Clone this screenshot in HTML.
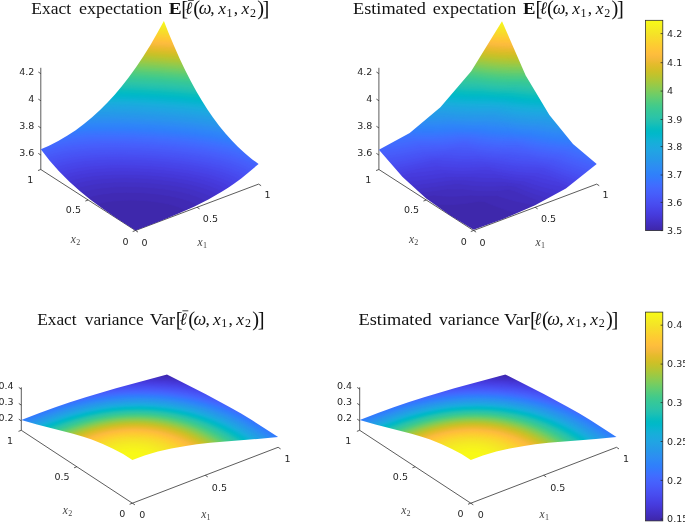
<!DOCTYPE html>
<html><head><meta charset="utf-8"><title>figure</title><style>html,body{margin:0;padding:0;background:#fff}svg{display:block}</style></head><body>
<svg width="685" height="523" viewBox="0 0 685 523">
<rect width="685" height="523" fill="#fff"/>
<path d="M135.50 230.50L258.60 184.10" stroke="#262626" stroke-width="0.75" fill="none"/>
<path d="M135.50 230.50L40.80 169.50" stroke="#262626" stroke-width="0.75" fill="none"/>
<path d="M40.80 169.50L40.80 67.80" stroke="#262626" stroke-width="0.75" fill="none"/>
<path d="M135.50 230.50L138.02 232.12" stroke="#262626" stroke-width="0.75" fill="none"/>
<path d="M135.50 230.50L132.69 231.56" stroke="#262626" stroke-width="0.75" fill="none"/>
<path d="M197.05 207.30L199.57 208.92" stroke="#262626" stroke-width="0.75" fill="none"/>
<path d="M88.15 200.00L85.34 201.06" stroke="#262626" stroke-width="0.75" fill="none"/>
<path d="M258.60 184.10L261.12 185.72" stroke="#262626" stroke-width="0.75" fill="none"/>
<path d="M40.80 169.50L37.99 170.56" stroke="#262626" stroke-width="0.75" fill="none"/>
<path d="M40.80 73.60L38.28 71.98" stroke="#262626" stroke-width="0.75" fill="none"/>
<path d="M40.80 100.70L38.28 99.08" stroke="#262626" stroke-width="0.75" fill="none"/>
<path d="M40.80 127.90L38.28 126.28" stroke="#262626" stroke-width="0.75" fill="none"/>
<path d="M40.80 155.00L38.28 153.38" stroke="#262626" stroke-width="0.75" fill="none"/>
<mask id="c1" maskUnits="userSpaceOnUse" x="0" y="0" width="685" height="523"><path d="M135.5 230.5 161.1 220.7 178.6 213.6 194 206.7 208.3 199.5 221.7 191.8 228.9 187.2 235 183 241.2 178.5 247.3 173.6 258.6 163.9 252.3 159.4 245.2 153.6 238.1 147.1 231.8 140.6 225.5 133.5 219.1 125.8 212.8 117.3 207.3 109.2 201.8 100.6 196.3 91.2 190.7 81.1 185.2 70.3 179.7 58.7 174.2 46.3 168.6 33 163.9 20.9 157.7 32.3 150.6 44.7 143.4 56.3 136.2 67 129 77 121.8 86.2 114.7 94.7 107.5 102.6 100.3 109.8 92.1 117.3 83.9 124.1 75.7 130.2 67.5 135.6 58.2 141.1 49 145.8 40.8 149.3 49.5 160.4 59 171.2 69.2 181.6 79.5 190.8 90.5 199.8 102.4 208.5 115.8 217.7z" fill="#fff"/></mask>
<g mask="url(#c1)">
<path d="M135.5 230.5 161.1 220.7 178.6 213.6 194 206.7 208.3 199.5 221.7 191.8 228.9 187.2 235 183 241.2 178.5 247.3 173.6 258.6 163.9 252.3 159.4 245.2 153.6 238.1 147.1 231.8 140.6 225.5 133.5 219.1 125.8 212.8 117.3 207.3 109.2 201.8 100.6 196.3 91.2 190.7 81.1 185.2 70.3 179.7 58.7 174.2 46.3 168.6 33 163.9 20.9 157.7 32.3 150.6 44.7 143.4 56.3 136.2 67 129 77 121.8 86.2 114.7 94.7 107.5 102.6 100.3 109.8 92.1 117.3 83.9 124.1 75.7 130.2 67.5 135.6 58.2 141.1 49 145.8 40.8 149.3 49.5 160.4 59 171.2 69.2 181.6 79.5 190.8 90.5 199.8 102.4 208.5 115.8 217.7z" fill="#3e28ac" stroke="#3e28ac" stroke-width="1"/>
<path d="M185.9 210.4 197.1 205.2 207.3 200 216.5 194.9 225.8 189.2 235 183 243.2 176.9 251.4 170.2 258.6 163.9 252.3 159.4 245.2 153.6 238.1 147.1 231.8 140.6 225.5 133.5 219.1 125.8 212.8 117.3 207.3 109.2 201.8 100.6 196.3 91.2 190.7 81.1 185.2 70.3 179.7 58.7 174.2 46.3 168.6 33 163.9 20.9 157.7 32.3 150.6 44.7 143.4 56.3 136.2 67 129 77 121.8 86.2 114.7 94.7 107.5 102.6 100.3 109.8 92.1 117.3 83.9 124.1 75.7 130.2 67.5 135.6 58.2 141.1 49 145.8 40.8 149.3 46.3 156.5 52.6 164.1 59 171.2 66.1 178.5 73.2 185.3 80.3 191.5 88.2 197.9 96.7 204.4 101.1 203.1 106 202.1 112.4 201.1 118.2 200.5 130.6 200.1 143.7 200.5 150.7 201.2 157.1 202 163 202.9 168.5 204.1 173.6 205.4 178.2 206.9 182.4 208.6z" fill="#402ab4" stroke="#402ab4" stroke-width="0.8"/>
<path d="M197.7 204.9 206.3 200.6 214.5 196.1 222.7 191.2 229.9 186.5 237.1 181.5 244.2 176.1 251.4 170.2 258.6 163.9 252.3 159.4 245.2 153.6 238.1 147.1 231.8 140.6 225.5 133.5 219.1 125.8 212.8 117.3 207.3 109.2 201.8 100.6 196.3 91.2 190.7 81.1 185.2 70.3 179.7 58.7 174.2 46.3 168.6 33 163.9 20.9 157.7 32.3 150.6 44.7 143.4 56.3 136.2 67 129 77 121.8 86.2 114.7 94.7 107.5 102.6 100.3 109.8 92.1 117.3 83.9 124.1 75.7 130.2 67.5 135.6 58.2 141.1 49 145.8 40.8 149.3 46.3 156.5 51.8 163.2 57.4 169.5 62.9 175.3 68.4 180.8 74.7 186.7 81 192.2 87.6 197.5 92 196.2 98 194.8 104.5 193.7 111.9 192.9 118.8 192.5 126.6 192.3 134.9 192.4 144.4 192.8 152.9 193.5 160.9 194.4 168.8 195.7 175.8 197.1 182.2 198.7 188.4 200.7 193.2 202.6z" fill="#412dbc" stroke="#412dbc" stroke-width="0.8"/>
<path d="M205.9 200.8 213.5 196.6 220.6 192.4 227.8 187.9 234 183.7 240.1 179.2 246.3 174.5 252.4 169.3 258.6 163.9 252.3 159.4 245.2 153.6 238.1 147.1 231.8 140.6 225.5 133.5 219.1 125.8 212.8 117.3 207.3 109.2 201.8 100.6 196.3 91.2 190.7 81.1 185.2 70.3 179.7 58.7 174.2 46.3 168.6 33 163.9 20.9 157.7 32.3 150.6 44.7 143.4 56.3 136.2 67 129 77 121.8 86.2 114.7 94.7 107.5 102.6 100.3 109.8 92.1 117.3 83.9 124.1 75.7 130.2 67.5 135.6 58.2 141.1 49 145.8 40.8 149.3 50.3 161.3 59.7 172 70 182.3 81.4 192.4 86.9 190.8 92.9 189.4 100.7 188.1 109.1 187.3 116.8 186.8 126 186.6 135.9 186.7 145.7 187.2 155.9 188.1 164.3 189.1 173.4 190.5 181.8 192.1 189.4 194.1 196.3 196.3 201.4 198.4z" fill="#4230c3" stroke="#4230c3" stroke-width="0.8"/>
<path d="M212.3 197.3 224.7 189.9 237.1 181.5 248.3 172.8 258.6 163.9 252.3 159.4 245.2 153.6 238.1 147.1 231.8 140.6 225.5 133.5 219.1 125.8 212.8 117.3 207.3 109.2 201.8 100.6 196.3 91.2 190.7 81.1 185.2 70.3 179.7 58.7 174.2 46.3 168.6 33 163.9 20.9 157.7 32.3 150.6 44.7 143.4 56.3 136.2 67 129 77 121.8 86.2 114.7 94.7 107.5 102.6 100.3 109.8 92.1 117.3 83.9 124.1 75.7 130.2 67.5 135.6 58.2 141.1 49 145.8 40.8 149.3 48.7 159.4 57.4 169.5 66.8 179.3 76.4 188.2 81.9 186.5 89.2 184.9 97 183.6 105.7 182.7 115.7 182.1 125.2 181.9 135.2 182.1 146.5 182.6 156.9 183.5 166.9 184.6 177.4 186.2 185.9 187.9 194.8 190.2 201.6 192.4 207.9 194.9z" fill="#4332ca" stroke="#4332ca" stroke-width="0.8"/>
<path d="M217.6 194.2 228.9 187.2 239.1 180 249.4 171.9 258.6 163.9 252.3 159.4 245.2 153.6 238.1 147.1 231.8 140.6 225.5 133.5 219.1 125.8 212.8 117.3 207.3 109.2 201.8 100.6 196.3 91.2 190.7 81.1 185.2 70.3 179.7 58.7 174.2 46.3 168.6 33 163.9 20.9 157.7 32.3 150.6 44.7 143.4 56.3 136.2 67 129 77 121.8 86.2 114.7 94.7 107.5 102.6 100.3 109.8 92.1 117.3 83.9 124.1 75.7 130.2 67.5 135.6 58.2 141.1 49 145.8 40.8 149.3 47.9 158.4 55.8 167.7 63.7 176.1 72.3 184.5 78.9 182.5 86.2 180.9 94 179.6 103.8 178.6 113 178.1 124.3 177.8 135.5 178 147.8 178.6 160 179.7 170.9 181 181.7 182.7 190.3 184.4 199.2 186.7 206.1 188.9 212.3 191.4z" fill="#4435d1" stroke="#4435d1" stroke-width="0.8"/>
<path d="M222.3 191.4 231.9 185.1 241.2 178.5 250.4 171.1 258.6 163.9 252.3 159.4 245.2 153.6 238.1 147.1 231.8 140.6 225.5 133.5 219.1 125.8 212.8 117.3 207.3 109.2 201.8 100.6 196.3 91.2 190.7 81.1 185.2 70.3 179.7 58.7 174.2 46.3 168.6 33 163.9 20.9 157.7 32.3 150.6 44.7 143.4 56.3 136.2 67 129 77 121.8 86.2 114.7 94.7 107.5 102.6 100.3 109.8 92.1 117.3 83.9 124.1 75.7 130.2 67.5 135.6 58.2 141.1 49 145.8 40.8 149.3 47.1 157.5 54.2 165.9 61.3 173.7 68.7 181.1 75.3 179.1 83.8 177.2 93 175.8 102.9 174.9 113.5 174.3 124.6 174.2 136.4 174.4 148.8 175.1 161.9 176.2 173.5 177.6 184.1 179.2 193.9 181.2 202.2 183.3 209.7 185.7 217 188.6z" fill="#4538d8" stroke="#4538d8" stroke-width="0.8"/>
<path d="M226.5 188.8 235 183 243.2 176.9 251.4 170.2 258.6 163.9 252.3 159.4 245.2 153.6 238.1 147.1 231.8 140.6 225.5 133.5 219.1 125.8 212.8 117.3 207.3 109.2 201.8 100.6 196.3 91.2 190.7 81.1 185.2 70.3 179.7 58.7 174.2 46.3 168.6 33 163.9 20.9 157.7 32.3 150.6 44.7 143.4 56.3 136.2 67 129 77 121.8 86.2 114.7 94.7 107.5 102.6 100.3 109.8 92.1 117.3 83.9 124.1 75.7 130.2 67.5 135.6 58.2 141.1 49 145.8 40.8 149.3 46.3 156.5 52.6 164.1 59 171.2 65.5 178 73.3 175.6 81.8 173.8 91.1 172.5 101 171.5 111.5 171 124.3 170.8 136.1 171.1 148.4 171.7 161.5 172.7 173.5 174.1 185.7 175.9 195.6 177.8 204.6 180.1 212.9 182.6 220.2 185.5z" fill="#463bdd" stroke="#463bdd" stroke-width="0.8"/>
<path d="M230.2 186.3 238.1 180.8 245.3 175.3 252.4 169.3 258.6 163.9 252.3 159.4 245.2 153.6 238.1 147.1 231.8 140.6 225.5 133.5 219.1 125.8 212.8 117.3 207.3 109.2 201.8 100.6 196.3 91.2 190.7 81.1 185.2 70.3 179.7 58.7 174.2 46.3 168.6 33 163.9 20.9 157.7 32.3 150.6 44.7 143.4 56.3 136.2 67 129 77 121.8 86.2 114.7 94.7 107.5 102.6 100.3 109.8 92.1 117.3 83.9 124.1 75.7 130.2 67.5 135.6 58.2 141.1 49 145.8 40.8 149.3 45.5 155.5 51.1 162.3 56.6 168.6 62.6 175 70.4 172.7 78.9 170.9 89.2 169.3 99.4 168.4 110.3 167.8 123.6 167.6 137.7 168 150.3 168.7 163.4 169.8 177.3 171.4 188.3 173.1 199.5 175.3 208.5 177.5 217 180.2 224 183z" fill="#473fe2" stroke="#473fe2" stroke-width="0.8"/>
<path d="M233.7 183.9 240.1 179.2 246.3 174.5 252.4 169.3 258.6 163.9 252.3 159.4 245.2 153.6 238.1 147.1 231.8 140.6 225.5 133.5 219.1 125.8 212.8 117.3 207.3 109.2 201.8 100.6 196.3 91.2 190.7 81.1 185.2 70.3 179.7 58.7 174.2 46.3 168.6 33 163.9 20.9 157.7 32.3 150.6 44.7 143.4 56.3 136.2 67 129 77 121.8 86.2 114.7 94.7 107.5 102.6 100.3 109.8 92.1 117.3 83.9 124.1 75.7 130.2 67.5 135.6 58.2 141.1 49 145.8 40.8 149.3 50.3 161.3 60 172.3 67.7 169.9 77.5 167.8 87.9 166.3 98.1 165.4 110.2 164.8 123 164.7 136.5 165 150.7 165.8 165.3 167 178.4 168.5 190.6 170.3 201.8 172.6 212.1 175.1 220.2 177.7 227.4 180.6z" fill="#4743e7" stroke="#4743e7" stroke-width="0.8"/>
<path d="M236.8 181.7 248.3 172.8 258.6 163.9 252.3 159.4 245.2 153.6 238.1 147.1 231.8 140.6 225.5 133.5 219.1 125.8 212.8 117.3 207.3 109.2 201.8 100.6 196.3 91.2 190.7 81.1 185.2 70.3 179.7 58.7 174.2 46.3 168.6 33 163.9 20.9 157.7 32.3 150.6 44.7 143.4 56.3 136.2 67 129 77 121.8 86.2 114.7 94.7 107.5 102.6 100.3 109.8 92.1 117.3 83.9 124.1 75.7 130.2 67.5 135.6 58.2 141.1 49 145.8 40.8 149.3 48.7 159.4 57.5 169.6 65.3 167.3 75 165.2 85.6 163.6 95.5 162.7 107.5 162 120.5 161.8 134.7 162.1 149.8 162.9 164.3 164.1 178.1 165.6 191.1 167.5 202.5 169.6 212.9 172.1 222.3 175 230.6 178.4z" fill="#4746ea" stroke="#4746ea" stroke-width="0.8"/>
<path d="M239.8 179.5 249.4 171.9 258.6 163.9 252.3 159.4 245.2 153.6 238.1 147.1 231.8 140.6 225.5 133.5 219.1 125.8 212.8 117.3 207.3 109.2 201.8 100.6 196.3 91.2 190.7 81.1 185.2 70.3 179.7 58.7 174.2 46.3 168.6 33 163.9 20.9 157.7 32.3 150.6 44.7 143.4 56.3 136.2 67 129 77 121.8 86.2 114.7 94.7 107.5 102.6 100.3 109.8 92.1 117.3 83.9 124.1 75.7 130.2 67.5 135.6 58.2 141.1 49 145.8 40.8 149.3 47.9 158.4 55.3 167.1 63 164.7 72.7 162.6 83.2 161 95.1 159.9 108.2 159.3 122.6 159.2 136.7 159.5 151.6 160.3 167.1 161.6 180.9 163.2 193.6 165.1 205.6 167.4 216 169.9 225.3 172.8 233.6 176.2z" fill="#484aee" stroke="#484aee" stroke-width="0.8"/>
<path d="M242.6 177.4 250.4 171.1 258.6 163.9 252.3 159.4 245.2 153.6 238.1 147.1 231.8 140.6 225.5 133.5 219.1 125.8 212.8 117.3 207.3 109.2 201.8 100.6 196.3 91.2 190.7 81.1 185.2 70.3 179.7 58.7 174.2 46.3 168.6 33 163.9 20.9 157.7 32.3 150.6 44.7 143.4 56.3 136.2 67 129 77 121.8 86.2 114.7 94.7 107.5 102.6 100.3 109.8 92.1 117.3 83.9 124.1 75.7 130.2 67.5 135.6 58.2 141.1 49 145.8 40.8 149.3 47.1 157.5 53.1 164.7 60.8 162.3 70.5 160.1 81 158.5 93.7 157.3 107.2 156.7 120.3 156.6 135.4 156.9 151.3 157.7 167.2 159 181.9 160.7 194.5 162.5 207.2 164.9 218.9 167.8 228.2 170.7 236.4 174.1z" fill="#484ef1" stroke="#484ef1" stroke-width="0.8"/>
<path d="M245.2 175.3 252.4 169.3 258.6 163.9 252.3 159.4 245.2 153.6 238.1 147.1 231.8 140.6 225.5 133.5 219.1 125.8 212.8 117.3 207.3 109.2 201.8 100.6 196.3 91.2 190.7 81.1 185.2 70.3 179.7 58.7 174.2 46.3 168.6 33 163.9 20.9 157.7 32.3 150.6 44.7 143.4 56.3 136.2 67 129 77 121.8 86.2 114.7 94.7 107.5 102.6 100.3 109.8 92.1 117.3 83.9 124.1 75.7 130.2 67.5 135.6 58.2 141.1 49 145.8 40.8 149.3 45.5 155.5 51.1 162.3 59.9 159.6 69.7 157.5 80.8 155.9 93.1 154.8 106.8 154.2 119.9 154.1 136 154.4 152.5 155.3 168.6 156.7 183.4 158.3 197.2 160.4 209.5 162.7 220.3 165.3 229.7 168.3 238.1 171.6 241.8 173.4z" fill="#4852f4" stroke="#4852f4" stroke-width="0.8"/>
<path d="M247.7 173.3 258.6 163.9 252.3 159.4 245.2 153.6 238.1 147.1 231.8 140.6 225.5 133.5 219.1 125.8 212.8 117.3 207.3 109.2 201.8 100.6 196.3 91.2 190.7 81.1 185.2 70.3 179.7 58.7 174.2 46.3 168.6 33 163.9 20.9 157.7 32.3 150.6 44.7 143.4 56.3 136.2 67 129 77 121.8 86.2 114.7 94.7 107.5 102.6 100.3 109.8 92.1 117.3 83.9 124.1 75.7 130.2 67.5 135.6 58.2 141.1 49 145.8 40.8 149.3 49.2 160 53.5 158.6 59.2 157 65.3 155.7 71.6 154.6 78.3 153.6 86.2 152.8 101.6 151.9 119.2 151.6 139.2 152.2 159.3 153.4 178.4 155.3 190.6 156.8 201.4 158.5 211.2 160.5 220.4 162.6 228.9 165.1 235.5 167.4 242.5 170.4z" fill="#4755f6" stroke="#4755f6" stroke-width="0.8"/>
<path d="M250.1 171.3 258.6 163.9 252.3 159.4 245.2 153.6 238.1 147.1 231.8 140.6 225.5 133.5 219.1 125.8 212.8 117.3 207.3 109.2 201.8 100.6 196.3 91.2 190.7 81.1 185.2 70.3 179.7 58.7 174.2 46.3 168.6 33 163.9 20.9 157.7 32.3 150.6 44.7 143.4 56.3 136.2 67 129 77 121.8 86.2 114.7 94.7 107.5 102.6 100.3 109.8 92.1 117.3 83.9 124.1 75.7 130.2 67.5 135.6 58.2 141.1 49 145.8 40.8 149.3 47.3 157.7 51.6 156.3 57.4 154.8 63.4 153.4 69.8 152.3 83.4 150.6 98.1 149.6 115.5 149.3 133.9 149.6 153.4 150.7 174.1 152.4 187.2 154 199.5 155.8 209.8 157.6 220.3 160 230.1 162.8 237.9 165.5 244.9 168.5z" fill="#4759f8" stroke="#4759f8" stroke-width="0.8"/>
<path d="M252.4 169.4 258.6 163.9 250.7 158.2 242.8 151.5 234.9 143.9 227.8 136.3 220.7 127.8 213.6 118.4 206.5 108 199.4 96.6 194.7 88.4 189.9 79.6 181.3 62.1 172.6 42.6 163.9 20.9 157.7 32.3 150.6 44.7 143.4 56.3 136.2 67 129 77 121.8 86.2 114.7 94.7 107.5 102.6 100.3 109.8 92.1 117.3 83.9 124.1 75.7 130.2 67.5 135.6 58.2 141.1 49 145.8 40.8 149.3 45.6 155.6 49.9 154.1 55.6 152.6 61.6 151.2 68 150.1 81.6 148.4 94.9 147.4 111.9 147 130.2 147.2 150.5 148.2 170 149.7 183.5 151.2 197.4 153.1 209.2 155.1 220.1 157.4 230.1 160.1 239.1 163.1 246.2 166.1z" fill="#475dfa" stroke="#475dfa" stroke-width="0.8"/>
<path d="M254.5 167.5 258.6 163.9 251.5 158.8 243.6 152.2 236.5 145.5 229.4 138 222.3 129.8 216 121.6 208.9 111.6 202.6 101.8 197 92.6 192.3 84.1 187.6 75.1 182.8 65.5 178.1 55.3 173.4 44.5 168.6 33 163.9 20.9 157.7 32.3 150.6 44.7 143.4 56.3 136.2 67 129 77 121.8 86.2 114.7 94.7 107.5 102.6 100.3 109.8 92.1 117.3 83.9 124.1 75.7 130.2 67.5 135.6 58.2 141.1 49 145.8 40.8 149.3 43.9 153.4 48.2 152 53.9 150.4 65 148.1 78.4 146.3 93 145.2 109.8 144.7 126.6 144.9 145.8 145.7 165.6 147.1 180.8 148.6 195.2 150.4 208.5 152.6 219.7 154.9 229.9 157.5 239.2 160.4 247.4 163.8 251.1 165.6z" fill="#4660fc" stroke="#4660fc" stroke-width="0.8"/>
<path d="M256.6 165.7 258.6 163.9 252.3 159.4 245.2 153.6 238.1 147.1 231 139.8 223.9 131.7 217.6 123.7 211.3 115.1 204.9 105.6 199.4 96.6 193.9 87 188.4 76.6 183.6 67.1 178.1 55.3 173.4 44.5 168.6 33 163.9 20.9 157.7 32.3 150.6 44.7 143.4 56.3 136.2 67 129 77 121.8 86.2 114.7 94.7 107.5 102.6 100.3 109.8 92.1 117.3 83.9 124.1 75.7 130.2 67.5 135.6 58.2 141.1 49 145.8 40.8 149.3 42.3 151.3 47.7 149.6 53.5 148 59.6 146.7 66 145.6 79.6 143.9 95.8 142.8 110 142.5 125.3 142.7 142.1 143.3 159.2 144.4 175.2 145.8 191.2 147.6 205.9 149.8 219.2 152.4 230.4 155.1 240.2 158.2 249.5 161.9 253.2 163.7z" fill="#4464fd" stroke="#4464fd" stroke-width="0.8"/>
<path d="M257.8 163.4 258.3 163.7 251.5 158.8 244.4 152.9 238.1 147.1 231.8 140.6 225.5 133.5 219.1 125.8 212.8 117.3 207.3 109.2 201.8 100.6 196.3 91.2 190.7 81.1 185.2 70.3 179.7 58.7 174.2 46.3 168.6 33 163.9 20.9 157.7 32.3 150.6 44.7 143.4 56.3 136.2 67 129 77 121.8 86.2 114.7 94.7 107.5 102.6 100.3 109.8 92.1 117.3 83.9 124.1 75.7 130.2 67.5 135.6 58.2 141.1 49 145.8 41.2 149.1 45.1 147.8 50.8 146.3 61.8 144 73.8 142.3 86.7 141.1 100.4 140.5 117.8 140.4 135.1 140.9 152.6 141.8 170.3 143.2 187 144.9 202.7 147.1 217.2 149.7 229.6 152.5 241.1 156 250.5 159.7z" fill="#4368fe" stroke="#4368fe" stroke-width="0.8"/>
<path d="M247.4 155.8 248 156 242 150.8 235.7 144.7 229.4 138 223.9 131.7 218.4 124.8 212.8 117.3 207.3 109.2 202.6 101.8 197 92.6 192.3 84.1 187.6 75.1 182.8 65.5 178.1 55.3 173.4 44.5 168.6 33 163.9 20.9 157.7 32.3 151.6 43 145.4 53.1 139.3 62.5 133.1 71.4 125.9 81 119.8 88.7 112.6 97 106.5 103.6 99.3 110.7 92.1 117.3 84.9 123.2 77.7 128.7 69.5 134.3 62.3 138.7 54.5 143 62.9 141.5 73.7 140 84.2 139.1 96.5 138.5 109.9 138.3 123.1 138.4 138.2 138.9 153.1 139.7 167.6 140.8 182.9 142.3 197.1 144.1 209.2 146 219.2 147.8 229.9 150.3 239.6 153z" fill="#406cfe" stroke="#406cfe" stroke-width="0.8"/>
<path d="M242.7 151.6 243.1 151.8 236.5 145.5 230.2 138.9 224.7 132.6 219.9 126.8 214.4 119.5 209.7 112.8 204.9 105.6 200.2 98 195.5 89.8 190.7 81.1 186 71.9 181.3 62.1 172.6 42.6 163.9 20.9 158.8 30.4 152.6 41.3 146.5 51.4 140.3 61 134.2 70 128 78.4 121.8 86.2 115.7 93.5 109.5 100.4 102.4 107.8 96.2 113.6 89 119.9 82.9 124.9 75.7 130.2 68.5 135 60.9 139.6 70.8 138.2 79.8 137.3 90.1 136.6 101.8 136.3 114.7 136.2 126.6 136.4 140.4 137 153.5 137.7 167.7 138.8 181 140.1 192.9 141.4 205.3 143.2 216.5 145.1 226.1 147.1 234.3 149.1z" fill="#3e70ff" stroke="#3e70ff" stroke-width="0.8"/>
<path d="M238.6 148.1 239.3 148.3 234.1 143.1 228.6 137.2 223.1 130.7 217.6 123.7 212.8 117.3 208.1 110.4 203.4 103.1 198.6 95.3 193.9 87 189.2 78.1 180.5 60.4 171.8 40.7 163.9 20.9 158.8 30.4 152.6 41.3 147.5 49.8 141.3 59.4 136.2 67 130 75.6 123.9 83.7 117.7 91.2 111.6 98.2 105.4 104.7 99.3 110.7 93.1 116.4 87 121.6 79.8 127.2 72.6 132.3 65.8 136.6 74.9 135.6 83.6 134.9 93.1 134.4 104.5 134.2 127.3 134.4 153.8 135.7 179.2 137.8 191.6 139.2 202.6 140.7 212 142.2 221.7 144 231.1 146.1z" fill="#3a74fe" stroke="#3a74fe" stroke-width="0.8"/>
<path d="M235.5 145 236.1 145.2 231 139.8 225.5 133.5 219.9 126.8 215.2 120.6 210.5 113.9 205.7 106.8 197 92.6 188.4 76.6 179.7 58.7 171.8 40.7 163.9 20.9 153.6 39.5 148.5 48.1 142.4 57.9 137.2 65.6 131.1 74.2 125.9 81 119.8 88.7 114.7 94.7 108.5 101.5 102.4 107.8 96.2 113.6 90 119 82.9 124.9 76.7 129.4 70 134 77.8 133.3 86.7 132.7 95.9 132.3 107 132.1 129.6 132.5 154.1 133.8 178.6 135.8 201.4 138.5 219.3 141.4 227.6 143.1z" fill="#3678fd" stroke="#3678fd" stroke-width="0.8"/>
<path d="M232 142 233.3 142.3 227.8 136.3 222.3 129.8 216.8 122.7 212 116.2 203.4 103.1 195.5 89.8 187.6 75.1 179.7 58.7 171.8 40.7 163.9 20.9 153.6 39.5 143.4 56.3 133.1 71.4 128 78.4 121.8 86.2 116.7 92.4 110.6 99.3 104.4 105.7 98.2 111.7 92.1 117.3 85.9 122.4 79.8 127.2 73.7 131.6 82.3 130.9 91.4 130.4 109.5 130.2 130.6 130.6 153.6 131.8 175.9 133.5 197.4 135.9 216.6 138.8z" fill="#327cfc" stroke="#327cfc" stroke-width="0.8"/>
<path d="M229.8 139.4 230.8 139.6 225.5 133.5 220.7 127.8 215.2 120.6 210.5 113.9 202.6 101.8 194.7 88.4 186.8 73.5 178.9 57 171 38.8 163.9 20.9 153.6 39.5 143.4 56.3 133.1 71.4 122.9 84.9 117.7 91.2 111.6 98.2 106.5 103.6 100.3 109.8 95.2 114.5 89 119.9 82.9 124.9 76.9 129.3 93.1 128.4 111.8 128.2 132.7 128.7 154.4 129.9 175.6 131.6 195.7 133.7 214.1 136.4z" fill="#3080fa" stroke="#3080fa" stroke-width="0.8"/>
<path d="M227.3 136.8 228.5 137 223.1 130.7 218.4 124.8 212.8 117.3 208.1 110.4 200.2 98 193.1 85.5 185.2 70.3 178.1 55.3 171 38.8 163.9 20.9 154.7 37.7 144.4 54.7 134.2 70 123.9 83.7 113.6 95.9 108.5 101.5 102.4 107.8 97.2 112.7 91.1 118.2 85.9 122.4 79.9 127.1 96.5 126.4 114 126.3 133.9 126.9 154.3 128 174.6 129.6 194.1 131.6 212.6 134.1z" fill="#2e84f9" stroke="#2e84f9" stroke-width="0.8"/>
<path d="M226.2 134.5 226.3 134.6 221.5 128.8 216.8 122.7 208.9 111.6 201 99.3 193.1 85.5 185.2 70.3 178.1 55.3 171 38.8 163.9 20.9 154.7 37.7 144.4 54.7 135.2 68.5 124.9 82.4 114.7 94.7 104.4 105.7 94.1 115.5 88 120.8 82.7 125 98.4 124.4 116.1 124.5 135.1 125.1 154.7 126.1 175 127.7 194.2 129.7 211.5 132z" fill="#2e87f7" stroke="#2e87f7" stroke-width="0.8"/>
<path d="M223.5 132.1 224.3 132.2 215.2 120.6 210.5 113.9 205.7 106.8 198.6 95.3 191.5 82.6 184.4 68.7 177.3 53.5 170.2 36.9 163.9 20.9 154.7 37.7 145.4 53.1 136.2 67 127 79.7 116.7 92.4 106.5 103.6 96.2 113.6 85.3 122.9 101.4 122.5 118.1 122.6 135.8 123.2 155.1 124.3 174 125.8 192.6 127.6 208.5 129.7z" fill="#2d8bf4" stroke="#2d8bf4" stroke-width="0.8"/>
<path d="M222.2 129.9 222.5 130 213.6 118.4 205.7 106.8 198.6 95.3 191.5 82.6 184.4 68.7 177.3 53.5 170.2 36.9 163.9 20.9 155.7 35.9 146.5 51.4 137.2 65.6 128 78.4 118.8 89.9 108.5 101.5 98.2 111.7 87.8 120.9 102.3 120.6 118.8 120.8 137.6 121.5 155.6 122.5 173.9 123.9 191.3 125.6 207.4 127.6z" fill="#2c8ef1" stroke="#2c8ef1" stroke-width="0.8"/>
<path d="M219.3 127.5 220.7 127.7 212 116.2 204.1 104.4 196.3 91.2 189.2 78.1 182.8 65.5 176.5 51.7 170.2 36.9 163.9 20.9 155.7 35.9 146.5 51.4 138.3 64.1 129 77 119.8 88.7 110.6 99.3 100.3 109.8 90.1 119 104.3 118.8 120 119 136.5 119.6 154.3 120.6 172.7 122 189.9 123.6 205.4 125.5z" fill="#2b92ef" stroke="#2b92ef" stroke-width="0.8"/>
<path d="M217.8 125.4 219 125.6 211.3 115.1 203.4 103.1 195.5 89.8 188.4 76.6 182.1 63.8 175.7 49.9 169.4 35 163.9 20.9 155.7 35.9 147.5 49.8 139.3 62.5 130 75.6 120.8 87.5 111.6 98.2 102.4 107.8 92.3 117.1 106.4 117 121.5 117.2 138.8 117.9 155.9 118.9 173.2 120.2 189.1 121.7 203.8 123.4z" fill="#2895ec" stroke="#2895ec" stroke-width="0.8"/>
<path d="M216.2 123.3 217.4 123.5 209.7 112.8 201.8 100.6 194.7 88.4 187.6 75.1 181.3 62.1 175.7 49.9 169.4 35 163.9 20.9 155.7 35.9 147.5 49.8 139.3 62.5 131.1 74.2 122.9 84.9 113.6 95.9 104.4 105.7 94.4 115.2 108.6 115.2 123.6 115.5 139.3 116.2 155.7 117.1 172 118.3 188.9 119.9 202.9 121.5z" fill="#2798ea" stroke="#2798ea" stroke-width="0.8"/>
<path d="M214.6 121.2 215.8 121.4 208.1 110.4 201 99.3 193.9 87 186.8 73.5 180.5 60.4 174.9 48.1 169.4 35 163.9 20.9 155.7 35.9 147.5 49.8 139.3 62.5 131.1 74.2 122.9 84.9 113.6 95.9 105.4 104.7 96.4 113.4 109.2 113.4 124.3 113.8 139.9 114.4 156 115.4 171.5 116.5 187.1 117.9 202 119.6z" fill="#259be8" stroke="#259be8" stroke-width="0.8"/>
<path d="M212.9 119.2 214.3 119.4 207.3 109.2 200.2 98 193.1 85.5 186 71.9 180.5 60.4 174.9 48.1 169.4 35 163.9 20.9 156.7 34.1 148.5 48.1 140.3 61 132.1 72.8 123.9 83.7 115.7 93.5 107.5 102.6 98.3 111.6 111.3 111.7 124.9 112 155.2 113.6 171.3 114.7 186.4 116.1 200.2 117.6z" fill="#249ee6" stroke="#249ee6" stroke-width="0.8"/>
<path d="M212.8 117.4 212.9 117.4 204.9 105.6 199.4 96.6 193.1 85.5 187.6 75.1 181.3 62.1 175.7 49.9 169.4 35 163.9 20.9 156.7 34.1 148.5 48.1 141.3 59.4 133.1 71.4 124.9 82.4 116.7 92.4 108.5 101.5 100.2 109.9 113.6 110 127.2 110.4 156.7 111.9 186.6 114.4 199.9 115.8z" fill="#22a1e4" stroke="#22a1e4" stroke-width="0.8"/>
<path d="M211 115.4 211.5 115.5 204.1 104.4 197 92.6 191.5 82.6 186 71.9 180.5 60.4 174.9 48.1 169.4 35 163.9 20.9 156.7 34.1 149.5 46.4 142.4 57.9 134.2 70 127 79.7 118.8 89.9 110.6 99.3 102 108.1 127.8 108.7 156.4 110.2 185.9 112.6z" fill="#20a4e3" stroke="#20a4e3" stroke-width="0.8"/>
<path d="M209.1 113.4 210.2 113.5 203.4 103.1 197 92.6 190.7 81.1 184.4 68.7 178.9 57 174.2 46.3 168.6 33 163.9 20.9 156.7 34.1 149.5 46.4 142.4 57.9 135.2 68.5 128 78.4 119.8 88.7 111.6 98.2 103.7 106.4 128.5 107 156.9 108.5 184.3 110.7z" fill="#1ea7e1" stroke="#1ea7e1" stroke-width="0.8"/>
<path d="M208.9 111.6 202.6 101.8 197 92.6 190.7 81.1 185.2 70.3 179.7 58.7 174.2 46.3 168.6 33 163.9 20.9 156.7 34.1 149.5 46.4 142.4 57.9 135.2 68.5 128 78.4 120.8 87.5 113.6 95.9 105.4 104.7 129.4 105.3 157.4 106.9 185.4 109.1z" fill="#1baade" stroke="#1baade" stroke-width="0.8"/>
<path d="M206.9 109.7 207.7 109.8 201.8 100.6 195.5 89.8 189.2 78.1 183.6 67.1 178.1 55.3 173.4 44.5 168.6 33 163.9 20.9 157.7 32.3 150.6 44.7 143.4 56.3 136.2 67 129 77 121.8 86.2 114.7 94.7 107 103 130.9 103.7 157 105.1 183.5 107.2z" fill="#19addc" stroke="#19addc" stroke-width="0.8"/>
<path d="M205 107.8 206.4 107.9 200.2 98 193.9 87 187.6 75.1 182.1 63.8 177.3 53.5 172.6 42.6 163.9 20.9 157.7 32.3 150.6 44.7 144.4 54.7 137.2 65.6 130 75.6 122.9 84.9 115.7 93.5 108.6 101.4 132.3 102.1 157.3 103.5 183.1 105.5z" fill="#14b0d8" stroke="#14b0d8" stroke-width="0.8"/>
<path d="M204.6 106 205.3 106.1 199.4 96.6 193.9 87 188.4 76.6 182.8 65.5 178.1 55.3 173.4 44.5 168.6 33 163.9 20.9 157.7 32.3 151.6 43 145.4 53.1 138.3 64.1 132.1 72.8 124.9 82.4 117.7 91.2 110.1 99.7 133.1 100.5 157.9 101.9 182.7 103.8z" fill="#0fb2d5" stroke="#0fb2d5" stroke-width="0.8"/>
<path d="M202.5 104.1 204.1 104.3 197.8 93.9 192.3 84.1 186 71.9 180.5 60.4 171.8 40.7 163.9 20.9 157.7 32.3 151.6 43 145.4 53.1 138.3 64.1 132.1 72.8 124.9 82.4 118.8 89.9 111.6 98.1 133.9 98.9 157.1 100.2 180.5 102z" fill="#09b4d1" stroke="#09b4d1" stroke-width="0.8"/>
<path d="M202.1 102.4 203 102.5 197.8 93.9 192.3 84.1 186.8 73.5 181.3 62.1 172.6 42.6 163.9 20.9 157.7 32.3 151.6 43 145.4 53.1 139.3 62.5 133.1 71.4 125.9 81 119.8 88.7 113.1 96.5 134.7 97.3 157.9 98.6 180 100.3z" fill="#04b6cd" stroke="#04b6cd" stroke-width="0.8"/>
<path d="M201.7 100.7 201.9 100.7 196.3 91.2 190.7 81.1 182.1 63.8 177.3 53.5 172.6 42.6 163.9 20.9 158.8 30.4 152.6 41.3 146.5 51.4 140.3 61 134.2 70 128 78.4 120.8 87.5 114.5 94.9 135.5 95.7 158.1 97 181.2 98.7z" fill="#01b8c9" stroke="#01b8c9" stroke-width="0.8"/>
<path d="M199.5 98.9 200.8 99 195.5 89.8 189.9 79.6 184.4 68.7 178.9 57 171 38.8 163.9 20.9 158.8 30.4 152.6 41.3 146.5 51.4 140.3 61 134.2 70 128 78.4 121.8 86.2 115.9 93.3 136.3 94.1 157.8 95.3 179.9 97z" fill="#02bac4" stroke="#02bac4" stroke-width="0.8"/>
<path d="M199 97.2 199.8 97.3 194.7 88.4 189.9 79.6 184.4 68.7 179.7 58.7 171.8 40.7 163.9 20.9 158.8 30.4 152.6 41.3 147.5 49.8 141.3 59.4 135.2 68.5 129 77 122.9 84.9 117.3 91.7 137.2 92.5 158.6 93.8 178.9 95.3z" fill="#07bcc0" stroke="#07bcc0" stroke-width="0.8"/>
<path d="M198.5 95.5 198.8 95.5 193.9 87 188.4 76.6 180.5 60.4 171.8 40.7 163.9 20.9 153.6 39.5 148.5 48.1 142.4 57.9 137.2 65.6 131.1 74.2 124.9 82.4 118.6 90.2 138 91 158.1 92.2 177.9 93.6z" fill="#0dbdbb" stroke="#0dbdbb" stroke-width="0.8"/>
<path d="M196.2 93.7 197.8 93.8 189.2 78.1 180.5 60.4 171.8 40.7 163.9 20.9 153.6 39.5 148.5 48.1 142.4 57.9 137.2 65.6 131.1 74.2 125.9 81 119.9 88.6 138.9 89.4 158.6 90.6 178.8 92.1z" fill="#16bfb7" stroke="#16bfb7" stroke-width="0.8"/>
<path d="M195.6 92 196.8 92.1 188.4 76.6 179.7 58.7 171.8 40.7 163.9 20.9 153.6 39.5 143.4 56.3 138.3 64.1 132.1 72.8 127 79.7 121.1 87.1 139.8 87.9 158.7 89 177.9 90.4z" fill="#1ec0b2" stroke="#1ec0b2" stroke-width="0.8"/>
<path d="M195 90.4 195.8 90.4 186.8 73.5 182.1 63.8 177.3 53.5 170.2 36.9 163.9 20.9 153.6 39.5 143.4 56.3 133.1 71.4 128 78.4 122.4 85.5 139.6 86.3 158.7 87.4 177.7 88.8z" fill="#25c2ad" stroke="#25c2ad" stroke-width="0.8"/>
<path d="M194.4 88.7 194.9 88.8 186 71.9 178.1 55.3 171 38.8 163.9 20.9 154.7 37.7 144.4 54.7 134.2 70 129 77 123.6 84 159.2 85.9z" fill="#2ac3a9" stroke="#2ac3a9" stroke-width="0.8"/>
<path d="M193.8 87.1 194 87.1 185.2 70.3 178.1 55.3 171 38.8 163.9 20.9 154.7 37.7 144.4 54.7 135.2 68.5 124.8 82.5 158.7 84.3z" fill="#2ec5a4" stroke="#2ec5a4" stroke-width="0.8"/>
<path d="M191.4 85.3 193.1 85.5 185.2 70.3 178.1 55.3 171 38.8 163.9 20.9 154.7 37.7 145.4 53.1 136.2 67 126 81 159.6 82.8z" fill="#32c69e" stroke="#32c69e" stroke-width="0.8"/>
<path d="M190.7 83.7 192.2 83.8 185.2 70.3 178.1 55.3 171 38.8 163.9 20.9 154.7 37.7 145.4 53.1 136.2 67 127.1 79.5 158.9 81.2z" fill="#36c799" stroke="#36c799" stroke-width="0.8"/>
<path d="M190.1 82.1 191.3 82.2 184.4 68.7 177.3 53.5 170.2 36.9 163.9 20.9 155.7 35.9 146.5 51.4 137.2 65.6 128.3 78 159.9 79.8z" fill="#3ac993" stroke="#3ac993" stroke-width="0.8"/>
<path d="M189.3 80.5 190.4 80.6 183.6 67.1 176.5 51.7 170.2 36.9 163.9 20.9 155.7 35.9 147.5 49.8 138.3 64.1 129.4 76.5 159.1 78.2z" fill="#40ca8d" stroke="#40ca8d" stroke-width="0.8"/>
<path d="M188.6 78.9 189.6 79 182.8 65.5 176.5 51.7 170.2 36.9 163.9 20.9 155.7 35.9 147.5 49.8 139.3 62.5 130.5 75 160.1 76.7z" fill="#47cb87" stroke="#47cb87" stroke-width="0.8"/>
<path d="M187.9 77.3 188.8 77.4 182.1 63.8 175.7 49.9 169.4 35 163.9 20.9 156.7 34.1 148.5 48.1 140.3 61 131.6 73.6 159.4 75.2z" fill="#4fcc80" stroke="#4fcc80" stroke-width="0.8"/>
<path d="M187.1 75.7 188 75.8 182.1 63.8 175.7 49.9 169.4 35 163.9 20.9 156.7 34.1 148.5 48.1 140.3 61 132.6 72.1 160.3 73.7z" fill="#57cc7a" stroke="#57cc7a" stroke-width="0.8"/>
<path d="M186.3 74.1 187.2 74.2 181.3 62.1 174.9 48.1 169.4 35 163.9 20.9 156.7 34.1 149.5 46.4 141.3 59.4 133.7 70.6 159.6 72.1z" fill="#60cd72" stroke="#60cd72" stroke-width="0.8"/>
<path d="M185.6 72.6 186.4 72.6 180.5 60.4 174.9 48.1 169.4 35 163.9 20.9 156.7 34.1 149.5 46.4 142.4 57.9 134.7 69.2 160.6 70.7z" fill="#69cd6b" stroke="#69cd6b" stroke-width="0.8"/>
<path d="M184.8 71 185.6 71.1 180.5 60.4 174.9 48.1 169.4 35 163.9 20.9 156.7 34.1 149.5 46.4 142.4 57.9 135.7 67.7 159.8 69.2z" fill="#72cd64" stroke="#72cd64" stroke-width="0.8"/>
<path d="M183.9 69.4 184.8 69.5 179.7 58.7 174.2 46.3 168.6 33 163.9 20.9 157.7 32.3 150.6 44.7 143.4 56.3 136.7 66.3 160.7 67.7z" fill="#7ccc5c" stroke="#7ccc5c" stroke-width="0.8"/>
<path d="M183.1 67.9 184 68 178.9 57 174.2 46.3 168.6 33 163.9 20.9 157.7 32.3 150.6 44.7 144.4 54.7 137.7 64.9 160.2 66.2z" fill="#85cb55" stroke="#85cb55" stroke-width="0.8"/>
<path d="M182.3 66.3 183.3 66.4 178.1 55.3 173.4 44.5 168.6 33 163.9 20.9 157.7 32.3 151.6 43 145.4 53.1 138.7 63.4 160.8 64.8z" fill="#8fcb4e" stroke="#8fcb4e" stroke-width="0.8"/>
<path d="M181.4 64.8 182.6 64.9 173.4 44.5 168.6 33 163.9 20.9 157.7 32.3 151.6 43 145.4 53.1 139.6 62 160.6 63.3z" fill="#98c947" stroke="#98c947" stroke-width="0.8"/>
<path d="M180.6 63.2 181.8 63.3 177.3 53.5 172.6 42.6 163.9 20.9 158.8 30.4 152.6 41.3 146.5 51.4 140.6 60.6z" fill="#a2c840" stroke="#a2c840" stroke-width="0.8"/>
<path d="M179.7 61.7 181.1 61.8 172.6 42.6 163.9 20.9 158.8 30.4 152.6 41.3 147.5 49.8 141.5 59.2z" fill="#abc739" stroke="#abc739" stroke-width="0.8"/>
<path d="M178.8 60.2 180.4 60.3 171.8 40.7 163.9 20.9 153.6 39.5 148.5 48.1 142.4 57.7z" fill="#b3c534" stroke="#b3c534" stroke-width="0.8"/>
<path d="M179.7 58.8 171.8 40.7 163.9 20.9 153.6 39.5 143.4 56.3z" fill="#bcc42f" stroke="#bcc42f" stroke-width="0.8"/>
<path d="M178.7 57.2 179 57.3 171 38.8 163.9 20.9 154.7 37.7 144.3 54.9z" fill="#c4c22a" stroke="#c4c22a" stroke-width="0.8"/>
<path d="M177.8 55.7 178.3 55.8 171 38.8 163.9 20.9 154.7 37.7 145.1 53.5z" fill="#ccc028" stroke="#ccc028" stroke-width="0.8"/>
<path d="M176.9 54.2 177.7 54.3 171 38.8 163.9 20.9 154.7 37.7 146 52.1z" fill="#d4bf28" stroke="#d4bf28" stroke-width="0.8"/>
<path d="M175.9 52.7 177 52.8 170.2 36.9 163.9 20.9 155.7 35.9 146.9 50.7z" fill="#dbbd29" stroke="#dbbd29" stroke-width="0.8"/>
<path d="M175 51.2 176.3 51.3 170.2 36.9 163.9 20.9 155.7 35.9 147.8 49.4z" fill="#e2bc2b" stroke="#e2bc2b" stroke-width="0.8"/>
<path d="M174 49.7 175.7 49.8 169.4 35 163.9 20.9 156.7 34.1 148.6 48z" fill="#e8bb2f" stroke="#e8bb2f" stroke-width="0.8"/>
<path d="M174.9 48.3 175 48.3 169.4 35 163.9 20.9 156.7 34.1 149.4 46.6z" fill="#eeba34" stroke="#eeba34" stroke-width="0.8"/>
<path d="M173.9 46.8 174.4 46.8 169.4 35 163.9 20.9 156.7 34.1 150.3 45.2z" fill="#f4ba39" stroke="#f4ba39" stroke-width="0.8"/>
<path d="M172.9 45.3 173.8 45.4 168.6 33 163.9 20.9 157.7 32.3 151.1 43.8z" fill="#f9bb3d" stroke="#f9bb3d" stroke-width="0.8"/>
<path d="M171.9 43.8 173.1 43.9 163.9 20.9 157.7 32.3 151.9 42.5z" fill="#fdbd3d" stroke="#fdbd3d" stroke-width="0.8"/>
<path d="M170.9 42.3 172.5 42.4 163.9 20.9 158.8 30.4 152.7 41.1z" fill="#fec03a" stroke="#fec03a" stroke-width="0.8"/>
<path d="M171.7 41 171.9 41 163.9 20.9 153.5 39.7z" fill="#fec437" stroke="#fec437" stroke-width="0.8"/>
<path d="M170.6 39.5 171.3 39.5 163.9 20.9 154.3 38.4z" fill="#fec835" stroke="#fec835" stroke-width="0.8"/>
<path d="M169.6 38 170.7 38.1 163.9 20.9 155.1 37z" fill="#fdcc32" stroke="#fdcc32" stroke-width="0.8"/>
<path d="M168.6 36.5 170.1 36.6 163.9 20.9 155.8 35.7z" fill="#fcd030" stroke="#fcd030" stroke-width="0.8"/>
<path d="M169.3 35.2 169.5 35.2 163.9 20.9 156.6 34.3z" fill="#fad42e" stroke="#fad42e" stroke-width="0.8"/>
<path d="M168.3 33.7 168.9 33.7 163.9 20.9 157.4 33z" fill="#f8d92c" stroke="#f8d92c" stroke-width="0.8"/>
<path d="M167.2 32.2 168.3 32.3 163.9 20.9 158.1 31.6z" fill="#f7dd2a" stroke="#f7dd2a" stroke-width="0.8"/>
<path d="M166.1 30.8 167.8 30.9 163.9 20.9 158.9 30.3z" fill="#f6e128" stroke="#f6e128" stroke-width="0.8"/>
<path d="M166.9 29.4 167.2 29.4 163.9 20.9 159.6 28.9z" fill="#f5e526" stroke="#f5e526" stroke-width="0.8"/>
<path d="M165.8 28 166.6 28 163.9 20.9 160.3 27.6z" fill="#f5e924" stroke="#f5e924" stroke-width="0.8"/>
<path d="M164.7 26.5 166.1 26.6 163.9 20.9 161.1 26.3z" fill="#f5ed21" stroke="#f5ed21" stroke-width="0.8"/>
<path d="M165.4 25.2 165.5 25.2 163.9 20.9 161.8 24.9z" fill="#f6f11e" stroke="#f6f11e" stroke-width="0.8"/>
<path d="M164.3 23.7 165 23.8 163.9 20.9 162.5 23.6z" fill="#f7f51b" stroke="#f7f51b" stroke-width="0.8"/>
<path d="M163.2 22.3 164.5 22.3 163.9 20.9z" fill="#f8f917" stroke="#f8f917" stroke-width="0.8"/>
</g>
<text x="34.3" y="74.5" text-anchor="end" font-size="9.5" font-family="DejaVu Sans, Liberation Sans, sans-serif" fill="#262626" >4.2</text>
<text x="34.3" y="101.6" text-anchor="end" font-size="9.5" font-family="DejaVu Sans, Liberation Sans, sans-serif" fill="#262626" >4</text>
<text x="34.3" y="128.8" text-anchor="end" font-size="9.5" font-family="DejaVu Sans, Liberation Sans, sans-serif" fill="#262626" >3.8</text>
<text x="34.3" y="155.9" text-anchor="end" font-size="9.5" font-family="DejaVu Sans, Liberation Sans, sans-serif" fill="#262626" >3.6</text>
<text x="30.2" y="182.8" text-anchor="middle" font-size="9.5" font-family="DejaVu Sans, Liberation Sans, sans-serif" fill="#262626" >1</text>
<text x="73.4" y="213.2" text-anchor="middle" font-size="9.5" font-family="DejaVu Sans, Liberation Sans, sans-serif" fill="#262626" >0.5</text>
<text x="125.6" y="244.6" text-anchor="middle" font-size="9.5" font-family="DejaVu Sans, Liberation Sans, sans-serif" fill="#262626" >0</text>
<text x="144.4" y="245.8" text-anchor="middle" font-size="9.5" font-family="DejaVu Sans, Liberation Sans, sans-serif" fill="#262626" >0</text>
<text x="210.4" y="222.4" text-anchor="middle" font-size="9.5" font-family="DejaVu Sans, Liberation Sans, sans-serif" fill="#262626" >0.5</text>
<text x="267.4" y="198.1" text-anchor="middle" font-size="9.5" font-family="DejaVu Sans, Liberation Sans, sans-serif" fill="#262626" >1</text>
<text x="70.8" y="243.4" font-family="Liberation Serif, serif" font-size="11.5" font-style="italic" fill="#444">x<tspan font-size="8" font-style="normal" dy="2" dx="0.3">2</tspan></text>
<text x="197.5" y="246.4" font-family="Liberation Serif, serif" font-size="11.5" font-style="italic" fill="#444">x<tspan font-size="8" font-style="normal" dy="2" dx="0.3">1</tspan></text>
<path d="M473.60 230.50L596.70 184.10" stroke="#262626" stroke-width="0.75" fill="none"/>
<path d="M473.60 230.50L378.90 169.50" stroke="#262626" stroke-width="0.75" fill="none"/>
<path d="M378.90 169.50L378.90 67.80" stroke="#262626" stroke-width="0.75" fill="none"/>
<path d="M473.60 230.50L476.12 232.12" stroke="#262626" stroke-width="0.75" fill="none"/>
<path d="M473.60 230.50L470.79 231.56" stroke="#262626" stroke-width="0.75" fill="none"/>
<path d="M535.15 207.30L537.67 208.92" stroke="#262626" stroke-width="0.75" fill="none"/>
<path d="M426.25 200.00L423.44 201.06" stroke="#262626" stroke-width="0.75" fill="none"/>
<path d="M596.70 184.10L599.22 185.72" stroke="#262626" stroke-width="0.75" fill="none"/>
<path d="M378.90 169.50L376.09 170.56" stroke="#262626" stroke-width="0.75" fill="none"/>
<path d="M378.90 73.60L376.38 71.98" stroke="#262626" stroke-width="0.75" fill="none"/>
<path d="M378.90 100.70L376.38 99.08" stroke="#262626" stroke-width="0.75" fill="none"/>
<path d="M378.90 127.90L376.38 126.28" stroke="#262626" stroke-width="0.75" fill="none"/>
<path d="M378.90 155.00L376.38 153.38" stroke="#262626" stroke-width="0.75" fill="none"/>
<mask id="c2" maskUnits="userSpaceOnUse" x="0" y="0" width="685" height="523"><path d="M473.6 229.8 504.4 218.5 535.1 205.2 565.9 188.6 596.7 164 573 144.1 549.4 115 525.7 75.5 502 21.3 471.2 71.3 440.4 107.2 409.7 133.1 378.9 149.8 402.6 177.1 426.2 198.5 449.9 215.2z" fill="#fff"/></mask>
<g mask="url(#c2)">
<path d="M473.6 229.8 504.4 218.5 535.1 205.2 565.9 188.6 596.7 164 573 144.1 549.4 115 525.7 75.5 502 21.3 471.2 71.3 440.4 107.2 409.7 133.1 378.9 149.8 402.6 177.1 426.2 198.5 449.9 215.2z" fill="#3e28ac" stroke="#3e28ac" stroke-width="1"/>
<path d="M516.6 213.2 535.1 205.2 565.9 188.6 596.7 164 573 144.1 549.4 115 525.7 75.5 502 21.3 471.2 71.3 440.4 107.2 409.7 133.1 378.9 149.8 402.6 177.1 426.2 198.5 433.6 203.7 443.4 204.6 448.2 204.7 454.2 204.5 465.8 203.4 478.7 201.3 484 201.4 492.5 205 500.6 208.1 508.3 210.7z" fill="#402ab4" stroke="#402ab4" stroke-width="0.8"/>
<path d="M534.3 204.7 535.4 205.1 565.9 188.6 596.7 164 573 144.1 549.4 115 525.7 75.5 502 21.3 471.2 71.3 440.4 107.2 409.7 133.1 378.9 149.8 402.6 177.1 423.9 196.4 433.9 195 442.6 195.9 451.3 196.2 460.7 195.9 470.7 195.1 477.1 195.6 483.2 195.8 489.7 195.8 496.8 195.5 506.1 198.4 516 201.1 525.5 203.2z" fill="#412dbc" stroke="#412dbc" stroke-width="0.8"/>
<path d="M542 201.5 565.9 188.6 596.7 164 573 144.1 549.4 115 525.7 75.5 502 21.3 471.2 71.3 440.4 107.2 409.7 133.1 378.9 149.8 402.6 177.1 419.8 192.6 447.3 188.9 454.9 189.1 462.8 188.9 473.6 190.2 485.2 190.8 497.8 190.5 509.6 189.6 514.4 190.8 528.8 196.8z" fill="#4230c3" stroke="#4230c3" stroke-width="0.8"/>
<path d="M547.3 197.7 548.5 198 565.9 188.6 596.7 164 573 144.1 549.4 115 525.7 75.5 502 21.3 471.2 71.3 440.4 107.2 409.7 133.1 378.9 149.8 402.6 177.1 415.7 188.9 436 186.3 456 183.5 458.8 183.5 465.8 184.6 472.9 185.4 482.7 186 494.6 186.1 507.7 185.4 515.3 186.4 523.5 189.7 532.1 192.9 539.6 195.4z" fill="#4332ca" stroke="#4332ca" stroke-width="0.8"/>
<path d="M553.8 194.2 555.1 194.4 565.9 188.6 596.7 164 573 144.1 549.4 115 525.7 75.5 502 21.3 471.2 71.3 440.4 107.2 409.7 133.1 378.9 149.8 402.6 177.1 411.6 185.2 432 182.7 452.1 179.9 465.2 180 475.1 181.1 485.8 181.7 494.7 181.8 503.3 181.5 511.4 182.7 519.7 183.6 528.3 186.8 537.4 189.8 546 192.3z" fill="#4435d1" stroke="#4435d1" stroke-width="0.8"/>
<path d="M561.7 190.9 565.9 188.6 596.7 164 573 144.1 549.4 115 525.7 75.5 502 21.3 471.2 71.3 440.4 107.2 409.7 133.1 378.9 149.8 402.6 177.1 407.5 181.5 428.1 179.1 448.3 176.4 460.2 176.7 471.6 176.5 478.7 177.1 485.8 177.5 498.9 177.6 511.9 179.7 524.1 180.9 533.2 183.9 542.8 186.7 552.7 189.1z" fill="#4538d8" stroke="#4538d8" stroke-width="0.8"/>
<path d="M566.8 187.9 596.7 164 573 144.1 549.4 115 525.7 75.5 502 21.3 471.2 71.3 440.4 107.2 409.7 133.1 378.9 149.8 402.6 177.1 403.4 177.8 424.1 175.4 444.4 172.8 458.4 173.5 468.1 173.4 478.1 173 486.1 173.5 494.5 173.7 502.3 175.2 511.4 176.6 520 177.5 528.6 178.2 536.8 180.7 544.3 182.7 553.6 184.8 563.4 186.6z" fill="#463bdd" stroke="#463bdd" stroke-width="0.8"/>
<path d="M569.3 185.9 596.7 164 573 144.1 549.4 115 525.7 75.5 502 21.3 471.2 71.3 440.4 107.2 409.7 133.1 378.9 149.8 400.9 175.2 411.8 172.8 440.6 169.3 451 170.1 460.9 170.4 472.9 170.2 484.5 169.5 490.1 169.8 501.4 172 512 173.7 522.2 174.8 533 175.4 545.5 178.8 556.6 181.2z" fill="#473fe2" stroke="#473fe2" stroke-width="0.8"/>
<path d="M571.9 183.9 596.7 164 573 144.1 549.4 115 525.7 75.5 502 21.3 471.2 71.3 440.4 107.2 409.7 133.1 378.9 149.8 398.8 172.7 423.2 167.4 436.8 165.8 449.9 166.9 461.9 167.3 474.6 167.1 486.6 166.4 489.2 166.7 503.2 169.5 514.1 171 526 172.2 537.5 172.7 549.7 175.7z" fill="#4743e7" stroke="#4743e7" stroke-width="0.8"/>
<path d="M573.3 181.5 574.4 181.9 596.7 164 573 144.1 549.4 115 525.7 75.5 502 21.3 471.2 71.3 440.4 107.2 409.7 133.1 378.9 149.8 396.7 170.3 414 166.8 433.2 162.4 447.4 163.7 458.8 164.2 471.5 164.2 484 163.7 492.2 164.5 505.1 166.9 517.6 168.6 530 169.6 541.9 169.9z" fill="#4746ea" stroke="#4746ea" stroke-width="0.8"/>
<path d="M576.9 179.9 596.7 164 573 144.1 549.4 115 525.7 75.5 502 21.3 471.2 71.3 440.4 107.2 409.7 133.1 378.9 149.8 394.6 167.9 412 164.5 431.4 160.2 437.7 159.8 449.9 160.8 462.4 161.3 472.1 161.3 481.4 161 488.1 161.8 495.1 162.3 506 164.2 516.3 165.6 527.6 166.6 539.8 167.2 544.4 167.9z" fill="#484aee" stroke="#484aee" stroke-width="0.8"/>
<path d="M578.3 177.5 579.4 177.9 596.7 164 573 144.1 549.4 115 525.7 75.5 502 21.3 471.2 71.3 440.4 107.2 409.7 133.1 378.9 149.8 392.6 165.5 410.1 162.2 429.6 158 441.7 157.2 450.7 157.9 460.1 158.4 469.4 158.4 478.8 158.2 488.9 159.5 498.1 160.1 508.5 161.9 518.1 163.1 528.3 163.9 537.1 164.4 546.7 166z" fill="#484ef1" stroke="#484ef1" stroke-width="0.8"/>
<path d="M581.9 175.8 596.7 164 573 144.1 549.4 115 525.7 75.5 502 21.3 471.2 71.3 440.4 107.2 409.7 133.1 378.9 149.8 390.5 163.1 408.5 159.8 427.9 155.8 437 155.4 445.6 154.7 460.6 155.5 476.2 155.5 488.5 157.1 501 158 509.8 159.3 518.2 160.4 526.8 161.1 534.4 161.6 549.1 164z" fill="#4852f4" stroke="#4852f4" stroke-width="0.8"/>
<path d="M583.3 173.4 584.4 173.8 596.7 164 573 144.1 549.4 115 525.7 75.5 502 21.3 471.2 71.3 440.4 107.2 409.7 133.1 378.9 149.8 388.4 160.7 406.3 157.6 426.1 153.6 438.3 153.1 449.6 152.1 460.9 152.7 473.6 152.8 481.1 154 488.2 154.8 496.3 155.5 504 155.8 518.2 157.7 531.8 158.8 542.2 160.7 551.4 162.1z" fill="#4755f6" stroke="#4755f6" stroke-width="0.8"/>
<path d="M586.9 171.8 596.7 164 573 144.1 549.4 115 525.7 75.5 502 21.3 471.2 71.3 440.4 107.2 409.7 133.1 378.9 149.8 386.3 158.3 404.4 155.3 424.4 151.4 438.2 150.9 453.5 149.6 462.8 150 471.1 150.1 479.8 151.5 488.4 152.6 497.2 153.3 507 153.6 518.1 155 529.1 156 541.5 158.3 553.8 160.1z" fill="#4759f8" stroke="#4759f8" stroke-width="0.8"/>
<path d="M589.4 169.8 596.7 164 573 144.1 549.4 115 525.7 75.5 502 21.3 471.2 71.3 440.4 107.2 409.7 133.1 378.9 149.8 384.2 155.9 402.4 153 422.6 149.2 430.6 149.1 439.7 148.7 448.4 148 457.5 147 468.5 147.3 479.4 149.2 489.1 150.4 499.9 151.2 509.9 151.4 518 152.4 526.4 153.2 540.6 156 556.1 158.2z" fill="#475dfa" stroke="#475dfa" stroke-width="0.8"/>
<path d="M592 167.8 596.7 164 573 144.1 549.4 115 525.7 75.5 502 21.3 471.2 71.3 440.4 107.2 409.7 133.1 378.9 149.8 382.1 153.5 400.5 150.7 420.8 147 429.2 147 438.1 146.6 449.3 145.8 461.4 144.5 465.9 144.6 477.3 146.7 489.4 148.2 500.6 149 512.9 149.3 523.7 150.4 541.3 153.9 558.4 156.3z" fill="#4660fc" stroke="#4660fc" stroke-width="0.8"/>
<path d="M594.5 165.8 596.7 164 573 144.1 549.4 115 525.7 75.5 502 21.3 471.2 71.3 440.4 107.2 409.7 133.1 378.9 149.8 380 151.1 399.5 148.2 419.1 144.8 428.9 144.8 439.6 144.4 449.9 143.7 463.7 142.1 464.7 142.2 477.1 144.5 489.3 146 502.1 146.9 515.8 147.1 521.1 147.6 530.8 149.7 540.4 151.5 550.6 153.1 560.8 154.3 577.4 160.1z" fill="#4464fd" stroke="#4464fd" stroke-width="0.8"/>
<path d="M595.8 163.4 596.1 163.5 573 144.1 549.4 115 525.7 75.5 502 21.3 471.2 71.3 440.4 107.2 409.7 133.1 381.8 148.2 399.1 145.7 417.3 142.6 427.2 142.7 437.7 142.4 449.9 141.6 462.5 140.3 466.6 140.4 479.7 142.7 492.9 144.2 505.4 144.9 518.7 144.9 529.5 147.3 541 149.4 551.7 151 563.1 152.4z" fill="#4368fe" stroke="#4368fe" stroke-width="0.8"/>
<path d="M590.3 158.8 590.7 158.9 573 144.1 549.4 115 525.7 75.5 502 21.3 471.2 71.3 440.4 107.2 409.7 133.1 388.3 144.7 401.3 142.8 415.6 140.4 425.6 140.6 435.1 140.4 448.6 139.7 461.3 138.4 468.4 138.6 480.3 140.6 491.7 142 502.6 142.7 516.9 142.8 520.5 143.2 531.4 145.5 543 147.6 554.5 149.2 565.5 150.4z" fill="#406cfe" stroke="#406cfe" stroke-width="0.8"/>
<path d="M584.7 154.2 585.2 154.3 573 144.1 549.4 115 525.7 75.5 502 21.3 471.2 71.3 440.4 107.2 409.7 133.1 394.7 141.2 413.8 138.2 423.3 138.5 432 138.4 445.7 137.8 460 136.6 470.3 136.9 481.1 138.6 492.2 139.9 503.7 140.6 515.4 140.8 522.3 141.5 533.3 143.7 545.1 145.8 556.4 147.3 567.8 148.5z" fill="#3e70ff" stroke="#3e70ff" stroke-width="0.8"/>
<path d="M579.2 149.6 579.8 149.8 573 144.1 549.4 115 525.7 75.5 502 21.3 471.2 71.3 440.4 107.2 409.7 133.1 401.1 137.7 412 136 420.7 136.3 430.5 136.4 444.4 135.9 458.8 134.7 472.1 135.1 482.8 136.7 492.7 137.8 503.7 138.5 513.8 138.7 524 139.7 535.2 142 547.1 143.9 558.3 145.4 570.1 146.5z" fill="#3a74fe" stroke="#3a74fe" stroke-width="0.8"/>
<path d="M573.6 145 574.3 145.2 573 144.1 549.4 115 525.7 75.5 502 21.3 471.2 71.3 440.4 107.2 409.7 133.1 407.5 134.2 410.3 133.8 422.4 134.3 435.3 134.2 446 133.8 457.5 132.8 474 133.3 483.2 134.7 493 135.8 502.3 136.4 512.3 136.7 525.8 138 537.1 140.2 547.6 141.9 560.3 143.5 572.5 144.6z" fill="#3678fd" stroke="#3678fd" stroke-width="0.8"/>
<path d="M571.2 142.4 571.6 142.4 549.4 115 525.7 75.5 502 21.3 471.2 71.3 440.4 107.2 411.2 131.8 422.5 132.2 433.5 132.2 444.6 131.8 456.3 131 465.7 131.4 475.9 131.6 483.6 132.7 491.9 133.6 500.8 134.3 510.7 134.6 518.8 135.5 527.6 136.3 539 138.4 549.6 140 560.3 141.4z" fill="#327cfc" stroke="#327cfc" stroke-width="0.8"/>
<path d="M568.2 140 569.8 140.2 549.4 115 525.7 75.5 502 21.3 471.2 71.3 440.4 107.2 413.5 129.9 423.2 130.2 433.9 130.2 444.8 129.8 455.1 129.1 465.6 129.6 477.7 129.8 492.3 131.6 500.5 132.2 509.2 132.5 519.1 133.7 529.4 134.5 539.4 136.4 548.5 137.8 558.3 139z" fill="#3080fa" stroke="#3080fa" stroke-width="0.8"/>
<path d="M566.9 137.8 568 137.9 549.4 115 525.7 75.5 502 21.3 471.2 71.3 440.4 107.2 415.8 127.9 424.4 128.2 434.3 128.2 443.7 127.9 453.8 127.2 466.2 127.9 479.6 128.1 492.6 129.6 507.6 130.5 519.6 131.9 531.2 132.8 548.9 135.8z" fill="#2e84f9" stroke="#2e84f9" stroke-width="0.8"/>
<path d="M565.6 135.6 566.2 135.7 549.4 115 525.7 75.5 502 21.3 471.2 71.3 440.4 107.2 418.1 126 434.7 126.2 443.6 125.9 452.6 125.4 466.9 126.1 481.4 126.3 493.5 127.6 506.1 128.4 520.3 130.2 532.9 131 549.3 133.7z" fill="#2e87f7" stroke="#2e87f7" stroke-width="0.8"/>
<path d="M562.7 133.3 564.3 133.5 549.4 115 525.7 75.5 502 21.3 471.2 71.3 440.4 107.2 420.4 124.1 436.1 124.2 451.3 123.5 467.3 124.4 483.3 124.5 493.7 125.6 504.6 126.4 512.9 127.5 520.7 128.4 534.7 129.3 548.3 131.5z" fill="#2d8bf4" stroke="#2d8bf4" stroke-width="0.8"/>
<path d="M561.4 131.1 562.5 131.2 549.4 115 525.7 75.5 502 21.3 471.2 71.3 440.4 107.2 422.6 122.1 436.3 122.2 450.1 121.6 467.9 122.6 485.2 122.8 493.9 123.7 503 124.3 511.9 125.6 521.2 126.6 536.5 127.6 548.5 129.5z" fill="#2c8ef1" stroke="#2c8ef1" stroke-width="0.8"/>
<path d="M560.1 128.9 560.7 129 549.4 115 525.7 75.5 502 21.3 471.2 71.3 440.4 107.2 424.9 120.2 436.5 120.2 448.9 119.8 458.5 120.5 468 120.9 476.9 121.1 487 121 501.5 122.2 510.1 123.6 520 124.7 529.2 125.4 538.3 125.8 548.9 127.5z" fill="#2b92ef" stroke="#2b92ef" stroke-width="0.8"/>
<path d="M558.8 126.7 549.4 115 525.7 75.5 502 21.3 471.2 71.3 440.4 107.2 427.2 118.3 436.8 118.3 447.6 117.9 458.2 118.7 467.7 119.1 477.9 119.3 488.9 119.2 499.9 120.2 510 121.7 520.5 122.9 530.4 123.7 540.1 124.1z" fill="#2895ec" stroke="#2895ec" stroke-width="0.8"/>
<path d="M555.8 124.4 557 124.5 549.4 115 525.7 75.5 502 21.3 471.2 71.3 440.4 107.2 429.5 116.4 446.4 116.1 457.5 116.9 468 117.4 479.7 117.6 490.7 117.5 498.4 118.1 508.3 119.7 518 120.9 530.2 121.9 541.8 122.4z" fill="#2798ea" stroke="#2798ea" stroke-width="0.8"/>
<path d="M554.5 122.2 555.2 122.3 549.4 115 525.7 75.5 502 21.3 471.2 71.3 440.4 107.2 431.8 114.4 445.1 114.2 459.4 115.3 473 115.8 483.5 115.9 492.6 115.7 496.8 116.1 507.7 117.8 517.8 119.1 530.8 120.2 543.6 120.6z" fill="#259be8" stroke="#259be8" stroke-width="0.8"/>
<path d="M553.2 120 553.4 120 549.4 115 525.7 75.5 502 21.3 471.2 71.3 440.4 107.2 434.1 112.5 443.9 112.3 458.8 113.5 472.6 114.1 483.2 114.2 494.5 113.9 507.9 116.1 518.4 117.4 531.6 118.4 545.4 118.9z" fill="#249ee6" stroke="#249ee6" stroke-width="0.8"/>
<path d="M550.3 117.6 551.6 117.8 549.4 115 525.7 75.5 502 21.3 471.2 71.3 440.4 107.2 436.4 110.6 442.6 110.5 457 111.7 470.3 112.3 482.7 112.5 494.2 112.2 495.8 112.3 509.3 114.5 521 115.9 533.8 116.8 547.2 117.2z" fill="#22a1e4" stroke="#22a1e4" stroke-width="0.8"/>
<path d="M549 115.4 549.8 115.5 525.7 75.5 502 21.3 471.2 71.3 440.4 107.2 438.7 108.6 441.4 108.6 454.6 109.8 468 110.5 480.5 110.7 493.3 110.6 497.1 110.8 510.7 112.9 523.5 114.3 536.2 115.2z" fill="#20a4e3" stroke="#20a4e3" stroke-width="0.8"/>
<path d="M546.5 113.7 548.5 113.7 525.7 75.5 502 21.3 471.2 71.3 440.8 106.8 453.5 108 465.6 108.7 479.5 109 492.3 108.9 498.3 109.3 510.4 111.2 522.3 112.5 534.6 113.3z" fill="#1ea7e1" stroke="#1ea7e1" stroke-width="0.8"/>
<path d="M546.1 112 547.5 112 525.7 75.5 502 21.3 471.2 71.3 442.1 105.2 454.2 106.3 465.3 107 478.5 107.3 491.4 107.2 499.6 107.7 511.2 109.5 522.9 110.8 534.3 111.6z" fill="#1baade" stroke="#1baade" stroke-width="0.8"/>
<path d="M545.7 110.2 546.5 110.2 525.7 75.5 502 21.3 471.2 71.3 443.5 103.7 454.9 104.7 465.6 105.3 477.5 105.6 490.5 105.6 500.8 106.2 511.9 107.8 523.1 109.1 534.5 109.9z" fill="#19addc" stroke="#19addc" stroke-width="0.8"/>
<path d="M545.4 108.5 525.7 75.5 502 21.3 471.2 71.3 444.8 102.1 455.3 103 464.5 103.5 476.5 103.9 489.5 103.9 502 104.7 512.9 106.2 524.3 107.4 535.2 108.2z" fill="#14b0d8" stroke="#14b0d8" stroke-width="0.8"/>
<path d="M542.9 106.7 544.4 106.8 525.7 75.5 502 21.3 471.2 71.3 446.2 100.5 456.3 101.4 465.2 101.9 477.2 102.2 488.6 102.2 503.3 103.1 513.3 104.6 523.1 105.6 533.3 106.3z" fill="#0fb2d5" stroke="#0fb2d5" stroke-width="0.8"/>
<path d="M542.5 105 543.4 105 525.7 75.5 502 21.3 471.2 71.3 447.5 98.9 465.6 100.2 476.2 100.5 487.6 100.6 496.9 101.3 504.5 101.6 514.1 102.9 523.8 103.9 532.9 104.6z" fill="#09b4d1" stroke="#09b4d1" stroke-width="0.8"/>
<path d="M542.1 103.3 542.3 103.3 525.7 75.5 502 21.3 471.2 71.3 448.9 97.4 464.9 98.5 475.2 98.8 486.7 98.9 496.2 99.7 505.8 100.1 514.8 101.3 523.6 102.2 532.6 102.9z" fill="#04b6cd" stroke="#04b6cd" stroke-width="0.8"/>
<path d="M539.8 101.5 541.3 101.6 525.7 75.5 502 21.3 471.2 71.3 450.2 95.8 467.3 96.9 485.8 97.2 496.9 98.1 507 98.6 523.3 100.5z" fill="#01b8c9" stroke="#01b8c9" stroke-width="0.8"/>
<path d="M539.3 99.8 540.2 99.8 525.7 75.5 502 21.3 471.2 71.3 451.6 94.2 468.1 95.2 484.8 95.6 496.6 96.6 508.2 97 524 98.8z" fill="#02bac4" stroke="#02bac4" stroke-width="0.8"/>
<path d="M538.9 98.1 539.2 98.1 525.7 75.5 502 21.3 471.2 71.3 452.9 92.6 468.8 93.6 483.9 93.9 497 95 509.5 95.5 524.3 97.2z" fill="#07bcc0" stroke="#07bcc0" stroke-width="0.8"/>
<path d="M536.6 96.3 538.2 96.4 525.7 75.5 502 21.3 471.2 71.3 454.3 91.1 469.1 91.9 483 92.2 497.1 93.5 510.7 94 523.6 95.4z" fill="#0dbdbb" stroke="#0dbdbb" stroke-width="0.8"/>
<path d="M536.2 94.6 537.1 94.6 525.7 75.5 502 21.3 471.2 71.3 455.6 89.5 468.6 90.2 482 90.6 497.1 91.9 512 92.4 524.4 93.8z" fill="#16bfb7" stroke="#16bfb7" stroke-width="0.8"/>
<path d="M535.7 92.9 536.1 92.9 525.7 75.5 502 21.3 471.2 71.3 457 87.9 469.2 88.6 481.1 88.9 490.3 89.9 499.3 90.5 513.2 90.9 524.9 92.1z" fill="#1ec0b2" stroke="#1ec0b2" stroke-width="0.8"/>
<path d="M533.4 91.1 535.1 91.2 525.7 75.5 502 21.3 471.2 71.3 458.3 86.3 469.5 87 480.2 87.2 489.6 88.3 499.1 88.9 514.5 89.4 524.1 90.4z" fill="#25c2ad" stroke="#25c2ad" stroke-width="0.8"/>
<path d="M533 89.4 534 89.4 525.7 75.5 502 21.3 471.2 71.3 459.7 84.8 479.2 85.6 489 86.7 499.7 87.4 515.7 87.8z" fill="#2ac3a9" stroke="#2ac3a9" stroke-width="0.8"/>
<path d="M532.5 87.7 533 87.7 525.7 75.5 502 21.3 471.2 71.3 461 83.2 478.3 83.9 488.2 85 499.2 85.9 507.9 86.2 516.9 86.3z" fill="#2ec5a4" stroke="#2ec5a4" stroke-width="0.8"/>
<path d="M530.2 85.9 531.9 86 525.7 75.5 502 21.3 471.2 71.3 462.4 81.6 477.4 82.2 487.5 83.4 498.1 84.3 507.7 84.7 518.2 84.8z" fill="#32c69e" stroke="#32c69e" stroke-width="0.8"/>
<path d="M529.8 84.2 530.9 84.2 525.7 75.5 502 21.3 471.2 71.3 463.7 80.1 476.4 80.6 486.8 81.8 497.6 82.7 508.1 83.2 519.4 83.2z" fill="#36c799" stroke="#36c799" stroke-width="0.8"/>
<path d="M529.3 82.5 529.9 82.5 525.7 75.5 502 21.3 471.2 71.3 465.1 78.5 475.5 78.9 487.5 80.4 498.4 81.2 509 81.7 520.7 81.7z" fill="#3ac993" stroke="#3ac993" stroke-width="0.8"/>
<path d="M528.8 80.8 525.7 75.5 502 21.3 471.2 71.3 466.4 76.9 474.6 77.2 486.6 78.7 497.8 79.7 510 80.2 521.9 80.2z" fill="#40ca8d" stroke="#40ca8d" stroke-width="0.8"/>
<path d="M526.6 78.9 527.8 79 525.7 75.5 502 21.3 471.2 71.3 467.8 75.3 473.6 75.6 486.4 77.2 498.7 78.2 510.9 78.7 523.1 78.6z" fill="#47cb87" stroke="#47cb87" stroke-width="0.8"/>
<path d="M526.1 77.3 526.8 77.3 525.7 75.5 502 21.3 471.2 71.3 469.1 73.8 472.7 73.9 485.7 75.6 498 76.6 509.4 77.1 524.4 77.1z" fill="#4fcc80" stroke="#4fcc80" stroke-width="0.8"/>
<path d="M525.6 75.6 502 21.3 471.2 71.3 470.5 72.2 486 74.1 498.9 75.2 512.6 75.7z" fill="#57cc7a" stroke="#57cc7a" stroke-width="0.8"/>
<path d="M524.6 74.1 525.1 74.1 502 21.3 471.6 70.7 485.2 72.5 498.1 73.6 511.6 74.1z" fill="#60cd72" stroke="#60cd72" stroke-width="0.8"/>
<path d="M523.5 72.6 524.4 72.6 502 21.3 472.5 69.3 485.2 71 497.5 72 510.7 72.6z" fill="#69cd6b" stroke="#69cd6b" stroke-width="0.8"/>
<path d="M522.5 71.1 523.8 71.1 502 21.3 473.3 67.9 486.1 69.5 498.3 70.6 510.7 71.1z" fill="#72cd64" stroke="#72cd64" stroke-width="0.8"/>
<path d="M521.4 69.7 523.1 69.6 502 21.3 474.2 66.5 485.4 68 497.5 69 508.9 69.6z" fill="#7ccc5c" stroke="#7ccc5c" stroke-width="0.8"/>
<path d="M520.4 68.2 522.5 68.2 502 21.3 475 65.2 485.7 66.5 497 67.5 508 68z" fill="#85cb55" stroke="#85cb55" stroke-width="0.8"/>
<path d="M521.6 66.7 521.8 66.7 502 21.3 475.9 63.8 486.8 65.1 498.1 66 510.3 66.6z" fill="#8fcb4e" stroke="#8fcb4e" stroke-width="0.8"/>
<path d="M520.5 65.2 521.2 65.2 502 21.3 476.7 62.4 488 63.7 498.7 64.6 509.6 65.1z" fill="#98c947" stroke="#98c947" stroke-width="0.8"/>
<path d="M519.5 63.7 520.5 63.7 502 21.3 477.6 61 487.3 62.1 498.4 63.1 508.9 63.6z" fill="#a2c840" stroke="#a2c840" stroke-width="0.8"/>
<path d="M518.5 62.2 519.9 62.2 502 21.3 478.4 59.6 488.3 60.7 498.8 61.6 508.3 62.1z" fill="#abc739" stroke="#abc739" stroke-width="0.8"/>
<path d="M517.5 60.8 519.2 60.8 502 21.3 479.3 58.2 489.2 59.3 497.9 60 507.5 60.5z" fill="#b3c534" stroke="#b3c534" stroke-width="0.8"/>
<path d="M518.5 59.3 502 21.3 480.1 56.8 490.1 57.9 498.9 58.6 508.5 59.1z" fill="#bcc42f" stroke="#bcc42f" stroke-width="0.8"/>
<path d="M517.5 57.8 517.9 57.8 502 21.3 481 55.4 489.8 56.4 499 57.1 507.9 57.6z" fill="#c4c22a" stroke="#c4c22a" stroke-width="0.8"/>
<path d="M516.5 56.3 517.3 56.3 502 21.3 481.8 54.1 499 55.7z" fill="#ccc028" stroke="#ccc028" stroke-width="0.8"/>
<path d="M515.5 54.8 516.6 54.8 502 21.3 482.7 52.7 499.4 54.2z" fill="#d4bf28" stroke="#d4bf28" stroke-width="0.8"/>
<path d="M514.5 53.3 516 53.4 502 21.3 483.5 51.3 499.1 52.7z" fill="#dbbd29" stroke="#dbbd29" stroke-width="0.8"/>
<path d="M513.5 51.8 515.4 51.9 502 21.3 484.4 49.9 498.2 51.2z" fill="#e2bc2b" stroke="#e2bc2b" stroke-width="0.8"/>
<path d="M514.5 50.4 514.7 50.4 502 21.3 485.3 48.5 499.1 49.7z" fill="#e8bb2f" stroke="#e8bb2f" stroke-width="0.8"/>
<path d="M513.5 48.9 514.1 48.9 502 21.3 486.1 47.1 500.1 48.3z" fill="#eeba34" stroke="#eeba34" stroke-width="0.8"/>
<path d="M512.5 47.4 513.4 47.4 502 21.3 487 45.7 499.4 46.8z" fill="#f4ba39" stroke="#f4ba39" stroke-width="0.8"/>
<path d="M511.5 45.9 512.8 45.9 502 21.3 487.8 44.4 500.1 45.4z" fill="#f9bb3d" stroke="#f9bb3d" stroke-width="0.8"/>
<path d="M510.5 44.4 512.1 44.5 502 21.3 488.7 43 499.8 43.9z" fill="#fdbd3d" stroke="#fdbd3d" stroke-width="0.8"/>
<path d="M509.5 42.9 511.5 43 502 21.3 489.5 41.6 499.2 42.4z" fill="#fec03a" stroke="#fec03a" stroke-width="0.8"/>
<path d="M510.5 41.5 510.8 41.5 502 21.3 490.4 40.2 500.3 41z" fill="#fec437" stroke="#fec437" stroke-width="0.8"/>
<path d="M509.5 40 510.2 40 502 21.3 491.2 38.8 500.1 39.5z" fill="#fec835" stroke="#fec835" stroke-width="0.8"/>
<path d="M508.5 38.5 509.5 38.5 502 21.3 492.1 37.4z" fill="#fdcc32" stroke="#fdcc32" stroke-width="0.8"/>
<path d="M507.5 37 508.9 37.1 502 21.3 492.9 36z" fill="#fcd030" stroke="#fcd030" stroke-width="0.8"/>
<path d="M506.5 35.5 508.2 35.6 502 21.3 493.8 34.7z" fill="#fad42e" stroke="#fad42e" stroke-width="0.8"/>
<path d="M507.4 34.1 507.6 34.1 502 21.3 494.6 33.3z" fill="#f8d92c" stroke="#f8d92c" stroke-width="0.8"/>
<path d="M506.4 32.6 506.9 32.6 502 21.3 495.5 31.9z" fill="#f7dd2a" stroke="#f7dd2a" stroke-width="0.8"/>
<path d="M505.5 31.1 506.3 31.1 502 21.3 496.3 30.5z" fill="#f6e128" stroke="#f6e128" stroke-width="0.8"/>
<path d="M504.5 29.6 505.6 29.7 502 21.3 497.2 29.1z" fill="#f5e526" stroke="#f5e526" stroke-width="0.8"/>
<path d="M503.5 28.1 505 28.2 502 21.3 498 27.7z" fill="#f5e924" stroke="#f5e924" stroke-width="0.8"/>
<path d="M502.5 26.6 504.4 26.7 502 21.3 498.9 26.3z" fill="#f5ed21" stroke="#f5ed21" stroke-width="0.8"/>
<path d="M503.4 25.2 503.7 25.2 502 21.3 499.8 25z" fill="#f6f11e" stroke="#f6f11e" stroke-width="0.8"/>
<path d="M502.4 23.7 503.1 23.7 502 21.3 500.6 23.6z" fill="#f7f51b" stroke="#f7f51b" stroke-width="0.8"/>
<path d="M501.5 22.2 502.4 22.2 502 21.3z" fill="#f8f917" stroke="#f8f917" stroke-width="0.8"/>
</g>
<text x="372.4" y="74.5" text-anchor="end" font-size="9.5" font-family="DejaVu Sans, Liberation Sans, sans-serif" fill="#262626" >4.2</text>
<text x="372.4" y="101.6" text-anchor="end" font-size="9.5" font-family="DejaVu Sans, Liberation Sans, sans-serif" fill="#262626" >4</text>
<text x="372.4" y="128.8" text-anchor="end" font-size="9.5" font-family="DejaVu Sans, Liberation Sans, sans-serif" fill="#262626" >3.8</text>
<text x="372.4" y="155.9" text-anchor="end" font-size="9.5" font-family="DejaVu Sans, Liberation Sans, sans-serif" fill="#262626" >3.6</text>
<text x="368.3" y="182.8" text-anchor="middle" font-size="9.5" font-family="DejaVu Sans, Liberation Sans, sans-serif" fill="#262626" >1</text>
<text x="411.5" y="213.2" text-anchor="middle" font-size="9.5" font-family="DejaVu Sans, Liberation Sans, sans-serif" fill="#262626" >0.5</text>
<text x="463.7" y="244.6" text-anchor="middle" font-size="9.5" font-family="DejaVu Sans, Liberation Sans, sans-serif" fill="#262626" >0</text>
<text x="482.5" y="245.8" text-anchor="middle" font-size="9.5" font-family="DejaVu Sans, Liberation Sans, sans-serif" fill="#262626" >0</text>
<text x="548.5" y="222.4" text-anchor="middle" font-size="9.5" font-family="DejaVu Sans, Liberation Sans, sans-serif" fill="#262626" >0.5</text>
<text x="605.5" y="198.1" text-anchor="middle" font-size="9.5" font-family="DejaVu Sans, Liberation Sans, sans-serif" fill="#262626" >1</text>
<text x="408.9" y="243.4" font-family="Liberation Serif, serif" font-size="11.5" font-style="italic" fill="#444">x<tspan font-size="8" font-style="normal" dy="2" dx="0.3">2</tspan></text>
<text x="535.6" y="246.4" font-family="Liberation Serif, serif" font-size="11.5" font-style="italic" fill="#444">x<tspan font-size="8" font-style="normal" dy="2" dx="0.3">1</tspan></text>
<path d="M132.40 503.20L278.10 447.30" stroke="#262626" stroke-width="0.75" fill="none"/>
<path d="M132.40 503.20L21.30 430.30" stroke="#262626" stroke-width="0.75" fill="none"/>
<path d="M21.30 430.30L21.30 387.30" stroke="#262626" stroke-width="0.75" fill="none"/>
<path d="M132.40 503.20L134.91 504.85" stroke="#262626" stroke-width="0.75" fill="none"/>
<path d="M132.40 503.20L129.60 504.27" stroke="#262626" stroke-width="0.75" fill="none"/>
<path d="M205.25 475.25L207.76 476.90" stroke="#262626" stroke-width="0.75" fill="none"/>
<path d="M76.85 466.75L74.05 467.82" stroke="#262626" stroke-width="0.75" fill="none"/>
<path d="M278.10 447.30L280.61 448.95" stroke="#262626" stroke-width="0.75" fill="none"/>
<path d="M21.30 430.30L18.50 431.37" stroke="#262626" stroke-width="0.75" fill="none"/>
<path d="M21.30 389.10L18.79 387.45" stroke="#262626" stroke-width="0.75" fill="none"/>
<path d="M21.30 405.10L18.79 403.45" stroke="#262626" stroke-width="0.75" fill="none"/>
<path d="M21.30 420.80L18.79 419.15" stroke="#262626" stroke-width="0.75" fill="none"/>
<mask id="c3" maskUnits="userSpaceOnUse" x="0" y="0" width="685" height="523"><path d="M132.4 459.9 144.5 455.6 157.9 451.6 171.3 448.5 185.8 445.9 196.8 444.3 210.1 442.8 257.5 439 278.1 436.9 252.2 420.3 241.1 413.6 229 406.7 205.9 394.2 167 374.4 116 388.3 85.7 397.2 69.9 402.3 55.3 407.3 39.5 413 21.3 419.9 37 424.4 73.1 433.8 83.3 436.8 91.7 439.6 102.8 444 113 448.7 123.1 454.1z" fill="#fff"/></mask>
<g mask="url(#c3)">
<path d="M132.4 459.9 144.5 455.6 157.9 451.6 171.3 448.5 185.8 445.9 196.8 444.3 210.1 442.8 257.5 439 278.1 436.9 252.2 420.3 241.1 413.6 229 406.7 205.9 394.2 167 374.4 116 388.3 85.7 397.2 69.9 402.3 55.3 407.3 39.5 413 21.3 419.9 37 424.4 73.1 433.8 83.3 436.8 91.7 439.6 102.8 444 113 448.7 123.1 454.1z" fill="#3e28ac" stroke="#3e28ac" stroke-width="1"/>
<path d="M132.4 459.9 144.5 455.6 157.9 451.6 171.3 448.5 185.8 445.9 196.8 444.3 210.1 442.8 257.5 439 278.1 436.9 262.4 426.7 249.4 418.6 236.4 410.9 223.5 403.6 203.1 392.8 170.1 376 167.2 375.8 162.9 375.5 120.9 386.9 94.2 394.6 75.9 400.3 58.9 406 41.9 412.1 21.3 419.9 37 424.4 73.1 433.8 83.3 436.8 91.7 439.6 102.8 444 113 448.7 123.1 454.1z" fill="#402ab4" stroke="#402ab4" stroke-width="0.8"/>
<path d="M132.4 459.9 144.5 455.6 157.9 451.6 171.3 448.5 185.8 445.9 196.8 444.3 210.1 442.8 257.5 439 278.1 436.9 260.5 425.5 244.8 415.8 229 406.7 213.3 398.1 197.6 389.9 173.1 377.5 165.5 376.9 158.9 376.6 122.1 386.6 97.8 393.5 79.6 399.1 61.4 405.2 43.2 411.6 21.3 419.9 37 424.4 73.1 433.8 83.3 436.8 91.7 439.6 102.8 444 113 448.7 123.1 454.1z" fill="#412dbc" stroke="#412dbc" stroke-width="0.8"/>
<path d="M132.4 459.9 144.5 455.6 157.9 451.6 171.3 448.5 185.8 445.9 196.8 444.3 210.1 442.8 257.5 439 278.1 436.9 259.6 424.9 242.9 414.7 226.3 405.1 207.7 395.2 176.1 379 166.1 378.2 155 377.6 107.5 390.7 85.7 397.2 65 403.9 44.4 411.2 21.3 419.9 37 424.4 73.1 433.8 83.3 436.8 91.7 439.6 102.8 444 113 448.7 123.1 454.1z" fill="#4230c3" stroke="#4230c3" stroke-width="0.8"/>
<path d="M132.4 459.9 144.5 455.6 157.9 451.6 171.3 448.5 185.8 445.9 196.8 444.3 210.1 442.8 257.5 439 278.1 436.9 256.8 423.2 238.3 412 218.8 401.1 197.6 389.9 179.1 380.6 165.8 379.4 151.1 378.7 117.2 387.9 92.9 395 69.9 402.3 46.8 410.3 21.3 419.9 37 424.4 73.1 433.8 83.3 436.8 91.7 439.6 102.8 444 113 448.7 123.1 454.1z" fill="#4332ca" stroke="#4332ca" stroke-width="0.8"/>
<path d="M132.4 459.9 144.5 455.6 157.9 451.6 171.3 448.5 185.8 445.9 196.8 444.3 210.1 442.8 257.5 439 278.1 436.9 254 421.5 232.7 408.8 210.5 396.6 182.1 382.1 172.9 381.1 164.2 380.4 147.2 379.8 123.3 386.2 96.6 393.9 72.3 401.5 48 409.9 21.3 419.9 37 424.4 73.1 433.8 83.3 436.8 91.7 439.6 102.8 444 113 448.7 123.1 454.1z" fill="#4435d1" stroke="#4435d1" stroke-width="0.8"/>
<path d="M132.4 459.9 144.5 455.6 157.9 451.6 171.3 448.5 185.8 445.9 196.8 444.3 210.1 442.8 257.5 439 278.1 436.9 255 422 233.7 409.3 212.4 397.6 185.1 383.6 174.4 382.3 164 381.5 150.5 380.9 143.2 380.8 142.7 380.9 106.3 391 78.4 399.5 51.7 408.6 21.3 419.9 37 424.4 73.1 433.8 83.3 436.8 91.7 439.6 102.8 444 113 448.7 123.1 454.1z" fill="#4538d8" stroke="#4538d8" stroke-width="0.8"/>
<path d="M132.4 459.9 144.5 455.6 157.9 451.6 171.3 448.5 185.8 445.9 196.8 444.3 210.1 442.8 257.5 439 278.1 436.9 255 422 234.6 409.9 214.2 398.6 188.1 385.1 176.2 383.6 164.9 382.6 152.6 382 139.3 381.9 105.1 391.4 78.4 399.5 51.7 408.6 21.3 419.9 37 424.4 73.1 433.8 83.3 436.8 91.7 439.6 102.8 444 113 448.7 123.1 454.1z" fill="#463bdd" stroke="#463bdd" stroke-width="0.8"/>
<path d="M132.4 459.9 144.5 455.6 157.9 451.6 171.3 448.5 185.8 445.9 196.8 444.3 210.1 442.8 257.5 439 278.1 436.9 255.9 422.6 236.4 410.9 216.1 399.6 191.2 386.6 178 384.9 163.8 383.6 148.9 382.9 135.3 382.9 102.6 392.1 75.9 400.3 50.4 409 21.3 419.9 37 424.4 73.1 433.8 83.3 436.8 91.7 439.6 102.8 444 113 448.7 123.1 454.1z" fill="#473fe2" stroke="#473fe2" stroke-width="0.8"/>
<path d="M132.4 459.9 144.5 455.6 157.9 451.6 171.3 448.5 185.8 445.9 196.8 444.3 210.1 442.8 257.5 439 278.1 436.9 256.8 423.2 237.4 411.5 217.9 400.6 194.2 388.2 178.9 386 162.7 384.5 147.2 383.9 131.3 384 100.2 392.8 74.7 400.7 49.2 409.4 21.3 419.9 37 424.4 73.1 433.8 83.3 436.8 91.7 439.6 102.8 444 113 448.7 123.1 454.1z" fill="#4743e7" stroke="#4743e7" stroke-width="0.8"/>
<path d="M132.4 459.9 144.5 455.6 157.9 451.6 171.3 448.5 185.8 445.9 196.8 444.3 210.1 442.8 257.5 439 278.1 436.9 256.8 423.2 238.3 412 218.8 401.1 197.3 389.8 189.1 388.4 179.9 387.1 170.5 386.1 161.8 385.4 145.5 384.8 135.9 384.9 127.2 385.1 99 393.1 73.5 401.1 49.2 409.4 21.3 419.9 37 424.4 73.1 433.8 83.3 436.8 91.7 439.6 102.8 444 113 448.7 123.1 454.1z" fill="#4746ea" stroke="#4746ea" stroke-width="0.8"/>
<path d="M132.4 459.9 144.5 455.6 157.9 451.6 171.3 448.5 185.8 445.9 196.8 444.3 210.1 442.8 257.5 439 278.1 436.9 257.7 423.8 239.2 412.5 220.7 402.1 200.5 391.4 191.7 389.8 182.4 388.4 173 387.3 162.9 386.4 153.7 385.9 143.7 385.7 134.2 385.8 123.1 386.3 96.6 393.9 72.3 401.5 48 409.9 21.3 419.9 37 424.4 73.1 433.8 83.3 436.8 91.7 439.6 102.8 444 113 448.7 123.1 454.1z" fill="#484aee" stroke="#484aee" stroke-width="0.8"/>
<path d="M132.4 459.9 144.5 455.6 157.9 451.6 171.3 448.5 185.8 445.9 196.8 444.3 210.1 442.8 257.5 439 278.1 436.9 258.7 424.3 241.1 413.6 223.5 403.6 203.7 393.1 194.4 391.2 183.7 389.5 173.2 388.2 162.2 387.3 151.8 386.8 141.1 386.6 130.6 386.8 118.9 387.5 92.9 395 69.9 402.3 46.8 410.3 21.3 419.9 37 424.4 73.1 433.8 83.3 436.8 91.7 439.6 102.8 444 113 448.7 123.1 454.1z" fill="#484ef1" stroke="#484ef1" stroke-width="0.8"/>
<path d="M132.4 459.9 144.5 455.6 157.9 451.6 171.3 448.5 185.8 445.9 196.8 444.3 210.1 442.8 257.5 439 278.1 436.9 258.7 424.3 242 414.2 225.3 404.6 207 394.8 195.7 392.4 184.8 390.6 173.5 389.2 162.3 388.2 149.9 387.6 138.2 387.5 126.7 387.9 114.5 388.7 90.5 395.7 68.7 402.7 46.8 410.3 21.3 419.9 37 424.4 73.1 433.8 83.3 436.8 91.7 439.6 102.8 444 113 448.7 123.1 454.1z" fill="#4852f4" stroke="#4852f4" stroke-width="0.8"/>
<path d="M132.4 459.9 144.5 455.6 157.9 451.6 171.3 448.5 185.8 445.9 196.8 444.3 210.1 442.8 257.5 439 278.1 436.9 259.6 424.9 243.8 415.3 228.1 406.2 210.5 396.6 199.5 394.1 187.6 391.9 174.7 390.2 162.4 389.1 149.1 388.4 136.4 388.4 123.6 388.9 110 390 86.9 396.8 66.2 403.5 45.6 410.8 21.3 419.9 37 424.4 73.1 433.8 83.3 436.8 91.7 439.6 102.8 444 113 448.7 123.1 454.1z" fill="#4755f6" stroke="#4755f6" stroke-width="0.8"/>
<path d="M132.4 459.9 144.5 455.6 157.9 451.6 171.3 448.5 185.8 445.9 196.8 444.3 210.1 442.8 257.5 439 278.1 436.9 260.5 425.5 245.7 416.4 230 407.2 214.1 398.5 201.8 395.5 188.7 393 175.9 391.2 161.8 389.9 148 389.2 133.1 389.3 118.7 390 105.3 391.3 84.4 397.6 63.8 404.3 44.4 411.2 21.3 419.9 37 424.4 73.1 433.8 83.3 436.8 91.7 439.6 102.8 444 113 448.7 123.1 454.1z" fill="#4759f8" stroke="#4759f8" stroke-width="0.8"/>
<path d="M132.4 459.9 144.5 455.6 157.9 451.6 171.3 448.5 185.8 445.9 196.8 444.3 210.1 442.8 257.5 439 278.1 436.9 261.4 426.1 247.5 417.5 232.7 408.8 217.9 400.5 204.5 397.1 189.8 394.1 175.2 391.9 161.1 390.6 146 390 130.8 390.2 115 391.1 100.3 392.8 80.8 398.7 61.4 405.2 43.2 411.6 21.3 419.9 37 424.4 73.1 433.8 83.3 436.8 91.7 439.6 102.8 444 113 448.7 123.1 454.1z" fill="#475dfa" stroke="#475dfa" stroke-width="0.8"/>
<path d="M132.4 459.9 144.5 455.6 157.9 451.6 171.3 448.5 185.8 445.9 196.8 444.3 210.1 442.8 257.5 439 278.1 436.9 262.4 426.7 249.4 418.6 235.5 410.4 221.9 402.7 207 398.6 192.6 395.4 183.9 393.9 176.5 392.9 160.3 391.4 144 390.8 127.2 391.1 111.6 392.2 95 394.3 77.2 399.9 58.9 406 41.9 412.1 21.3 419.9 37 424.4 73.1 433.8 83.3 436.8 91.7 439.6 102.8 444 113 448.7 123.1 454.1z" fill="#4660fc" stroke="#4660fc" stroke-width="0.8"/>
<path d="M132.4 459.9 144.5 455.6 157.9 451.6 171.3 448.5 185.8 445.9 196.8 444.3 210.1 442.8 257.5 439 278.1 436.9 264.2 427.9 251.3 419.7 239.2 412.5 226.2 405.1 218.1 402.5 210.9 400.5 202.4 398.4 193.6 396.5 185.1 395 176.1 393.7 168.1 392.8 159.8 392.1 150.9 391.7 142 391.5 133.5 391.6 125.1 392 115.9 392.6 106.6 393.6 97.9 394.7 89.4 396.1 72.3 401.5 56.5 406.9 39.5 413 21.3 419.9 37 424.4 73.1 433.8 83.3 436.8 91.7 439.6 102.8 444 113 448.7 123.1 454.1z" fill="#4464fd" stroke="#4464fd" stroke-width="0.8"/>
<path d="M132.4 459.9 144.5 455.6 157.9 451.6 171.3 448.5 185.8 445.9 196.8 444.3 210.1 442.8 257.5 439 278.1 436.9 253.1 420.9 242 414.2 230.9 407.8 223 405 214.6 402.4 205.8 400 196.4 397.9 188 396.3 178.4 394.8 169.5 393.7 160.2 392.9 150.3 392.4 140.7 392.3 130.7 392.5 121.7 392.9 113.2 393.6 103.3 394.7 93.8 396.1 83.2 398 68.7 402.7 54.1 407.7 38.3 413.4 21.3 419.9 37 424.4 73.1 433.8 83.3 436.8 91.7 439.6 102.8 444 113 448.7 123.1 454.1z" fill="#4368fe" stroke="#4368fe" stroke-width="0.8"/>
<path d="M132.4 459.9 144.5 455.6 157.9 451.6 171.3 448.5 185.8 445.9 196.8 444.3 210.1 442.8 257.5 439 278.1 436.9 257.7 423.8 240.1 413.1 236.3 410.9 229 408 221 405.3 212.6 402.7 203.7 400.4 195.8 398.6 187.5 397 178.4 395.6 169 394.4 160.1 393.7 151.7 393.2 141.8 393 132.4 393.2 123.4 393.6 114.2 394.3 104.8 395.3 95.3 396.6 86.2 398.2 76.1 400.3 68.7 402.7 46.8 410.3 21.3 419.9 37 424.4 73.1 433.8 83.3 436.8 91.7 439.6 102.8 444 113 448.7 123.1 454.1z" fill="#406cfe" stroke="#406cfe" stroke-width="0.8"/>
<path d="M132.4 459.9 144.5 455.6 157.9 451.6 171.3 448.5 185.8 445.9 196.8 444.3 210.1 442.8 257.5 439 278.1 436.9 259.6 424.9 242.7 414.6 234.6 411.2 225.8 407.8 217.7 405.1 210.6 403.1 201.6 400.7 193.7 399 185.2 397.4 176.2 396 166.6 395 158.2 394.3 149.2 393.9 139.8 393.8 131.6 393.9 123 394.3 113.5 395.1 104.8 396 95.3 397.4 86.1 399 77.3 400.8 67.7 403 45.6 410.8 21.3 419.9 37 424.4 73.1 433.8 83.3 436.8 91.7 439.6 102.8 444 113 448.7 123.1 454.1z" fill="#3e70ff" stroke="#3e70ff" stroke-width="0.8"/>
<path d="M132.4 459.9 144.5 455.6 157.9 451.6 171.3 448.5 185.8 445.9 196.8 444.3 210.1 442.8 257.5 439 278.1 436.9 263.3 427.3 251.2 419.7 244.6 416.5 237.6 413.4 223.9 408.1 216.1 405.5 208.7 403.4 201.1 401.4 193.2 399.7 185.8 398.3 177.6 397 168.7 395.9 159.8 395.1 151 394.7 141.5 394.5 133.7 394.6 124.9 394.9 116.1 395.6 106.3 396.6 97.9 397.7 89.1 399.2 73 402.5 56.6 406.8 40.7 412.5 21.3 419.9 37 424.4 73.1 433.8 83.3 436.8 91.7 439.6 102.8 444 113 448.7 123.1 454.1z" fill="#3a74fe" stroke="#3a74fe" stroke-width="0.8"/>
<path d="M132.4 459.9 144.5 455.6 157.9 451.6 171.3 448.5 185.8 445.9 196.8 444.3 210.1 442.8 257.5 439 278.1 436.9 265 428.5 258 424.4 250.6 420.5 244 417.3 237 414.2 229.7 411.2 222 408.4 213.9 405.7 206.7 403.7 199.1 401.8 191.1 400 183.1 398.6 175.3 397.4 167.6 396.5 159.4 395.8 151.3 395.4 143.3 395.2 135.7 395.2 126.5 395.5 117.8 396.1 109.4 396.9 101.1 398 92 399.4 83 401.1 74.3 403 57.8 407.3 48.6 410.1 39.7 413 21.3 419.9 37 424.4 73.1 433.8 83.3 436.8 91.7 439.6 102.8 444 113 448.7 123.1 454.1z" fill="#3678fd" stroke="#3678fd" stroke-width="0.8"/>
<path d="M132.4 459.9 144.5 455.6 157.9 451.6 171.3 448.5 184.6 446 196.8 444.3 210.1 442.8 257.5 439 276.6 437 262.3 428.1 255.2 424.1 248.9 420.7 242.3 417.5 235.3 414.4 227.9 411.4 221.5 409.1 213.4 406.4 206.2 404.4 198.7 402.4 191 400.8 183 399.3 174.9 398.1 167.2 397.2 159 396.5 143 395.9 135.4 395.9 126.3 396.2 117.6 396.8 109.2 397.6 101.2 398.7 91.9 400.1 82.9 401.8 74.3 403.7 57.8 408.1 41 413.4 22.5 420.2 37 424.4 73.1 433.8 83.3 436.8 92.6 440 102.8 444 113 448.7 123.1 454.1z" fill="#327cfc" stroke="#327cfc" stroke-width="0.8"/>
<path d="M132.4 459.9 144.5 455.6 157.9 451.6 171.3 448.5 184.6 446 196.8 444.3 210.1 442.8 256.2 439.1 274.9 437.2 260.6 428.3 253.6 424.3 247.2 420.9 240.5 417.7 233.5 414.6 226.2 411.7 219.7 409.3 211.5 406.7 204.3 404.6 196.7 402.8 188.6 401 180.3 399.6 172.9 398.5 164.8 397.7 157.2 397.1 148.9 396.7 141 396.5 132.3 396.7 124.4 397 115.7 397.7 107.4 398.5 91.7 400.9 75.6 404.1 59.1 408.5 42.2 413.8 23.7 420.6 38 424.6 73.1 433.8 83.3 436.8 92.6 440 102.8 444 113 448.7 123.1 454.1z" fill="#3080fa" stroke="#3080fa" stroke-width="0.8"/>
<path d="M132.4 459.9 144.5 455.6 157.9 451.6 171.3 448.5 184.6 446 196.8 444.3 210.1 442.8 256.2 439.1 273.3 437.4 259 428.5 246.6 421.7 240 418.4 233 415.3 225.7 412.4 219.2 410 205.3 405.7 197.8 403.8 189.8 402 181.3 400.5 174.1 399.4 166.4 398.5 158.2 397.8 150.7 397.4 142.2 397.2 134.5 397.3 125.9 397.6 117.2 398.2 108.9 399 93.1 401.3 76.9 404.6 60.4 408.9 43.5 414.2 25 421 38 424.6 73.1 433.8 83.3 436.8 92.6 440 102.8 444 113 448.7 123.1 454.1z" fill="#2e84f9" stroke="#2e84f9" stroke-width="0.8"/>
<path d="M132.4 459.9 144.5 455.6 157.9 451.6 171.3 448.5 184.6 446 196.8 444.3 210.1 442.8 255 439.2 271.6 437.6 257.3 428.6 244.9 421.8 238.3 418.6 231.3 415.5 223.9 412.6 217.4 410.3 210.6 408 202.6 405.8 195.9 404.1 187.8 402.4 179.9 401 172.5 399.9 157.9 398.5 150.4 398.1 141.8 397.9 134.1 397.9 125.7 398.3 109.7 399.6 100.7 400.8 93 402 76.8 405.3 60.3 409.6 44.8 414.6 26.2 421.3 38.9 424.9 73.1 433.8 83.3 436.8 92.6 440 102.8 444 113 448.7 123.1 454.1z" fill="#2e87f7" stroke="#2e87f7" stroke-width="0.8"/>
<path d="M132.4 459.9 144.5 455.6 157.9 451.6 171.3 448.5 184.6 446 196.8 444.3 210.1 442.8 255 439.2 270 437.8 255.8 428.9 243.3 422 236.6 418.8 229.6 415.7 222.2 412.8 215.7 410.5 208.8 408.3 201.6 406.3 187.5 403 179.6 401.6 172.2 400.5 163.7 399.6 156.4 399 141.5 398.5 133.8 398.6 125.4 398.9 116.8 399.5 109.2 400.3 100.5 401.5 92.8 402.7 76.7 406 61.6 410 45.9 415 27.5 421.7 38.9 424.9 73.1 433.8 83.3 436.8 92.6 440 102.8 444 113 448.7 123.1 454.1z" fill="#2d8bf4" stroke="#2d8bf4" stroke-width="0.8"/>
<path d="M132.4 459.9 144.5 455.6 157.9 451.6 171.3 448.5 184.6 446 196.8 444.3 210.1 442.8 268.4 437.9 254.1 429 241.6 422.2 229.1 416.4 221.7 413.5 215.2 411.2 208.4 409 201.2 406.9 187.1 403.7 179.4 402.3 172 401.2 163.4 400.2 156.2 399.6 141.2 399.1 133.4 399.2 125.2 399.6 109.9 400.9 94.1 403.1 78 406.4 62.8 410.4 47.2 415.3 28.7 422.1 73.1 433.8 83.3 436.8 92.6 440 102.8 444 113 448.7 123.1 454.1z" fill="#2c8ef1" stroke="#2c8ef1" stroke-width="0.8"/>
<path d="M132.4 459.9 144.5 455.6 157.9 451.6 171.3 448.5 184.6 446 196.8 444.3 210.1 442.8 266.8 438.1 253.5 429.7 241.1 422.9 228.6 417.1 221.4 414.2 214.8 411.8 208 409.6 200.8 407.6 186.8 404.3 179.1 402.9 171.7 401.8 156.9 400.3 149.6 399.9 140.9 399.8 133.1 399.9 125 400.2 109.7 401.5 94 403.8 77.8 407.1 62.7 411.1 47.2 416.1 29.9 422.4 73.1 433.8 83.3 436.8 92.6 440 102.8 444 113 448.7 123.1 454.1z" fill="#2b92ef" stroke="#2b92ef" stroke-width="0.8"/>
<path d="M132.4 459.9 144.5 455.6 156.7 452 170 448.7 183.4 446.2 195.5 444.5 210.1 442.8 265.2 438.2 251.9 429.9 239.5 423.1 226.9 417.3 214.4 412.5 207.6 410.3 200.5 408.2 186.5 404.9 178.8 403.5 171.4 402.4 156.7 401 141.3 400.4 126.5 400.7 111.1 402 95.3 404.2 79.6 407.4 64 411.5 48.4 416.4 31.1 422.7 73.1 433.8 84.3 437.1 93.5 440.3 103.7 444.4 113.9 449.1 123.1 454.1z" fill="#2895ec" stroke="#2895ec" stroke-width="0.8"/>
<path d="M132.4 459.9 144.5 455.6 156.7 452 170 448.7 183.4 446.2 195.5 444.5 210.1 442.8 263.7 438.4 250.3 430 237.9 423.3 225.3 417.5 212.7 412.7 205.9 410.5 198.6 408.5 191 406.6 184.5 405.2 170.4 402.9 162.6 402.1 155.3 401.5 141 401 126.2 401.4 110.9 402.6 95.1 404.9 80.4 407.9 65.2 411.8 49.6 416.7 32.3 423.1 73.1 433.8 84.3 437.1 93.5 440.3 103.7 444.4 113.9 449.1 123.1 454.1z" fill="#2798ea" stroke="#2798ea" stroke-width="0.8"/>
<path d="M132.4 459.9 144.5 455.6 156.7 452 170 448.7 183.4 446.2 195.5 444.5 210.1 442.8 262.1 438.5 249.7 430.8 237.4 424 224.8 418.2 212.3 413.4 205.5 411.2 198.3 409.1 190.7 407.2 184.2 405.8 170.1 403.6 156.2 402.2 148.7 401.8 140.7 401.6 126.6 401.9 112.2 403.1 104.2 404.1 96.4 405.3 81.6 408.3 66.4 412.2 50.8 417.1 33.5 423.4 73.1 433.8 84.3 437.1 93.5 440.3 103.7 444.4 113.9 449.1 123.1 454.1z" fill="#259be8" stroke="#259be8" stroke-width="0.8"/>
<path d="M132.4 459.9 144.5 455.6 156.7 452 170 448.7 183.4 446.2 195.5 444.5 210.1 442.8 260.6 438.7 248.2 430.9 235.8 424.1 229.1 420.9 223.2 418.3 210.6 413.6 203.8 411.4 196.5 409.3 183.2 406.3 169.9 404.2 162.1 403.3 154.6 402.7 140.4 402.2 125.6 402.6 110.3 403.9 96.2 406 81.4 409 66.3 412.9 50.7 417.8 34.7 423.7 73.1 433.8 84.3 437.1 93.5 440.3 103.7 444.4 113.9 449.1 123.1 454.1z" fill="#249ee6" stroke="#249ee6" stroke-width="0.8"/>
<path d="M132.4 459.9 144.5 455.6 156.7 452 168.8 449 182.2 446.4 194.3 444.6 208.9 443 259 438.8 246.6 431.1 235 424.7 222.8 419 210.2 414.2 197.7 410.4 190.1 408.5 183.7 407.1 169.6 404.8 155.7 403.4 142 402.8 127.1 403.1 111.7 404.4 97.4 406.4 82.7 409.3 67.5 413.2 51.9 418.2 35.9 424 74.1 434 85.2 437.4 94.4 440.6 104.6 444.8 113.9 449.1 123.1 454.1z" fill="#22a1e4" stroke="#22a1e4" stroke-width="0.8"/>
<path d="M132.4 459.9 144.5 455.6 156.7 452 168.8 449 182.2 446.4 194.3 444.6 208.9 443 257.5 439 245.1 431.2 239 427.8 232.6 424.4 221.2 419.2 208.5 414.4 195.9 410.6 188.3 408.7 181.8 407.4 167.5 405.1 153.9 403.8 139.7 403.4 125 403.8 109.8 405.2 95.7 407.3 81.3 410.3 67.3 414 53.1 418.5 37 424.4 74.1 434 85.2 437.4 94.4 440.6 104.6 444.8 113.9 449.1 123.1 454.1z" fill="#20a4e3" stroke="#20a4e3" stroke-width="0.8"/>
<path d="M132.4 459.9 144.5 455.6 156.7 452 168.8 449 182.2 446.4 194.3 444.6 208.9 443 256 439.1 243.6 431.3 232.2 425.1 220.8 419.9 208.2 415.1 195.6 411.2 182.3 408.1 169.2 405.9 155.3 404.5 141.3 404 126.4 404.3 111.1 405.6 97 407.7 82.3 410.7 68.5 414.3 54.2 418.8 38.2 424.7 74.1 434 85.2 437.4 94.4 440.6 104.6 444.8 113.9 449.1 123.1 454.1z" fill="#1ea7e1" stroke="#1ea7e1" stroke-width="0.8"/>
<path d="M132.4 459.9 144.5 455.6 156.7 452 168.8 449 182.2 446.4 194.3 444.6 208.9 443 254.5 439.2 242 431.5 230.6 425.3 219.2 420 213 417.6 206.5 415.2 193.9 411.4 181.3 408.6 174.4 407.3 167.1 406.3 153.2 405 139.1 404.5 125.5 404.9 110.8 406.2 96.7 408.3 82.1 411.4 68.4 415 54.1 419.5 39.3 425 74.1 434 85.2 437.4 94.4 440.6 104.6 444.8 113.9 449.1 123.1 454.1z" fill="#1baade" stroke="#1baade" stroke-width="0.8"/>
<path d="M132.4 459.9 143.3 456 155.5 452.3 167.6 449.3 181 446.7 193.1 444.8 207.7 443.1 222.2 441.8 252.9 439.3 241.5 432.2 230.2 425.9 218.8 420.7 212.7 418.2 206.2 415.9 193.6 412.1 181.1 409.2 174.2 407.9 166.9 406.9 152.8 405.5 138.9 405.1 125.8 405.5 112.2 406.7 98 408.7 84.7 411.4 70 415.2 55.9 419.7 40.5 425.3 75 434.3 86.1 437.7 95.4 441 105.6 445.2 114.8 449.6 124.1 454.7z" fill="#19addc" stroke="#19addc" stroke-width="0.8"/>
<path d="M132.4 459.9 143.3 456 155.5 452.3 167.6 449.3 181 446.7 193.1 444.8 207.7 443.1 222.2 441.8 251.4 439.5 240 432.3 228.6 426.1 217.2 420.8 205.9 416.5 193.3 412.7 180.8 409.8 168.2 407.6 154.5 406.2 141.2 405.7 127.2 406 113.5 407.1 99.2 409.1 84.6 412 70.7 415.6 56.4 420.1 41.6 425.6 75 434.3 86.1 437.7 95.4 441 105.6 445.2 114.8 449.6 124.1 454.7z" fill="#14b0d8" stroke="#14b0d8" stroke-width="0.8"/>
<path d="M132.4 459.9 143.3 456 155.5 452.3 167.6 449.3 181 446.7 193.1 444.8 207.7 443.1 222.2 441.8 249.9 439.6 238.5 432.4 227.1 426.2 215.6 421 204.2 416.7 191.6 412.9 179 410 165.4 407.9 152.5 406.7 138.6 406.3 125.1 406.7 111.8 407.9 99 409.7 85.7 412.4 71.9 415.9 57.6 420.4 42.8 425.9 75 434.3 86.1 437.7 95.4 441 105.6 445.2 114.8 449.6 124.1 454.7z" fill="#0fb2d5" stroke="#0fb2d5" stroke-width="0.8"/>
<path d="M132.4 459.9 143.3 456 155.5 452.3 167.6 449.3 181 446.7 193.1 444.8 207.7 443.1 222.2 441.8 248.5 439.7 237 432.5 226.6 426.9 215.3 421.6 203.9 417.3 191.3 413.5 178.7 410.6 166.4 408.6 153.8 407.3 140.9 406.8 126.5 407.2 112.9 408.3 99.5 410.2 86.9 412.7 73.1 416.3 58.7 420.7 43.9 426.2 75 434.3 86.1 437.7 95.4 441 105.6 445.2 114.8 449.6 124.1 454.7z" fill="#09b4d1" stroke="#09b4d1" stroke-width="0.8"/>
<path d="M132.4 459.9 143.3 456 155.5 452.3 167.6 449.3 179.8 446.9 191.9 445 206.5 443.2 221 441.9 247 439.8 235.5 432.7 225.1 427 213.7 421.8 203 417.7 191.1 414.1 178.5 411.2 166.2 409.2 153.4 407.9 139.1 407.4 126.2 407.7 112.6 408.9 99.9 410.7 86.7 413.4 72.9 417 59.9 421 45 426.5 64.8 431.5 75.9 434.6 87 438 96.3 441.3 105.6 445.2 114.8 449.6 124.1 454.7z" fill="#04b6cd" stroke="#04b6cd" stroke-width="0.8"/>
<path d="M132.4 459.9 143.3 456 155.5 452.3 167.6 449.3 179.8 446.9 191.9 445 206.5 443.2 221 441.9 245.5 439.9 234 432.8 223.6 427.2 213.3 422.4 202 418.1 190.8 414.7 178.3 411.8 166.1 409.8 153 408.4 138.7 408 125.8 408.3 112.3 409.5 99.7 411.4 86.4 414 74 417.3 61 421.3 46.2 426.8 64.8 431.5 75.9 434.6 87 438 96.3 441.3 105.6 445.2 114.8 449.6 124.1 454.7z" fill="#01b8c9" stroke="#01b8c9" stroke-width="0.8"/>
<path d="M132.4 459.9 143.3 456 155.5 452.3 167.6 449.3 179.8 446.9 191.9 445 205.2 443.3 219.8 442 244 440.1 232.5 432.9 222.1 427.3 211.7 422.6 200.4 418.3 189.1 414.9 176.5 412.1 164 410.1 152 409 140.3 408.5 127.2 408.8 113.6 409.9 100.9 411.7 87.7 414.4 75.2 417.6 62.1 421.6 47.3 427 65.7 431.8 76.9 434.8 87 438 96.3 441.3 105.6 445.2 114.8 449.6 124.1 454.7z" fill="#02bac4" stroke="#02bac4" stroke-width="0.8"/>
<path d="M132.4 459.9 143.3 456 155.5 452.3 166.4 449.5 178.5 447.1 190.7 445.1 204 443.5 218.6 442.1 242.5 440.2 232 433.6 221.7 428 211.4 423.2 200.1 418.9 188.8 415.5 176.3 412.6 163.9 410.7 152.1 409.5 139.9 409.1 126.9 409.4 113.2 410.5 100.6 412.3 87.4 415 75 418.3 62 422.4 48.4 427.3 66.7 432 77.8 435.1 88 438.3 97.2 441.7 106.5 445.6 114.8 449.6 124.1 454.7z" fill="#07bcc0" stroke="#07bcc0" stroke-width="0.8"/>
<path d="M132.4 459.9 143.3 456 155.5 452.3 166.4 449.5 178.5 447.1 190.7 445.1 204 443.5 218.6 442.1 241.1 440.3 230.6 433.7 220.2 428.1 209.9 423.4 198.4 419.1 187.1 415.7 175.7 413.1 163.7 411.2 151.7 410.1 139.5 409.6 127 409.9 114.6 410.9 101.9 412.7 88.6 415.4 76.1 418.6 63.1 422.6 49.5 427.6 66.7 432 77.8 435.1 88 438.3 97.2 441.7 106.5 445.6 114.8 449.6 124.1 454.7z" fill="#0dbdbb" stroke="#0dbdbb" stroke-width="0.8"/>
<path d="M132.4 459.9 143.3 456 155.5 452.3 166.4 449.5 178.5 447.1 190.7 445.1 204 443.5 218.6 442.1 239.6 440.4 229.1 433.8 218.7 428.2 208.3 423.5 198.1 419.7 186.9 416.3 175.2 413.7 163.6 411.8 151.3 410.6 139.1 410.2 126.9 410.5 114.2 411.5 101.6 413.3 89.8 415.7 77.3 418.9 64.3 422.9 50.7 427.9 66.7 432 77.8 435.1 88 438.3 97.2 441.7 106.5 445.6 114.8 449.6 124.1 454.7z" fill="#16bfb7" stroke="#16bfb7" stroke-width="0.8"/>
<path d="M132.4 459.9 143.3 456 154.3 452.6 165.2 449.8 177.3 447.3 189.5 445.3 202.8 443.6 217.4 442.2 238.1 440.5 227.6 434 218.2 428.9 207.9 424.2 197.4 420.2 186.6 416.9 174.8 414.2 163.4 412.4 151.4 411.2 138.7 410.7 126.7 411 113.9 412.1 101.8 413.9 89.5 416.3 77.1 419.5 65.4 423.2 51.8 428.2 67.6 432.3 78.7 435.4 88.9 438.6 98.1 442.1 107.4 446 115.7 450.1 124.1 454.7z" fill="#1ec0b2" stroke="#1ec0b2" stroke-width="0.8"/>
<path d="M132.4 459.9 143.3 456 154.3 452.6 165.2 449.8 177.3 447.3 189.5 445.3 202.8 443.6 217.4 442.2 236.7 440.6 226.1 434.1 216.7 429 206.4 424.3 196.2 420.5 184.9 417.2 173.9 414.7 161.7 412.7 150.5 411.7 138.3 411.3 126.6 411.6 115.2 412.5 102.5 414.3 90.7 416.7 78.3 419.8 66.5 423.5 52.9 428.5 67.6 432.3 78.7 435.4 88.9 438.6 98.1 442.1 107.4 446 115.7 450.1 124.1 454.7z" fill="#25c2ad" stroke="#25c2ad" stroke-width="0.8"/>
<path d="M132.4 459.9 143.3 456 154.3 452.6 165.2 449.8 177.3 447.3 189.5 445.3 201.6 443.7 216.2 442.3 235.2 440.7 224.6 434.2 215.2 429.1 204.8 424.5 194.6 420.7 184.7 417.8 173.7 415.2 161.3 413.3 150.1 412.2 138 411.9 126.5 412.2 114.9 413.1 102.3 414.9 90.5 417.3 78.1 420.5 66.4 424.2 54 428.7 68.5 432.5 79.6 435.7 88.9 438.6 98.1 442.1 107.4 446 115.7 450.1 124.1 454.7z" fill="#2ac3a9" stroke="#2ac3a9" stroke-width="0.8"/>
<path d="M132.4 459.9 143.3 456 154.3 452.6 165.2 449.8 176.1 447.5 188.3 445.5 200.4 443.9 215 442.4 233.7 440.9 224.2 434.9 214.8 429.8 204.5 425.1 194.3 421.3 184.4 418.4 173.5 415.8 162.9 414.1 151.1 412.9 139.7 412.4 128.3 412.6 116.2 413.6 103.5 415.3 91.7 417.6 79.2 420.8 67.5 424.5 55.1 429 69.4 432.8 80.6 435.9 89.8 439 99.1 442.4 107.4 446 115.7 450.1 124.1 454.7z" fill="#2ec5a4" stroke="#2ec5a4" stroke-width="0.8"/>
<path d="M132.4 459.9 143.3 456 154.3 452.6 165.2 449.8 176.1 447.5 188.3 445.5 200.4 443.9 213.7 442.5 232.2 441 222.7 435 213.3 429.9 202.9 425.3 192.7 421.5 182.7 418.6 171.6 416.1 160.5 414.4 149.3 413.3 137.2 413 126.2 413.3 114.3 414.3 103.2 415.9 91.4 418.3 80.4 421.1 68.6 424.8 56.3 429.3 70.4 433 80.6 435.9 89.8 439 99.1 442.4 107.4 446 115.7 450.1 124.1 454.7z" fill="#32c69e" stroke="#32c69e" stroke-width="0.8"/>
<path d="M132.4 459.9 143.3 456 154.3 452.6 165.2 449.8 176.1 447.5 188.3 445.5 200.4 443.9 213.7 442.5 230.8 441.1 221.2 435.1 211.8 430.1 202.6 425.9 192.4 422.1 182.5 419.2 171.4 416.7 160.1 414.9 148.9 413.9 137 413.5 125.8 413.9 113.9 414.9 102.9 416.6 91.2 419 80.3 421.8 69.8 425.1 57.4 429.6 70.4 433 80.6 435.9 89.8 439 99.1 442.4 107.4 446 115.7 450.1 124.1 454.7z" fill="#36c799" stroke="#36c799" stroke-width="0.8"/>
<path d="M132.4 459.9 142.1 456.4 153 453 164 450.1 174.9 447.8 187 445.7 199.2 444 212.5 442.6 229.3 441.2 219.7 435.2 211.4 430.7 202.2 426.6 191.8 422.6 181.3 419.5 171.2 417.3 159.7 415.5 148.5 414.4 136.8 414.1 125.9 414.4 115.2 415.4 104.2 416.9 92.4 419.3 81.3 422.1 70.9 425.4 58.5 429.9 71.3 433.3 81.5 436.2 90.7 439.3 100 442.8 108.3 446.4 116.7 450.6 125 455.2z" fill="#3ac993" stroke="#3ac993" stroke-width="0.8"/>
<path d="M132.4 459.9 142.1 456.4 153 453 164 450.1 174.9 447.8 185.8 445.9 198 444.2 211.3 442.7 227.8 441.3 218.2 435.4 209.9 430.9 200.6 426.7 191.8 423.4 182 420.4 172 418.1 161.7 416.3 150.2 415.1 139.2 414.7 128.6 414.8 116.6 415.8 105.4 417.3 93.8 419.6 82.5 422.4 72 425.7 59.6 430.2 72.2 433.5 82.4 436.5 91.7 439.6 100 442.8 108.3 446.4 116.7 450.6 125 455.2z" fill="#40ca8d" stroke="#40ca8d" stroke-width="0.8"/>
<path d="M132.4 459.9 142.1 456.4 153 453 162.8 450.4 173.7 448 184.6 446 196.8 444.3 210.1 442.8 226.3 441.4 216.7 435.5 208.3 431 199.1 426.9 190.1 423.5 180.2 420.6 169.1 418.1 158.9 416.5 148.2 415.6 137.6 415.2 126.5 415.5 115.9 416.4 105.2 417.9 94.8 420 83.7 422.8 73.2 426 60.8 430.5 73.1 433.8 83.3 436.8 92.6 440 100.9 443.2 109.3 446.9 116.7 450.6 125 455.2z" fill="#47cb87" stroke="#47cb87" stroke-width="0.8"/>
<path d="M132.4 459.9 142.1 456.4 153 453 162.8 450.4 173.7 448 184.6 446 196.8 444.3 210.1 442.8 224.8 441.5 215.2 435.6 206.8 431.1 197.5 427 188.5 423.7 178.5 420.8 168.9 418.7 158.5 417.1 148 416.1 137.2 415.8 126.2 416.1 115.6 417 104.9 418.6 94.5 420.6 83.5 423.4 73 426.7 61.9 430.8 73.1 433.8 83.3 436.8 92.6 440 100.9 443.2 109.3 446.9 116.7 450.6 125 455.2z" fill="#4fcc80" stroke="#4fcc80" stroke-width="0.8"/>
<path d="M132.4 459.9 142.1 456.4 153 453 162.8 450.4 173.7 448 184.6 446 195.5 444.5 207.7 443.1 223.3 441.7 214.7 436.3 206.4 431.8 197.1 427.7 188.2 424.4 178.2 421.4 168.7 419.3 158.1 417.7 149.1 416.8 138.7 416.4 127.6 416.6 117.3 417.4 106.1 418.9 95.8 421 84.6 423.8 74.2 427 63.1 431.1 75 434.3 84.3 437.1 92.6 440 100.9 443.2 109.3 446.9 116.7 450.6 125 455.2z" fill="#57cc7a" stroke="#57cc7a" stroke-width="0.8"/>
<path d="M132.4 459.9 142.1 456.4 151.8 453.3 161.5 450.7 172.5 448.2 183.4 446.2 194.3 444.6 206.5 443.2 221.8 441.8 213.2 436.4 204.8 432 195.5 427.8 186.7 424.6 177.9 422.1 167.8 419.8 157.8 418.2 147.7 417.3 138.5 417 127.3 417.2 117 418 105.9 419.6 95.5 421.6 85.8 424.1 75.3 427.3 64.2 431.4 75.9 434.6 85.2 437.4 93.5 440.3 101.8 443.6 110.2 447.3 117.6 451 125 455.2z" fill="#60cd72" stroke="#60cd72" stroke-width="0.8"/>
<path d="M132.4 459.9 142.1 456.4 151.8 453.3 161.5 450.7 172.5 448.2 183.4 446.2 194.3 444.6 206.5 443.2 220.3 441.9 211.7 436.6 203.3 432.1 195.1 428.5 186.5 425.3 177.7 422.7 168.2 420.5 157.6 418.8 148.3 417.9 138.1 417.5 127.8 417.8 116.7 418.6 107.2 420 96.7 422 87 424.4 76.5 427.6 65.3 431.7 75.9 434.6 85.2 437.4 93.5 440.3 101.8 443.6 110.2 447.3 117.6 451 125 455.2z" fill="#69cd6b" stroke="#69cd6b" stroke-width="0.8"/>
<path d="M132.4 459.9 142.1 456.4 151.8 453.3 161.5 450.7 171.3 448.5 182.2 446.4 193.1 444.8 205.2 443.3 218.8 442 211.2 437.3 202.8 432.8 194.8 429.1 185.8 425.8 175.9 422.9 167.1 421 157.4 419.4 147.3 418.5 137.8 418.1 127.5 418.3 118.1 419.1 106.9 420.6 96.5 422.6 86.8 425.1 76.4 428.4 66.5 432 76.9 434.8 86.1 437.7 94.4 440.6 102.8 444 110.2 447.3 117.6 451 125 455.2z" fill="#72cd64" stroke="#72cd64" stroke-width="0.8"/>
<path d="M132.4 459.9 142.1 456.4 151.8 453.3 161.5 450.7 171.3 448.5 181 446.7 191.9 445 204 443.5 217.3 442.2 209.7 437.4 201.9 433.2 194.4 429.8 185.5 426.5 175.6 423.5 166.8 421.6 157.1 420 147.6 419.1 137.9 418.7 128.1 418.9 117.8 419.7 108.2 421 97.8 423 88 425.4 77.6 428.7 67.7 432.3 77.8 435.1 87 438 95.4 441 102.8 444 110.2 447.3 117.6 451 125 455.2z" fill="#7ccc5c" stroke="#7ccc5c" stroke-width="0.8"/>
<path d="M132.4 459.9 140.9 456.8 150.6 453.7 160.3 451 170 448.7 179.8 446.9 190.7 445.1 202.8 443.6 215.8 442.3 208.1 437.6 199.7 433.1 191.5 429.5 183.8 426.7 175.3 424.2 165.8 422 156.9 420.6 147.3 419.7 137.7 419.3 127.8 419.5 117.5 420.3 108 421.7 99 423.4 89.2 425.8 78.7 429 68.8 432.6 78.7 435.4 88 438.3 96.3 441.3 103.7 444.4 111.1 447.7 118.5 451.5 125.9 455.8z" fill="#85cb55" stroke="#85cb55" stroke-width="0.8"/>
<path d="M132.4 459.9 140.9 456.8 150.6 453.7 160.3 451 170 448.7 179.8 446.9 190.7 445.1 201.6 443.7 214.2 442.5 206.6 437.7 199.2 433.8 191.1 430.2 183.4 427.3 174.9 424.8 165.5 422.7 156.6 421.2 147 420.3 137.5 419.9 127.5 420.1 117.2 421 107.7 422.3 98.8 424 89.1 426.5 79.9 429.3 70 432.9 79.6 435.7 88 438.3 96.3 441.3 103.7 444.4 111.1 447.7 118.5 451.5 125.9 455.8z" fill="#8fcb4e" stroke="#8fcb4e" stroke-width="0.8"/>
<path d="M132.4 459.9 140.9 456.8 150.6 453.7 159.1 451.3 168.8 449 178.5 447.1 189.5 445.3 200.4 443.9 212.7 442.6 205 437.8 197.6 433.9 189.4 430.3 181.9 427.6 173.1 425.1 165.2 423.3 156.4 421.9 146.7 420.9 137.2 420.5 127.2 420.8 118.6 421.4 109 422.7 100.1 424.4 90.3 426.8 81.1 429.6 71.2 433.2 80.6 435.9 88.9 438.6 97.2 441.7 104.6 444.8 112 448.2 118.5 451.5 125.9 455.8z" fill="#98c947" stroke="#98c947" stroke-width="0.8"/>
<path d="M132.4 459.9 140.9 456.8 150.6 453.7 159.1 451.3 168.8 449 178.5 447.1 188.3 445.5 199.2 444 211.1 442.7 204.4 438.6 197.1 434.6 189 431 181.3 428.2 172.8 425.7 164.9 423.9 155.4 422.4 146.1 421.5 136.2 421.2 127 421.4 118.4 422.1 108.8 423.4 99.9 425.1 90.2 427.6 81 430.4 72.4 433.6 81.5 436.2 89.8 439 97.2 441.7 104.6 444.8 112 448.2 118.5 451.5 125.9 455.8z" fill="#a2c840" stroke="#a2c840" stroke-width="0.8"/>
<path d="M132.4 459.9 140.9 456.8 149.4 454 157.9 451.6 167.6 449.3 177.3 447.3 187 445.7 198 444.2 209.5 442.9 202.8 438.7 195.5 434.8 187.3 431.2 179.5 428.4 171.3 426.1 162.9 424.2 155.1 423 146.1 422.1 137.9 421.8 128.5 422 119.4 422.6 110.2 423.8 101.2 425.5 91.4 427.9 82.2 430.8 73.6 433.9 82.4 436.5 90.7 439.3 98.1 442.1 105.6 445.2 113 448.7 119.4 452.1 125.9 455.8z" fill="#abc739" stroke="#abc739" stroke-width="0.8"/>
<path d="M132.4 459.9 140.9 456.8 149.4 454 157.9 451.6 167.6 449.3 177.3 447.3 187 445.7 196.8 444.3 208 443.1 201.2 438.9 193.9 435 186.9 431.9 179.1 429.1 171.2 426.8 162.5 424.9 153.5 423.5 145.5 422.8 136.3 422.4 128.2 422.6 118.9 423.3 110 424.5 101 426.2 92.7 428.3 83.5 431.1 74.8 434.2 83.3 436.8 90.7 439.3 98.1 442.1 105.6 445.2 113 448.7 119.4 452.1 125.9 455.8z" fill="#b3c534" stroke="#b3c534" stroke-width="0.8"/>
<path d="M132.4 459.9 140.9 456.8 149.4 454 157.9 451.6 166.4 449.5 174.9 447.8 184.6 446 195.5 444.5 206.3 443.2 199.6 439.1 192.7 435.4 185.1 432.1 178 429.5 170.1 427.3 162.2 425.5 154.6 424.3 145.6 423.4 137.4 423.1 128 423.3 119.4 423.9 110.6 425.1 102.3 426.6 93.3 428.8 84.7 431.5 76 434.6 84.3 437.1 92.6 440 100 442.8 106.5 445.6 113 448.7 119.4 452.1 125.9 455.8z" fill="#bcc42f" stroke="#bcc42f" stroke-width="0.8"/>
<path d="M132.4 459.9 140.9 456.8 149.4 454 157.9 451.6 166.4 449.5 174.9 447.8 184.6 446 194.3 444.6 204.7 443.4 198 439.2 191.6 435.9 184.6 432.8 176.9 430 169.7 427.9 161.8 426.2 152.8 424.8 144.8 424 135.5 423.7 127.8 423.9 119.2 424.6 111.2 425.7 102.2 427.4 93.8 429.4 86 431.8 77.3 435 85.2 437.4 92.6 440 100 442.8 106.5 445.6 113 448.7 119.4 452.1 125.9 455.8z" fill="#c4c22a" stroke="#c4c22a" stroke-width="0.8"/>
<path d="M132.4 459.9 139.7 457.2 148.2 454.4 156.7 452 165.2 449.8 173.7 448 183.4 446.2 193.1 444.8 203.1 443.6 196.3 439.4 189.9 436.1 182.9 433 176.4 430.7 169.3 428.6 161.4 426.8 152.4 425.5 144.4 424.7 135.1 424.4 127.6 424.6 119 425.3 111 426.4 103.6 427.8 95.1 429.8 87.2 432.2 78.5 435.3 86.1 437.7 93.5 440.3 100.9 443.2 107.4 446 113.9 449.1 120.4 452.6 126.8 456.3z" fill="#ccc028" stroke="#ccc028" stroke-width="0.8"/>
<path d="M132.4 459.9 139.7 457.2 148.2 454.4 156.7 452 165.2 449.8 173.7 448 182.2 446.4 191.9 445 201.4 443.8 195.7 440.2 189.3 436.8 182.4 433.7 175.9 431.4 168.8 429.3 160.9 427.5 153.9 426.4 145 425.5 137.1 425.1 129.2 425.2 120.5 425.8 112.4 426.9 104.9 428.2 96.4 430.2 88.5 432.6 79.8 435.7 87 438 94.4 440.6 100.9 443.2 107.4 446 113.9 449.1 120.4 452.6 126.8 456.3z" fill="#d4bf28" stroke="#d4bf28" stroke-width="0.8"/>
<path d="M132.4 459.9 139.7 457.2 148.2 454.4 155.5 452.3 164 450.1 172.5 448.2 181 446.7 189.5 445.3 199.7 444 194 440.4 187.6 437.1 180.6 434 174 431.7 166.8 429.6 159.1 427.9 151.6 426.8 143.5 426.1 134.6 425.8 127.3 426 119.4 426.7 112.3 427.6 104.8 429 96.4 431 88.5 433.4 81.1 436.1 95.4 441 101.8 443.6 108.3 446.4 114.8 449.6 120.4 452.6 126.8 456.3z" fill="#dbbd29" stroke="#dbbd29" stroke-width="0.8"/>
<path d="M132.4 459.9 139.7 457.2 148.2 454.4 155.5 452.3 164 450.1 179.8 446.9 188.3 445.5 198 444.2 192.2 440.6 185.8 437.3 179.3 434.5 172.1 432 164.8 430 158.3 428.6 151.1 427.5 143 426.8 134.5 426.5 127.1 426.7 120.2 427.3 112.2 428.3 104.8 429.7 97.7 431.4 89.8 433.8 82.4 436.5 96.3 441.3 108.3 446.4 114.8 449.6 120.4 452.6 126.8 456.3z" fill="#e2bc2b" stroke="#e2bc2b" stroke-width="0.8"/>
<path d="M132.4 459.9 139.7 457.2 147 454.8 154.3 452.6 162.8 450.4 178.5 447.1 196.3 444.4 190.5 440.8 185.2 438.1 179.4 435.5 172.9 433.1 165.8 431 159.5 429.6 152.5 428.5 144.6 427.6 136.3 427.3 128.8 427.4 121.3 427.9 113.7 428.9 106.2 430.2 99.1 431.9 91.2 434.3 83.7 436.9 97.2 441.7 109.3 446.9 115.7 450.1 121.3 453.1z" fill="#e8bb2f" stroke="#e8bb2f" stroke-width="0.8"/>
<path d="M132.4 459.9 139.7 457.2 147 454.8 161.5 450.7 168.8 449 177.3 447.3 194.5 444.6 188.7 441.1 183.4 438.3 177.5 435.7 171 433.4 163.7 431.4 157.2 430 151.3 429.1 144 428.4 136.2 428 128.7 428.1 121.7 428.6 113.7 429.6 106.2 431 99.1 432.7 92.5 434.7 85.1 437.4 98.1 442.1 110.2 447.3 121.3 453.1z" fill="#eeba34" stroke="#eeba34" stroke-width="0.8"/>
<path d="M132.4 459.9 139.7 457.2 147 454.8 161.5 450.7 176.1 447.5 192.7 444.9 187.9 441.9 182.6 439.1 176.8 436.5 170.3 434.2 163.1 432.1 156.6 430.8 149.4 429.7 143.4 429.1 136.2 428.8 128.9 428.9 121.7 429.4 115.2 430.2 107.6 431.5 100.6 433.2 93.9 435.2 86.4 437.8 99.1 442.4 110.2 447.3 121.3 453.1z" fill="#f4ba39" stroke="#f4ba39" stroke-width="0.8"/>
<path d="M132.4 459.9 145.8 455.2 160.3 451 174.9 447.8 190.8 445.1 186 442.1 180.7 439.4 174.8 436.8 169 434.8 162.5 432.9 156 431.5 149 430.5 142.7 429.9 135.9 429.6 128.6 429.7 121.7 430.2 115.2 431 109.1 432.1 102 433.7 95.3 435.6 87.8 438.3 100 442.8 111.1 447.7 122.2 453.6z" fill="#f9bb3d" stroke="#f9bb3d" stroke-width="0.8"/>
<path d="M132.4 459.9 145.8 455.2 159.1 451.3 173.7 448 189 445.4 184.1 442.4 178.8 439.7 172.8 437.1 167.6 435.3 161.8 433.7 155.3 432.3 149.1 431.3 142.3 430.7 135.1 430.4 128.6 430.5 121.7 431 115.2 431.8 109.2 432.9 102.1 434.6 95.5 436.6 89.3 438.8 100.9 443.2 112 448.2 122.2 453.6z" fill="#fdbd3d" stroke="#fdbd3d" stroke-width="0.8"/>
<path d="M132.4 459.9 145.8 455.2 159.1 451.3 172.5 448.2 187 445.7 182.2 442.7 176.8 440 172 437.9 166.6 436 161 434.5 154.3 433 147.4 432 141.2 431.5 134.3 431.2 128.7 431.4 121.8 431.9 115.3 432.7 109.3 433.8 102.3 435.5 97 437.1 90.7 439.3 101.8 443.6 112 448.2 122.2 453.6z" fill="#fec03a" stroke="#fec03a" stroke-width="0.8"/>
<path d="M132.4 459.9 144.5 455.6 157.9 451.6 171.3 448.5 185.1 446 180.2 443 175.9 440.8 169.9 438.3 164.6 436.5 158.7 434.9 152.1 433.6 146.6 432.8 140.4 432.3 134.4 432.1 127.9 432.3 121.8 432.7 115.4 433.6 109.4 434.7 103.8 436.1 98.5 437.6 92.2 439.8 102.8 444 113 448.7 123.1 454.1z" fill="#fec437" stroke="#fec437" stroke-width="0.8"/>
<path d="M132.4 459.9 144.5 455.6 156.7 452 170 448.7 183 446.3 178.1 443.4 174 441.3 169 439.2 164.6 437.6 159.4 436.1 153 434.7 147.4 433.9 141.6 433.3 134.8 433 129.6 433.1 123.6 433.5 117.1 434.3 111.1 435.3 105.4 436.6 100.1 438.2 93.8 440.4 103.7 444.4 113.9 449.1 123.1 454.1z" fill="#fec835" stroke="#fec835" stroke-width="0.8"/>
<path d="M132.4 459.9 143.3 456 155.5 452.3 167.6 449.3 180.9 446.7 177.1 444.3 172.8 442.1 168.1 440 162.8 438.2 156.9 436.6 152 435.6 146.6 434.8 140.6 434.2 134.8 434 129.1 434.1 123.9 434.4 117.4 435.2 111.3 436.3 105.7 437.6 100.4 439.2 95.4 441 105.6 445.2 114.8 449.6 124.1 454.7z" fill="#fdcc32" stroke="#fdcc32" stroke-width="0.8"/>
<path d="M132.4 459.9 143.3 456 155.5 452.3 166.4 449.5 178.7 447 174.9 444.7 170.6 442.5 165.7 440.5 161.8 439.1 156.4 437.6 151 436.5 145.8 435.7 141.2 435.3 135.1 435 129.7 435.1 124.1 435.4 119.2 436 113.1 437 107.4 438.3 102.1 439.9 97.1 441.6 106.5 445.6 114.8 449.6 124.1 454.7z" fill="#fcd030" stroke="#fcd030" stroke-width="0.8"/>
<path d="M132.4 459.9 143.3 456 154.3 452.6 165.2 449.8 176.5 447.5 172.6 445.1 169.4 443.5 165 441.6 160.7 440 156.3 438.8 151.4 437.7 146.3 436.9 140.4 436.3 135.4 436.1 129.7 436.1 124.5 436.4 119.5 437 114.9 437.7 109.1 439 103.8 440.5 98.8 442.3 107.4 446 115.7 450.1 124.1 454.7z" fill="#fad42e" stroke="#fad42e" stroke-width="0.8"/>
<path d="M132.4 459.9 142.1 456.4 153 453 164 450.1 174.1 447.9 170.2 445.6 167 443.9 163.4 442.4 158.7 440.8 153.6 439.4 149.6 438.6 145.1 437.9 140.1 437.4 134.4 437.2 130.2 437.2 124.9 437.5 119.9 438.1 114.6 439 109.6 440.1 105.6 441.3 100.6 443 108.3 446.4 116.7 450.6 125 455.2z" fill="#f8d92c" stroke="#f8d92c" stroke-width="0.8"/>
<path d="M132.4 459.9 142.1 456.4 151.8 453.3 161.5 450.7 171.7 448.4 167.7 446.1 164.4 444.5 160.8 443 156.9 441.7 149 439.8 143.6 438.9 139.6 438.6 134.5 438.3 130 438.4 125.4 438.7 120.4 439.2 115.9 440 111.6 441 107.5 442.1 102.5 443.8 110.2 447.3 117.6 451 125 455.2z" fill="#f7dd2a" stroke="#f7dd2a" stroke-width="0.8"/>
<path d="M132.4 459.9 140.9 456.8 150.6 453.7 159.1 451.3 169 449 166.1 447.2 162.9 445.6 159.3 444 155.3 442.7 150.8 441.5 146.5 440.7 137.9 439.7 129.5 439.7 121 440.4 116.5 441.2 112.2 442.2 104.5 444.7 112 448.2 118.5 451.5 125.9 455.8z" fill="#f6e128" stroke="#f6e128" stroke-width="0.8"/>
<path d="M132.4 459.9 140.9 456.8 149.4 454 157.9 451.6 166.2 449.6 163.3 447.8 160 446.2 153.6 443.8 145.8 442 138.2 441.1 130.3 441 121.8 441.7 114.4 443.2 110.4 444.3 106.6 445.6 113 448.7 119.4 452.1 125.9 455.8z" fill="#f5e526" stroke="#f5e526" stroke-width="0.8"/>
<path d="M132.4 459.9 139.7 457.2 148.2 454.4 155.5 452.3 163.2 450.3 158.1 447.5 151.7 445.1 145.5 443.6 137.9 442.7 130.8 442.5 122.8 443.2 115.4 444.6 108.9 446.7 120.4 452.6 126.8 456.3z" fill="#f5e924" stroke="#f5e924" stroke-width="0.8"/>
<path d="M132.4 459.9 145.8 455.2 159.9 451.1 156.9 449.4 154.7 448.3 149.7 446.5 143.8 445.1 137.4 444.3 130.8 444.2 124 444.8 118 445.9 111.4 447.9 122.2 453.6z" fill="#f5ed21" stroke="#f5ed21" stroke-width="0.8"/>
<path d="M132.4 459.9 144.5 455.6 156.2 452.1 152 449.8 146.9 448 142 446.9 136.6 446.3 130.6 446.2 125.3 446.6 119.5 447.7 114.3 449.3 123.1 454.1z" fill="#f6f11e" stroke="#f6f11e" stroke-width="0.8"/>
<path d="M132.4 459.9 142.1 456.4 151.8 453.3 148.7 451.6 144.8 450.2 140.1 449.1 136.4 448.7 131.1 448.5 126 449 121.5 449.8 117.6 451.1 125 455.2z" fill="#f7f51b" stroke="#f7f51b" stroke-width="0.8"/>
<path d="M132.4 459.9 146.1 455.1 144 453.9 141.5 453 138.4 452.2 134.8 451.8 130.9 451.7 127.5 452.1 124.6 452.6 122 453.5z" fill="#f8f917" stroke="#f8f917" stroke-width="0.8"/>
</g>
<text x="13.6" y="389.3" text-anchor="end" font-size="9.5" font-family="DejaVu Sans, Liberation Sans, sans-serif" fill="#262626" >0.4</text>
<text x="13.6" y="405.3" text-anchor="end" font-size="9.5" font-family="DejaVu Sans, Liberation Sans, sans-serif" fill="#262626" >0.3</text>
<text x="13.6" y="421.0" text-anchor="end" font-size="9.5" font-family="DejaVu Sans, Liberation Sans, sans-serif" fill="#262626" >0.2</text>
<text x="9.9" y="444.2" text-anchor="middle" font-size="9.5" font-family="DejaVu Sans, Liberation Sans, sans-serif" fill="#262626" >1</text>
<text x="62.0" y="480.3" text-anchor="middle" font-size="9.5" font-family="DejaVu Sans, Liberation Sans, sans-serif" fill="#262626" >0.5</text>
<text x="122.2" y="516.6" text-anchor="middle" font-size="9.5" font-family="DejaVu Sans, Liberation Sans, sans-serif" fill="#262626" >0</text>
<text x="142.3" y="518.2" text-anchor="middle" font-size="9.5" font-family="DejaVu Sans, Liberation Sans, sans-serif" fill="#262626" >0</text>
<text x="219.4" y="490.8" text-anchor="middle" font-size="9.5" font-family="DejaVu Sans, Liberation Sans, sans-serif" fill="#262626" >0.5</text>
<text x="287.5" y="462.3" text-anchor="middle" font-size="9.5" font-family="DejaVu Sans, Liberation Sans, sans-serif" fill="#262626" >1</text>
<text x="62.8" y="513.8" font-family="Liberation Serif, serif" font-size="11.5" font-style="italic" fill="#444">x<tspan font-size="8" font-style="normal" dy="2" dx="0.3">2</tspan></text>
<text x="201.2" y="517.8" font-family="Liberation Serif, serif" font-size="11.5" font-style="italic" fill="#444">x<tspan font-size="8" font-style="normal" dy="2" dx="0.3">1</tspan></text>
<path d="M470.80 503.20L616.50 447.30" stroke="#262626" stroke-width="0.75" fill="none"/>
<path d="M470.80 503.20L359.70 430.30" stroke="#262626" stroke-width="0.75" fill="none"/>
<path d="M359.70 430.30L359.70 387.30" stroke="#262626" stroke-width="0.75" fill="none"/>
<path d="M470.80 503.20L473.31 504.85" stroke="#262626" stroke-width="0.75" fill="none"/>
<path d="M470.80 503.20L468.00 504.27" stroke="#262626" stroke-width="0.75" fill="none"/>
<path d="M543.65 475.25L546.16 476.90" stroke="#262626" stroke-width="0.75" fill="none"/>
<path d="M415.25 466.75L412.45 467.82" stroke="#262626" stroke-width="0.75" fill="none"/>
<path d="M616.50 447.30L619.01 448.95" stroke="#262626" stroke-width="0.75" fill="none"/>
<path d="M359.70 430.30L356.90 431.37" stroke="#262626" stroke-width="0.75" fill="none"/>
<path d="M359.70 389.10L357.19 387.45" stroke="#262626" stroke-width="0.75" fill="none"/>
<path d="M359.70 405.10L357.19 403.45" stroke="#262626" stroke-width="0.75" fill="none"/>
<path d="M359.70 420.80L357.19 419.15" stroke="#262626" stroke-width="0.75" fill="none"/>
<mask id="c4" maskUnits="userSpaceOnUse" x="0" y="0" width="685" height="523"><path d="M470.8 459.9 482.9 455.6 496.3 451.6 509.7 448.5 524.2 445.9 535.2 444.3 548.5 442.8 595.9 439 616.5 436.9 590.6 420.3 579.5 413.6 567.4 406.7 544.3 394.2 505.4 374.4 454.4 388.3 424.1 397.2 408.3 402.3 393.7 407.3 377.9 413 359.7 419.9 375.4 424.4 411.5 433.8 421.7 436.8 430.1 439.6 441.2 444 451.4 448.7 461.5 454.1z" fill="#fff"/></mask>
<g mask="url(#c4)">
<path d="M470.8 459.9 482.9 455.6 496.3 451.6 509.7 448.5 524.2 445.9 535.2 444.3 548.5 442.8 595.9 439 616.5 436.9 590.6 420.3 579.5 413.6 567.4 406.7 544.3 394.2 505.4 374.4 454.4 388.3 424.1 397.2 408.3 402.3 393.7 407.3 377.9 413 359.7 419.9 375.4 424.4 411.5 433.8 421.7 436.8 430.1 439.6 441.2 444 451.4 448.7 461.5 454.1z" fill="#3e28ac" stroke="#3e28ac" stroke-width="1"/>
<path d="M470.8 459.9 482.9 455.6 496.3 451.6 509.7 448.5 524.2 445.9 535.2 444.3 548.5 442.8 595.9 439 616.5 436.9 600.8 426.7 587.8 418.6 574.8 410.9 561.9 403.6 541.5 392.8 508.5 376 505.6 375.8 501.3 375.5 459.3 386.9 432.5 394.6 414.3 400.3 397.3 406 380.3 412.1 359.7 419.9 375.4 424.4 411.5 433.8 421.7 436.8 430.1 439.6 441.2 444 451.4 448.7 461.5 454.1z" fill="#402ab4" stroke="#402ab4" stroke-width="0.8"/>
<path d="M470.8 459.9 482.9 455.6 496.3 451.6 509.7 448.5 524.2 445.9 535.2 444.3 548.5 442.8 595.9 439 616.5 436.9 598.9 425.5 583.2 415.8 567.4 406.7 551.7 398.1 536 389.9 511.5 377.5 503.9 376.9 497.3 376.6 460.5 386.6 436.2 393.5 418 399.1 399.8 405.2 381.6 411.6 359.7 419.9 375.4 424.4 411.5 433.8 421.7 436.8 430.1 439.6 441.2 444 451.4 448.7 461.5 454.1z" fill="#412dbc" stroke="#412dbc" stroke-width="0.8"/>
<path d="M470.8 459.9 482.9 455.6 496.3 451.6 509.7 448.5 524.2 445.9 535.2 444.3 548.5 442.8 595.9 439 616.5 436.9 598 424.9 581.3 414.7 564.7 405.1 546.1 395.2 514.5 379 504.5 378.2 493.4 377.6 445.9 390.7 424.1 397.2 403.4 403.9 382.8 411.2 359.7 419.9 375.4 424.4 411.5 433.8 421.7 436.8 430.1 439.6 441.2 444 451.4 448.7 461.5 454.1z" fill="#4230c3" stroke="#4230c3" stroke-width="0.8"/>
<path d="M470.8 459.9 482.9 455.6 496.3 451.6 509.7 448.5 524.2 445.9 535.2 444.3 548.5 442.8 595.9 439 616.5 436.9 595.2 423.2 576.7 412 557.2 401.1 536 389.9 517.5 380.6 504.2 379.4 489.5 378.7 455.6 387.9 431.3 395 408.3 402.3 385.2 410.3 359.7 419.9 375.4 424.4 411.5 433.8 421.7 436.8 430.1 439.6 441.2 444 451.4 448.7 461.5 454.1z" fill="#4332ca" stroke="#4332ca" stroke-width="0.8"/>
<path d="M470.8 459.9 482.9 455.6 496.3 451.6 509.7 448.5 524.2 445.9 535.2 444.3 548.5 442.8 595.9 439 616.5 436.9 592.4 421.5 571.1 408.8 548.9 396.6 520.5 382.1 511.3 381.1 502.6 380.4 485.6 379.8 461.7 386.2 435 393.9 410.7 401.5 386.4 409.9 359.7 419.9 375.4 424.4 411.5 433.8 421.7 436.8 430.1 439.6 441.2 444 451.4 448.7 461.5 454.1z" fill="#4435d1" stroke="#4435d1" stroke-width="0.8"/>
<path d="M470.8 459.9 482.9 455.6 496.3 451.6 509.7 448.5 524.2 445.9 535.2 444.3 548.5 442.8 595.9 439 616.5 436.9 593.4 422 572.1 409.3 550.8 397.6 523.5 383.6 512.8 382.3 502.4 381.5 488.9 380.9 481.6 380.8 481.1 380.9 444.7 391 416.8 399.5 390.1 408.6 359.7 419.9 375.4 424.4 411.5 433.8 421.7 436.8 430.1 439.6 441.2 444 451.4 448.7 461.5 454.1z" fill="#4538d8" stroke="#4538d8" stroke-width="0.8"/>
<path d="M470.8 459.9 482.9 455.6 496.3 451.6 509.7 448.5 524.2 445.9 535.2 444.3 548.5 442.8 595.9 439 616.5 436.9 593.4 422 573 409.9 552.6 398.6 526.5 385.1 514.6 383.6 503.3 382.6 491 382 477.7 381.9 443.5 391.4 416.8 399.5 390.1 408.6 359.7 419.9 375.4 424.4 411.5 433.8 421.7 436.8 430.1 439.6 441.2 444 451.4 448.7 461.5 454.1z" fill="#463bdd" stroke="#463bdd" stroke-width="0.8"/>
<path d="M470.8 459.9 482.9 455.6 496.3 451.6 509.7 448.5 524.2 445.9 535.2 444.3 548.5 442.8 595.9 439 616.5 436.9 594.3 422.6 574.8 410.9 554.5 399.6 529.6 386.6 516.4 384.9 502.2 383.6 487.3 382.9 473.7 382.9 441 392.1 414.3 400.3 388.8 409 359.7 419.9 375.4 424.4 411.5 433.8 421.7 436.8 430.1 439.6 441.2 444 451.4 448.7 461.5 454.1z" fill="#473fe2" stroke="#473fe2" stroke-width="0.8"/>
<path d="M470.8 459.9 482.9 455.6 496.3 451.6 509.7 448.5 524.2 445.9 535.2 444.3 548.5 442.8 595.9 439 616.5 436.9 595.2 423.2 575.8 411.5 556.3 400.6 532.6 388.2 517.3 386 501.1 384.5 485.6 383.9 469.7 384 438.6 392.8 413.1 400.7 387.6 409.4 359.7 419.9 375.4 424.4 411.5 433.8 421.7 436.8 430.1 439.6 441.2 444 451.4 448.7 461.5 454.1z" fill="#4743e7" stroke="#4743e7" stroke-width="0.8"/>
<path d="M470.8 459.9 482.9 455.6 496.3 451.6 509.7 448.5 524.2 445.9 535.2 444.3 548.5 442.8 595.9 439 616.5 436.9 595.2 423.2 576.7 412 557.2 401.1 535.7 389.8 527.5 388.4 518.3 387.1 502.2 385.5 493.5 385.1 483.9 384.8 474.3 384.9 465.6 385.1 437.4 393.1 411.9 401.1 387.6 409.4 359.7 419.9 375.4 424.4 411.5 433.8 421.7 436.8 430.1 439.6 441.2 444 451.4 448.7 461.5 454.1z" fill="#4746ea" stroke="#4746ea" stroke-width="0.8"/>
<path d="M470.8 459.9 482.9 455.6 496.3 451.6 509.7 448.5 524.2 445.9 535.2 444.3 548.5 442.8 595.9 439 616.5 436.9 596.1 423.8 577.6 412.5 559.1 402.1 538.9 391.4 530.1 389.8 520.8 388.4 511.4 387.3 501.3 386.4 492.1 385.9 482.1 385.7 472.6 385.8 461.5 386.3 435 393.9 410.7 401.5 386.4 409.9 359.7 419.9 375.4 424.4 411.5 433.8 421.7 436.8 430.1 439.6 441.2 444 451.4 448.7 461.5 454.1z" fill="#484aee" stroke="#484aee" stroke-width="0.8"/>
<path d="M470.8 459.9 482.9 455.6 496.3 451.6 509.7 448.5 524.2 445.9 535.2 444.3 548.5 442.8 595.9 439 616.5 436.9 597.1 424.3 579.5 413.6 561.9 403.6 542.1 393.1 532.8 391.2 522.1 389.5 511.6 388.2 500.6 387.3 490.2 386.8 479.5 386.6 469 386.8 457.3 387.5 431.3 395 408.3 402.3 385.2 410.3 359.7 419.9 375.4 424.4 411.5 433.8 421.7 436.8 430.1 439.6 441.2 444 451.4 448.7 461.5 454.1z" fill="#484ef1" stroke="#484ef1" stroke-width="0.8"/>
<path d="M470.8 459.9 482.9 455.6 496.3 451.6 509.7 448.5 524.2 445.9 535.2 444.3 548.5 442.8 595.9 439 616.5 436.9 597.1 424.3 580.4 414.2 563.7 404.6 545.4 394.8 534.1 392.4 523.2 390.6 511.9 389.2 500.7 388.2 488.3 387.6 476.6 387.5 465.1 387.9 452.9 388.7 428.9 395.7 407.1 402.7 385.2 410.3 359.7 419.9 375.4 424.4 411.5 433.8 421.7 436.8 430.1 439.6 441.2 444 451.4 448.7 461.5 454.1z" fill="#4852f4" stroke="#4852f4" stroke-width="0.8"/>
<path d="M470.8 459.9 482.9 455.6 496.3 451.6 509.7 448.5 524.2 445.9 535.2 444.3 548.5 442.8 595.9 439 616.5 436.9 598 424.9 582.2 415.3 566.5 406.2 548.9 396.6 537.9 394.1 526 391.9 513.1 390.2 500.8 389.1 487.5 388.4 474.8 388.4 462 388.9 448.4 390 425.3 396.8 404.6 403.5 384 410.8 359.7 419.9 375.4 424.4 411.5 433.8 421.7 436.8 430.1 439.6 441.2 444 451.4 448.7 461.5 454.1z" fill="#4755f6" stroke="#4755f6" stroke-width="0.8"/>
<path d="M470.8 459.9 482.9 455.6 496.3 451.6 509.7 448.5 524.2 445.9 535.2 444.3 548.5 442.8 595.9 439 616.5 436.9 598.9 425.5 584.1 416.4 568.4 407.2 552.5 398.5 540.2 395.5 527.1 393 514.3 391.2 500.2 389.9 486.4 389.2 471.5 389.3 457.1 390 443.7 391.3 422.8 397.6 402.2 404.3 382.8 411.2 359.7 419.9 375.4 424.4 411.5 433.8 421.7 436.8 430.1 439.6 441.2 444 451.4 448.7 461.5 454.1z" fill="#4759f8" stroke="#4759f8" stroke-width="0.8"/>
<path d="M470.8 459.9 482.9 455.6 496.3 451.6 509.7 448.5 524.2 445.9 535.2 444.3 548.5 442.8 595.9 439 616.5 436.9 599.8 426.1 585.9 417.5 571.1 408.8 556.3 400.5 542.9 397.1 528.2 394.1 513.6 391.9 499.5 390.6 484.4 390 469.2 390.2 453.4 391.1 438.7 392.8 419.2 398.7 399.8 405.2 381.6 411.6 359.7 419.9 375.4 424.4 411.5 433.8 421.7 436.8 430.1 439.6 441.2 444 451.4 448.7 461.5 454.1z" fill="#475dfa" stroke="#475dfa" stroke-width="0.8"/>
<path d="M470.8 459.9 482.9 455.6 496.3 451.6 509.7 448.5 524.2 445.9 535.2 444.3 548.5 442.8 595.9 439 616.5 436.9 600.8 426.7 587.8 418.6 573.9 410.4 560.3 402.7 545.4 398.6 531 395.4 522.3 393.9 514.9 392.9 498.7 391.4 482.4 390.8 465.6 391.1 450 392.2 433.4 394.3 415.6 399.9 397.3 406 380.3 412.1 359.7 419.9 375.4 424.4 411.5 433.8 421.7 436.8 430.1 439.6 441.2 444 451.4 448.7 461.5 454.1z" fill="#4660fc" stroke="#4660fc" stroke-width="0.8"/>
<path d="M470.8 459.9 482.9 455.6 496.3 451.6 509.7 448.5 524.2 445.9 535.2 444.3 548.5 442.8 595.9 439 616.5 436.9 602.6 427.9 589.7 419.7 577.6 412.5 564.6 405.1 556.5 402.5 549.3 400.5 540.8 398.4 532 396.5 523.5 395 514.5 393.7 506.5 392.8 498.2 392.1 489.3 391.7 480.4 391.5 471.9 391.6 463.5 392 454.3 392.6 445 393.6 436.3 394.7 427.8 396.1 410.7 401.5 394.9 406.9 377.9 413 359.7 419.9 375.4 424.4 411.5 433.8 421.7 436.8 430.1 439.6 441.2 444 451.4 448.7 461.5 454.1z" fill="#4464fd" stroke="#4464fd" stroke-width="0.8"/>
<path d="M470.8 459.9 482.9 455.6 496.3 451.6 509.7 448.5 524.2 445.9 535.2 444.3 548.5 442.8 595.9 439 616.5 436.9 591.5 420.9 580.4 414.2 569.3 407.8 561.4 405 553 402.4 544.2 400 534.8 397.9 526.4 396.3 516.8 394.8 507.9 393.7 498.6 392.9 488.7 392.4 479.1 392.3 469.1 392.5 460.1 392.9 451.6 393.6 441.7 394.7 432.2 396.1 421.6 398 407.1 402.7 392.5 407.7 376.7 413.4 359.7 419.9 375.4 424.4 411.5 433.8 421.7 436.8 430.1 439.6 441.2 444 451.4 448.7 461.5 454.1z" fill="#4368fe" stroke="#4368fe" stroke-width="0.8"/>
<path d="M470.8 459.9 482.9 455.6 496.3 451.6 509.7 448.5 524.2 445.9 535.2 444.3 548.5 442.8 595.9 439 616.5 436.9 596.1 423.8 578.5 413.1 574.7 410.9 567.4 408 559.4 405.3 551 402.7 542.1 400.4 534.2 398.6 525.9 397 516.8 395.6 507.4 394.4 498.5 393.7 490.1 393.2 480.2 393 470.8 393.2 461.8 393.6 452.6 394.3 443.2 395.3 433.7 396.6 424.6 398.2 414.5 400.3 407.1 402.7 385.2 410.3 359.7 419.9 375.4 424.4 411.5 433.8 421.7 436.8 430.1 439.6 441.2 444 451.4 448.7 461.5 454.1z" fill="#406cfe" stroke="#406cfe" stroke-width="0.8"/>
<path d="M470.8 459.9 482.9 455.6 496.3 451.6 509.7 448.5 524.2 445.9 535.2 444.3 548.5 442.8 595.9 439 616.5 436.9 598 424.9 581.1 414.6 573 411.2 564.2 407.8 556.1 405.1 549 403.1 540 400.7 532.1 399 523.6 397.4 514.6 396 505 395 496.6 394.3 487.6 393.9 478.2 393.8 470 393.9 461.4 394.3 451.9 395.1 443.2 396 433.7 397.4 424.5 399 415.7 400.8 406.1 403 384 410.8 359.7 419.9 375.4 424.4 411.5 433.8 421.7 436.8 430.1 439.6 441.2 444 451.4 448.7 461.5 454.1z" fill="#3e70ff" stroke="#3e70ff" stroke-width="0.8"/>
<path d="M470.8 459.9 482.9 455.6 496.3 451.6 509.7 448.5 524.2 445.9 535.2 444.3 548.5 442.8 595.9 439 616.5 436.9 601.7 427.3 589.6 419.7 583 416.5 576 413.4 562.3 408.1 554.5 405.5 547.1 403.4 539.5 401.4 531.6 399.7 524.2 398.3 516 397 507.1 395.9 498.2 395.1 489.4 394.7 479.9 394.5 472.1 394.6 463.3 394.9 454.5 395.6 444.7 396.6 436.3 397.7 427.5 399.2 411.4 402.5 395 406.8 379.1 412.5 359.7 419.9 375.4 424.4 411.5 433.8 421.7 436.8 430.1 439.6 441.2 444 451.4 448.7 461.5 454.1z" fill="#3a74fe" stroke="#3a74fe" stroke-width="0.8"/>
<path d="M470.8 459.9 482.9 455.6 496.3 451.6 509.7 448.5 524.2 445.9 535.2 444.3 548.5 442.8 595.9 439 616.5 436.9 603.4 428.5 596.4 424.4 589 420.5 582.4 417.3 575.4 414.2 568.1 411.2 560.4 408.4 552.3 405.7 545.1 403.7 537.5 401.8 529.5 400 521.5 398.6 513.7 397.4 506 396.5 497.8 395.8 489.7 395.4 481.7 395.2 474.1 395.2 464.9 395.5 456.2 396.1 447.8 396.9 439.5 398 430.4 399.4 421.4 401.1 412.7 403 396.2 407.3 387 410.1 378.1 413 359.7 419.9 375.4 424.4 411.5 433.8 421.7 436.8 430.1 439.6 441.2 444 451.4 448.7 461.5 454.1z" fill="#3678fd" stroke="#3678fd" stroke-width="0.8"/>
<path d="M470.8 459.9 482.9 455.6 496.3 451.6 509.7 448.5 523 446 535.2 444.3 548.5 442.8 595.9 439 615 437 600.7 428.1 593.6 424.1 587.3 420.7 580.7 417.5 573.7 414.4 566.3 411.4 559.9 409.1 551.8 406.4 544.6 404.4 537.1 402.4 529.4 400.8 521.4 399.3 513.3 398.1 505.6 397.2 497.4 396.5 481.4 395.9 473.8 395.9 464.7 396.2 456 396.8 447.6 397.6 439.6 398.7 430.3 400.1 421.3 401.8 412.7 403.7 396.2 408.1 379.4 413.4 360.9 420.2 375.4 424.4 411.5 433.8 421.7 436.8 431 440 441.2 444 451.4 448.7 461.5 454.1z" fill="#327cfc" stroke="#327cfc" stroke-width="0.8"/>
<path d="M470.8 459.9 482.9 455.6 496.3 451.6 509.7 448.5 523 446 535.2 444.3 548.5 442.8 594.6 439.1 613.3 437.2 599 428.3 592 424.3 585.6 420.9 578.9 417.7 571.9 414.6 564.6 411.7 558.1 409.3 549.9 406.7 542.7 404.6 535.1 402.8 527 401 518.7 399.6 511.3 398.5 503.2 397.7 495.6 397.1 487.3 396.7 479.4 396.5 470.7 396.7 462.8 397 454.1 397.7 445.8 398.5 430.1 400.9 414 404.1 397.5 408.5 380.6 413.8 362.1 420.6 376.4 424.6 411.5 433.8 421.7 436.8 431 440 441.2 444 451.4 448.7 461.5 454.1z" fill="#3080fa" stroke="#3080fa" stroke-width="0.8"/>
<path d="M470.8 459.9 482.9 455.6 496.3 451.6 509.7 448.5 523 446 535.2 444.3 548.5 442.8 594.6 439.1 611.7 437.4 597.4 428.5 585 421.7 578.4 418.4 571.4 415.3 564.1 412.4 557.6 410 543.7 405.7 536.2 403.8 528.2 402 519.7 400.5 512.5 399.4 504.8 398.5 496.6 397.8 489.1 397.4 480.6 397.2 472.9 397.3 464.3 397.6 455.6 398.2 447.3 399 431.5 401.3 415.3 404.6 398.8 408.9 381.9 414.2 363.4 421 376.4 424.6 411.5 433.8 421.7 436.8 431 440 441.2 444 451.4 448.7 461.5 454.1z" fill="#2e84f9" stroke="#2e84f9" stroke-width="0.8"/>
<path d="M470.8 459.9 482.9 455.6 496.3 451.6 509.7 448.5 523 446 535.2 444.3 548.5 442.8 593.4 439.2 610 437.6 595.7 428.6 583.3 421.8 576.7 418.6 569.7 415.5 562.3 412.6 555.8 410.3 549 408 541 405.8 534.3 404.1 526.2 402.4 518.3 401 510.9 399.9 496.3 398.5 488.8 398.1 480.2 397.9 472.5 397.9 464.1 398.3 448.1 399.6 439.1 400.8 431.4 402 415.2 405.3 398.7 409.6 383.2 414.6 364.6 421.3 377.3 424.9 411.5 433.8 421.7 436.8 431 440 441.2 444 451.4 448.7 461.5 454.1z" fill="#2e87f7" stroke="#2e87f7" stroke-width="0.8"/>
<path d="M470.8 459.9 482.9 455.6 496.3 451.6 509.7 448.5 523 446 535.2 444.3 548.5 442.8 593.4 439.2 608.4 437.8 594.2 428.9 581.7 422 575 418.8 568 415.7 560.6 412.8 554.1 410.5 547.2 408.3 540 406.3 525.9 403 518 401.6 510.6 400.5 502.1 399.6 494.8 399 479.9 398.5 472.2 398.6 463.8 398.9 455.2 399.5 447.6 400.3 438.9 401.5 431.2 402.7 415.1 406 400 410 384.3 415 365.9 421.7 377.3 424.9 411.5 433.8 421.7 436.8 431 440 441.2 444 451.4 448.7 461.5 454.1z" fill="#2d8bf4" stroke="#2d8bf4" stroke-width="0.8"/>
<path d="M470.8 459.9 482.9 455.6 496.3 451.6 509.7 448.5 523 446 535.2 444.3 548.5 442.8 606.8 437.9 592.5 429 580 422.2 567.5 416.4 560.1 413.5 553.6 411.2 546.8 409 539.6 406.9 525.5 403.7 517.8 402.3 510.4 401.2 501.8 400.2 494.6 399.6 479.6 399.1 471.8 399.2 463.6 399.6 448.3 400.9 432.5 403.1 416.4 406.4 401.2 410.4 385.6 415.3 367.1 422.1 411.5 433.8 421.7 436.8 431 440 441.2 444 451.4 448.7 461.5 454.1z" fill="#2c8ef1" stroke="#2c8ef1" stroke-width="0.8"/>
<path d="M470.8 459.9 482.9 455.6 496.3 451.6 509.7 448.5 523 446 535.2 444.3 548.5 442.8 605.2 438.1 591.9 429.7 579.5 422.9 567 417.1 559.8 414.2 553.2 411.8 546.4 409.6 539.2 407.6 525.2 404.3 517.5 402.9 510.1 401.8 495.3 400.3 488 399.9 479.3 399.8 471.5 399.9 463.4 400.2 448.1 401.5 432.4 403.8 416.2 407.1 401.1 411.1 385.6 416.1 368.3 422.4 411.5 433.8 421.7 436.8 431 440 441.2 444 451.4 448.7 461.5 454.1z" fill="#2b92ef" stroke="#2b92ef" stroke-width="0.8"/>
<path d="M470.8 459.9 482.9 455.6 495.1 452 508.4 448.7 521.8 446.2 533.9 444.5 548.5 442.8 603.6 438.2 590.3 429.9 577.9 423.1 565.3 417.3 552.8 412.5 546 410.3 538.9 408.2 524.9 404.9 517.2 403.5 509.8 402.4 495.1 401 479.7 400.4 464.9 400.7 449.5 402 433.7 404.2 418 407.4 402.4 411.5 386.8 416.4 369.5 422.7 411.5 433.8 422.7 437.1 431.9 440.3 442.1 444.4 452.3 449.1 461.5 454.1z" fill="#2895ec" stroke="#2895ec" stroke-width="0.8"/>
<path d="M470.8 459.9 482.9 455.6 495.1 452 508.4 448.7 521.8 446.2 533.9 444.5 548.5 442.8 602.1 438.4 588.7 430 576.3 423.3 563.7 417.5 551.1 412.7 544.3 410.5 537 408.5 529.4 406.6 522.9 405.2 508.8 402.9 501 402.1 493.7 401.5 479.4 401 464.6 401.4 449.3 402.6 433.5 404.9 418.8 407.9 403.6 411.8 388 416.7 370.7 423.1 411.5 433.8 422.7 437.1 431.9 440.3 442.1 444.4 452.3 449.1 461.5 454.1z" fill="#2798ea" stroke="#2798ea" stroke-width="0.8"/>
<path d="M470.8 459.9 482.9 455.6 495.1 452 508.4 448.7 521.8 446.2 533.9 444.5 548.5 442.8 600.5 438.5 588.1 430.8 575.8 424 563.2 418.2 550.7 413.4 543.9 411.2 536.7 409.1 529.1 407.2 522.6 405.8 508.5 403.6 494.6 402.2 487.1 401.8 479.1 401.6 465 401.9 450.6 403.1 442.6 404.1 434.8 405.3 420 408.3 404.8 412.2 389.2 417.1 371.9 423.4 411.5 433.8 422.7 437.1 431.9 440.3 442.1 444.4 452.3 449.1 461.5 454.1z" fill="#259be8" stroke="#259be8" stroke-width="0.8"/>
<path d="M470.8 459.9 482.9 455.6 495.1 452 508.4 448.7 521.8 446.2 533.9 444.5 548.5 442.8 599 438.7 586.6 430.9 574.2 424.1 567.5 420.9 561.6 418.3 549 413.6 542.2 411.4 534.9 409.3 521.6 406.3 508.3 404.2 500.5 403.3 493 402.7 478.8 402.2 464 402.6 448.7 403.9 434.6 406 419.8 409 404.7 412.9 389.1 417.8 373.1 423.7 411.5 433.8 422.7 437.1 431.9 440.3 442.1 444.4 452.3 449.1 461.5 454.1z" fill="#249ee6" stroke="#249ee6" stroke-width="0.8"/>
<path d="M470.8 459.9 482.9 455.6 495.1 452 507.2 449 520.6 446.4 532.7 444.6 547.3 443 597.4 438.8 585 431.1 573.4 424.7 561.2 419 548.6 414.2 536.1 410.4 528.5 408.5 522.1 407.1 508 404.8 494.1 403.4 480.4 402.8 465.5 403.1 450.1 404.4 435.8 406.4 421.1 409.3 405.9 413.2 390.3 418.2 374.3 424 412.5 434 423.6 437.4 432.8 440.6 443 444.8 452.3 449.1 461.5 454.1z" fill="#22a1e4" stroke="#22a1e4" stroke-width="0.8"/>
<path d="M470.8 459.9 482.9 455.6 495.1 452 507.2 449 520.6 446.4 532.7 444.6 547.3 443 595.9 439 583.5 431.2 577.4 427.8 571 424.4 559.6 419.2 546.9 414.4 534.3 410.6 526.7 408.7 520.2 407.4 505.9 405.1 492.3 403.8 478.1 403.4 463.4 403.8 448.2 405.2 434.1 407.3 419.7 410.3 405.7 414 391.5 418.5 375.4 424.4 412.5 434 423.6 437.4 432.8 440.6 443 444.8 452.3 449.1 461.5 454.1z" fill="#20a4e3" stroke="#20a4e3" stroke-width="0.8"/>
<path d="M470.8 459.9 482.9 455.6 495.1 452 507.2 449 520.6 446.4 532.7 444.6 547.3 443 594.4 439.1 582 431.3 570.6 425.1 559.2 419.9 546.6 415.1 534 411.2 520.7 408.1 507.6 405.9 493.7 404.5 479.7 404 464.8 404.3 449.5 405.6 435.4 407.7 420.7 410.7 406.9 414.3 392.6 418.8 376.6 424.7 412.5 434 423.6 437.4 432.8 440.6 443 444.8 452.3 449.1 461.5 454.1z" fill="#1ea7e1" stroke="#1ea7e1" stroke-width="0.8"/>
<path d="M470.8 459.9 482.9 455.6 495.1 452 507.2 449 520.6 446.4 532.7 444.6 547.3 443 592.9 439.2 580.4 431.5 569 425.3 557.6 420 551.4 417.6 544.9 415.2 532.3 411.4 519.7 408.6 512.8 407.3 505.5 406.3 491.6 405 477.5 404.5 463.9 404.9 449.2 406.2 435.1 408.3 420.5 411.4 406.8 415 392.5 419.5 377.7 425 412.5 434 423.6 437.4 432.8 440.6 443 444.8 452.3 449.1 461.5 454.1z" fill="#1baade" stroke="#1baade" stroke-width="0.8"/>
<path d="M470.8 459.9 481.7 456 493.9 452.3 506 449.3 519.4 446.7 531.5 444.8 546.1 443.1 560.6 441.8 591.3 439.3 579.9 432.2 568.6 425.9 557.2 420.7 551.1 418.2 544.6 415.9 532 412.1 519.5 409.2 512.6 407.9 505.3 406.9 491.2 405.5 477.3 405.1 464.2 405.5 450.6 406.7 436.4 408.7 423.1 411.4 408.4 415.2 394.3 419.7 378.9 425.3 413.4 434.3 424.5 437.7 433.8 441 444 445.2 453.2 449.6 462.5 454.7z" fill="#19addc" stroke="#19addc" stroke-width="0.8"/>
<path d="M470.8 459.9 481.7 456 493.9 452.3 506 449.3 519.4 446.7 531.5 444.8 546.1 443.1 560.6 441.8 589.8 439.5 578.4 432.3 567 426.1 555.6 420.8 544.3 416.5 531.7 412.7 519.2 409.8 506.6 407.6 492.9 406.2 479.6 405.7 465.6 406 451.9 407.1 437.6 409.1 423 412 409.1 415.6 394.8 420.1 380 425.6 413.4 434.3 424.5 437.7 433.8 441 444 445.2 453.2 449.6 462.5 454.7z" fill="#14b0d8" stroke="#14b0d8" stroke-width="0.8"/>
<path d="M470.8 459.9 481.7 456 493.9 452.3 506 449.3 519.4 446.7 531.5 444.8 546.1 443.1 560.6 441.8 588.3 439.6 576.9 432.4 565.5 426.2 554 421 542.6 416.7 530 412.9 517.4 410 503.8 407.9 490.9 406.7 477 406.3 463.5 406.7 450.2 407.9 437.4 409.7 424.1 412.4 410.3 415.9 396 420.4 381.2 425.9 413.4 434.3 424.5 437.7 433.8 441 444 445.2 453.2 449.6 462.5 454.7z" fill="#0fb2d5" stroke="#0fb2d5" stroke-width="0.8"/>
<path d="M470.8 459.9 481.7 456 493.9 452.3 506 449.3 519.4 446.7 531.5 444.8 546.1 443.1 560.6 441.8 586.9 439.7 575.4 432.5 565 426.9 553.7 421.6 542.3 417.3 529.7 413.5 517.1 410.6 504.8 408.6 492.2 407.3 479.3 406.8 464.9 407.2 451.3 408.3 437.9 410.2 425.3 412.7 411.5 416.3 397.1 420.7 382.3 426.2 413.4 434.3 424.5 437.7 433.8 441 444 445.2 453.2 449.6 462.5 454.7z" fill="#09b4d1" stroke="#09b4d1" stroke-width="0.8"/>
<path d="M470.8 459.9 481.7 456 493.9 452.3 506 449.3 518.2 446.9 530.3 445 544.9 443.2 559.4 441.9 585.4 439.8 573.9 432.7 563.5 427 552.1 421.8 541.4 417.7 529.5 414.1 516.9 411.2 504.6 409.2 491.8 407.9 477.5 407.4 464.6 407.7 451 408.9 438.3 410.7 425.1 413.4 411.3 417 398.3 421 383.4 426.5 403.2 431.5 414.3 434.6 425.4 438 434.7 441.3 444 445.2 453.2 449.6 462.5 454.7z" fill="#04b6cd" stroke="#04b6cd" stroke-width="0.8"/>
<path d="M470.8 459.9 481.7 456 493.9 452.3 506 449.3 518.2 446.9 530.3 445 544.9 443.2 559.4 441.9 583.9 439.9 572.4 432.8 562 427.2 551.7 422.4 540.4 418.1 529.2 414.7 516.7 411.8 504.5 409.8 491.4 408.4 477.1 408 464.2 408.3 450.7 409.5 438.1 411.4 424.8 414 412.4 417.3 399.4 421.3 384.6 426.8 403.2 431.5 414.3 434.6 425.4 438 434.7 441.3 444 445.2 453.2 449.6 462.5 454.7z" fill="#01b8c9" stroke="#01b8c9" stroke-width="0.8"/>
<path d="M470.8 459.9 481.7 456 493.9 452.3 506 449.3 518.2 446.9 530.3 445 543.6 443.3 558.2 442 582.4 440.1 570.9 432.9 560.5 427.3 550.1 422.6 538.8 418.3 527.5 414.9 514.9 412.1 502.4 410.1 490.4 409 478.7 408.5 465.6 408.8 452 409.9 439.3 411.7 426.1 414.4 413.6 417.6 400.5 421.6 385.7 427 404.1 431.8 415.2 434.8 425.4 438 434.7 441.3 444 445.2 453.2 449.6 462.5 454.7z" fill="#02bac4" stroke="#02bac4" stroke-width="0.8"/>
<path d="M470.8 459.9 481.7 456 493.9 452.3 504.8 449.5 516.9 447.1 529.1 445.1 542.4 443.5 557 442.1 580.9 440.2 570.4 433.6 560.1 428 549.8 423.2 538.5 418.9 527.2 415.5 514.7 412.6 502.3 410.7 490.5 409.5 478.3 409.1 465.3 409.4 451.6 410.5 439 412.3 425.8 415 413.4 418.3 400.4 422.4 386.8 427.3 405.1 432 416.2 435.1 426.4 438.3 435.6 441.7 444.9 445.6 453.2 449.6 462.5 454.7z" fill="#07bcc0" stroke="#07bcc0" stroke-width="0.8"/>
<path d="M470.8 459.9 481.7 456 493.9 452.3 504.8 449.5 516.9 447.1 529.1 445.1 542.4 443.5 557 442.1 579.5 440.3 569 433.7 558.6 428.1 548.3 423.4 536.8 419.1 525.5 415.7 514.1 413.1 502.1 411.2 490.1 410.1 477.9 409.6 465.4 409.9 453 410.9 440.3 412.7 427 415.4 414.5 418.6 401.5 422.6 387.9 427.6 405.1 432 416.2 435.1 426.4 438.3 435.6 441.7 444.9 445.6 453.2 449.6 462.5 454.7z" fill="#0dbdbb" stroke="#0dbdbb" stroke-width="0.8"/>
<path d="M470.8 459.9 481.7 456 493.9 452.3 504.8 449.5 516.9 447.1 529.1 445.1 542.4 443.5 557 442.1 578 440.4 567.5 433.8 557.1 428.2 546.7 423.5 536.5 419.7 525.3 416.3 513.6 413.7 502 411.8 489.7 410.6 477.5 410.2 465.3 410.5 452.6 411.5 440 413.3 428.2 415.7 415.7 418.9 402.7 422.9 389.1 427.9 405.1 432 416.2 435.1 426.4 438.3 435.6 441.7 444.9 445.6 453.2 449.6 462.5 454.7z" fill="#16bfb7" stroke="#16bfb7" stroke-width="0.8"/>
<path d="M470.8 459.9 481.7 456 492.7 452.6 503.6 449.8 515.7 447.3 527.9 445.3 541.2 443.6 555.8 442.2 576.5 440.5 566 434 556.6 428.9 546.3 424.2 535.8 420.2 525 416.9 513.2 414.2 501.8 412.4 489.8 411.2 477.1 410.7 465.1 411 452.3 412.1 440.2 413.9 427.9 416.3 415.5 419.5 403.8 423.2 390.2 428.2 406 432.3 417.1 435.4 427.3 438.6 436.5 442.1 445.8 446 454.1 450.1 462.5 454.7z" fill="#1ec0b2" stroke="#1ec0b2" stroke-width="0.8"/>
<path d="M470.8 459.9 481.7 456 492.7 452.6 503.6 449.8 515.7 447.3 527.9 445.3 541.2 443.6 555.8 442.2 575.1 440.6 564.5 434.1 555.1 429 544.8 424.3 534.6 420.5 523.3 417.2 512.3 414.7 500.1 412.7 488.9 411.7 476.7 411.3 465 411.6 453.6 412.5 440.9 414.3 429.1 416.7 416.7 419.8 404.9 423.5 391.3 428.5 406 432.3 417.1 435.4 427.3 438.6 436.5 442.1 445.8 446 454.1 450.1 462.5 454.7z" fill="#25c2ad" stroke="#25c2ad" stroke-width="0.8"/>
<path d="M470.8 459.9 481.7 456 492.7 452.6 503.6 449.8 515.7 447.3 527.9 445.3 540 443.7 554.6 442.3 573.6 440.7 563 434.2 553.6 429.1 543.2 424.5 533 420.7 523.1 417.8 512.1 415.2 499.7 413.3 488.5 412.2 476.4 411.9 464.9 412.2 453.3 413.1 440.7 414.9 428.9 417.3 416.5 420.5 404.8 424.2 392.4 428.7 406.9 432.5 418 435.7 427.3 438.6 436.5 442.1 445.8 446 454.1 450.1 462.5 454.7z" fill="#2ac3a9" stroke="#2ac3a9" stroke-width="0.8"/>
<path d="M470.8 459.9 481.7 456 492.7 452.6 503.6 449.8 514.5 447.5 526.7 445.5 538.8 443.9 553.4 442.4 572.1 440.9 562.6 434.9 553.2 429.8 542.9 425.1 532.7 421.3 522.8 418.4 511.9 415.8 501.3 414.1 489.5 412.9 478.1 412.4 466.7 412.6 454.6 413.6 441.9 415.3 430.1 417.6 417.6 420.8 405.9 424.5 393.5 429 407.8 432.8 419 435.9 428.2 439 437.5 442.4 445.8 446 454.1 450.1 462.5 454.7z" fill="#2ec5a4" stroke="#2ec5a4" stroke-width="0.8"/>
<path d="M470.8 459.9 481.7 456 492.7 452.6 503.6 449.8 514.5 447.5 526.7 445.5 538.8 443.9 552.1 442.5 570.6 441 561.1 435 551.7 429.9 541.3 425.3 531.1 421.5 521.1 418.6 510 416.1 498.9 414.4 487.7 413.3 475.6 413 464.6 413.3 452.7 414.3 441.6 415.9 429.8 418.3 418.8 421.1 407 424.8 394.7 429.3 408.8 433 419 435.9 428.2 439 437.5 442.4 445.8 446 454.1 450.1 462.5 454.7z" fill="#32c69e" stroke="#32c69e" stroke-width="0.8"/>
<path d="M470.8 459.9 481.7 456 492.7 452.6 503.6 449.8 514.5 447.5 526.7 445.5 538.8 443.9 552.1 442.5 569.2 441.1 559.6 435.1 550.2 430.1 541 425.9 530.8 422.1 520.9 419.2 509.8 416.7 498.5 414.9 487.3 413.9 475.4 413.5 464.2 413.9 452.3 414.9 441.3 416.6 429.6 419 418.7 421.8 408.2 425.1 395.8 429.6 408.8 433 419 435.9 428.2 439 437.5 442.4 445.8 446 454.1 450.1 462.5 454.7z" fill="#36c799" stroke="#36c799" stroke-width="0.8"/>
<path d="M470.8 459.9 480.5 456.4 491.4 453 502.4 450.1 513.3 447.8 525.4 445.7 537.6 444 550.9 442.6 567.7 441.2 558.1 435.2 549.8 430.7 540.6 426.6 530.2 422.6 519.7 419.5 509.6 417.3 498.1 415.5 486.9 414.4 475.2 414.1 464.3 414.4 453.6 415.4 442.6 416.9 430.8 419.3 419.7 422.1 409.3 425.4 396.9 429.9 409.7 433.3 419.9 436.2 429.1 439.3 438.4 442.8 446.7 446.4 455.1 450.6 463.4 455.2z" fill="#3ac993" stroke="#3ac993" stroke-width="0.8"/>
<path d="M470.8 459.9 480.5 456.4 491.4 453 502.4 450.1 513.3 447.8 524.2 445.9 536.4 444.2 549.7 442.7 566.2 441.3 556.6 435.4 548.3 430.9 539 426.7 530.2 423.4 520.4 420.4 510.4 418.1 500.1 416.3 488.6 415.1 477.6 414.7 467 414.8 455 415.8 443.8 417.3 432.2 419.6 420.9 422.4 410.4 425.7 398 430.2 410.6 433.5 420.8 436.5 430.1 439.6 438.4 442.8 446.7 446.4 455.1 450.6 463.4 455.2z" fill="#40ca8d" stroke="#40ca8d" stroke-width="0.8"/>
<path d="M470.8 459.9 480.5 456.4 491.4 453 501.2 450.4 512.1 448 523 446 535.2 444.3 548.5 442.8 564.7 441.4 555.1 435.5 546.7 431 537.5 426.9 528.5 423.5 518.6 420.6 507.5 418.1 497.3 416.5 486.6 415.6 476 415.2 464.9 415.5 454.3 416.4 443.6 417.9 433.2 420 422.1 422.8 411.6 426 399.2 430.5 411.5 433.8 421.7 436.8 431 440 439.3 443.2 447.7 446.9 455.1 450.6 463.4 455.2z" fill="#47cb87" stroke="#47cb87" stroke-width="0.8"/>
<path d="M470.8 459.9 480.5 456.4 491.4 453 501.2 450.4 512.1 448 523 446 535.2 444.3 548.5 442.8 563.2 441.5 553.6 435.6 545.2 431.1 535.9 427 526.9 423.7 516.9 420.8 507.3 418.7 496.9 417.1 486.4 416.1 475.6 415.8 464.6 416.1 454 417 443.3 418.6 432.9 420.6 421.9 423.4 411.4 426.7 400.3 430.8 411.5 433.8 421.7 436.8 431 440 439.3 443.2 447.7 446.9 455.1 450.6 463.4 455.2z" fill="#4fcc80" stroke="#4fcc80" stroke-width="0.8"/>
<path d="M470.8 459.9 480.5 456.4 491.4 453 501.2 450.4 512.1 448 523 446 533.9 444.5 546.1 443.1 561.7 441.7 553.1 436.3 544.8 431.8 535.5 427.7 526.6 424.4 516.6 421.4 507.1 419.3 496.5 417.7 487.5 416.8 477.1 416.4 466 416.6 455.7 417.4 444.5 418.9 434.2 421 423 423.8 412.6 427 401.5 431.1 413.4 434.3 422.7 437.1 431 440 439.3 443.2 447.7 446.9 455.1 450.6 463.4 455.2z" fill="#57cc7a" stroke="#57cc7a" stroke-width="0.8"/>
<path d="M470.8 459.9 480.5 456.4 490.2 453.3 499.9 450.7 510.9 448.2 521.8 446.2 532.7 444.6 544.9 443.2 560.2 441.8 551.6 436.4 543.2 432 533.9 427.8 525.1 424.6 516.3 422.1 506.2 419.8 496.2 418.2 486.1 417.3 476.9 417 465.7 417.2 455.4 418 444.3 419.6 433.9 421.6 424.2 424.1 413.7 427.3 402.6 431.4 414.3 434.6 423.6 437.4 431.9 440.3 440.2 443.6 448.6 447.3 456 451 463.4 455.2z" fill="#60cd72" stroke="#60cd72" stroke-width="0.8"/>
<path d="M470.8 459.9 480.5 456.4 490.2 453.3 499.9 450.7 510.9 448.2 521.8 446.2 532.7 444.6 544.9 443.2 558.7 441.9 550.1 436.6 541.7 432.1 533.5 428.5 524.9 425.3 516.1 422.7 506.6 420.5 496 418.8 486.7 417.9 476.5 417.5 466.2 417.8 455.1 418.6 445.6 420 435.1 422 425.4 424.4 414.9 427.6 403.7 431.7 414.3 434.6 423.6 437.4 431.9 440.3 440.2 443.6 448.6 447.3 456 451 463.4 455.2z" fill="#69cd6b" stroke="#69cd6b" stroke-width="0.8"/>
<path d="M470.8 459.9 480.5 456.4 490.2 453.3 499.9 450.7 509.7 448.5 520.6 446.4 531.5 444.8 543.6 443.3 557.2 442 549.6 437.3 541.2 432.8 533.2 429.1 524.2 425.8 514.3 422.9 505.5 421 495.8 419.4 485.7 418.5 476.2 418.1 465.9 418.3 456.5 419.1 445.3 420.6 434.9 422.6 425.2 425.1 414.8 428.4 404.9 432 415.2 434.8 424.5 437.7 432.8 440.6 441.2 444 448.6 447.3 456 451 463.4 455.2z" fill="#72cd64" stroke="#72cd64" stroke-width="0.8"/>
<path d="M470.8 459.9 480.5 456.4 490.2 453.3 499.9 450.7 509.7 448.5 519.4 446.7 530.3 445 542.4 443.5 555.7 442.2 548.1 437.4 540.3 433.2 532.8 429.8 523.9 426.5 514 423.5 505.2 421.6 495.5 420 486 419.1 476.3 418.7 466.5 418.9 456.2 419.7 446.6 421 436.2 423 426.4 425.4 416 428.7 406.1 432.3 416.2 435.1 425.4 438 433.8 441 441.2 444 448.6 447.3 456 451 463.4 455.2z" fill="#7ccc5c" stroke="#7ccc5c" stroke-width="0.8"/>
<path d="M470.8 459.9 479.3 456.8 489 453.7 498.7 451 508.4 448.7 518.2 446.9 529.1 445.1 541.2 443.6 554.2 442.3 546.5 437.6 538.1 433.1 529.9 429.5 522.2 426.7 513.7 424.2 504.2 422 495.3 420.6 485.7 419.7 476.1 419.3 466.2 419.5 455.9 420.3 446.4 421.7 437.4 423.4 427.6 425.8 417.1 429 407.2 432.6 417.1 435.4 426.4 438.3 434.7 441.3 442.1 444.4 449.5 447.7 456.9 451.5 464.3 455.8z" fill="#85cb55" stroke="#85cb55" stroke-width="0.8"/>
<path d="M470.8 459.9 479.3 456.8 489 453.7 498.7 451 508.4 448.7 518.2 446.9 529.1 445.1 540 443.7 552.6 442.5 545 437.7 537.6 433.8 529.5 430.2 521.8 427.3 513.3 424.8 503.9 422.7 495 421.2 485.4 420.3 475.9 419.9 465.9 420.1 455.6 421 446.1 422.3 437.2 424 427.5 426.5 418.3 429.3 408.4 432.9 418 435.7 426.4 438.3 434.7 441.3 442.1 444.4 449.5 447.7 456.9 451.5 464.3 455.8z" fill="#8fcb4e" stroke="#8fcb4e" stroke-width="0.8"/>
<path d="M470.8 459.9 479.3 456.8 489 453.7 497.5 451.3 507.2 449 516.9 447.1 527.9 445.3 538.8 443.9 551.1 442.6 543.4 437.8 536 433.9 527.8 430.3 520.3 427.6 511.5 425.1 503.6 423.3 494.8 421.9 485.1 420.9 475.6 420.5 465.6 420.8 457 421.4 447.4 422.7 438.5 424.4 428.7 426.8 419.5 429.6 409.6 433.2 419 435.9 427.3 438.6 435.6 441.7 443 444.8 450.4 448.2 456.9 451.5 464.3 455.8z" fill="#98c947" stroke="#98c947" stroke-width="0.8"/>
<path d="M470.8 459.9 479.3 456.8 489 453.7 497.5 451.3 507.2 449 516.9 447.1 526.7 445.5 537.6 444 549.5 442.7 542.8 438.6 535.5 434.6 527.4 431 519.7 428.2 511.2 425.7 503.3 423.9 493.8 422.4 484.5 421.5 474.6 421.2 465.4 421.4 456.8 422.1 447.2 423.4 438.3 425.1 428.6 427.6 419.4 430.4 410.8 433.6 419.9 436.2 428.2 439 435.6 441.7 443 444.8 450.4 448.2 456.9 451.5 464.3 455.8z" fill="#a2c840" stroke="#a2c840" stroke-width="0.8"/>
<path d="M470.8 459.9 479.3 456.8 487.8 454 496.3 451.6 506 449.3 515.7 447.3 525.4 445.7 536.4 444.2 547.9 442.9 541.2 438.7 533.9 434.8 525.7 431.2 517.9 428.4 509.7 426.1 501.3 424.2 493.5 423 484.5 422.1 476.3 421.8 466.9 422 457.8 422.6 448.6 423.8 439.6 425.5 429.8 427.9 420.6 430.8 412 433.9 420.8 436.5 429.1 439.3 436.5 442.1 444 445.2 451.4 448.7 457.8 452.1 464.3 455.8z" fill="#abc739" stroke="#abc739" stroke-width="0.8"/>
<path d="M470.8 459.9 479.3 456.8 487.8 454 496.3 451.6 506 449.3 515.7 447.3 525.4 445.7 535.2 444.3 546.4 443.1 539.6 438.9 532.3 435 525.3 431.9 517.5 429.1 509.6 426.8 500.9 424.9 491.9 423.5 483.9 422.8 474.7 422.4 466.6 422.6 457.3 423.3 448.4 424.5 439.4 426.2 431.1 428.3 421.9 431.1 413.2 434.2 421.7 436.8 429.1 439.3 436.5 442.1 444 445.2 451.4 448.7 457.8 452.1 464.3 455.8z" fill="#b3c534" stroke="#b3c534" stroke-width="0.8"/>
<path d="M470.8 459.9 479.3 456.8 487.8 454 496.3 451.6 504.8 449.5 513.3 447.8 523 446 533.9 444.5 544.7 443.2 538 439.1 531.1 435.4 523.5 432.1 516.4 429.5 508.5 427.3 500.6 425.5 493 424.3 484 423.4 475.8 423.1 466.4 423.3 457.8 423.9 449 425.1 440.7 426.6 431.7 428.8 423.1 431.5 414.4 434.6 422.7 437.1 431 440 438.4 442.8 444.9 445.6 451.4 448.7 457.8 452.1 464.3 455.8z" fill="#bcc42f" stroke="#bcc42f" stroke-width="0.8"/>
<path d="M470.8 459.9 479.3 456.8 487.8 454 496.3 451.6 504.8 449.5 513.3 447.8 523 446 532.7 444.6 543.1 443.4 536.4 439.2 530 435.9 523 432.8 515.3 430 508.1 427.9 500.2 426.2 491.2 424.8 483.2 424 473.9 423.7 466.2 423.9 457.6 424.6 449.6 425.7 440.6 427.4 432.2 429.4 424.4 431.8 415.7 435 423.6 437.4 431 440 438.4 442.8 444.9 445.6 451.4 448.7 457.8 452.1 464.3 455.8z" fill="#c4c22a" stroke="#c4c22a" stroke-width="0.8"/>
<path d="M470.8 459.9 478.1 457.2 486.6 454.4 495.1 452 503.6 449.8 512.1 448 521.8 446.2 531.5 444.8 541.5 443.6 534.7 439.4 528.3 436.1 521.3 433 514.8 430.7 507.7 428.6 499.8 426.8 490.8 425.5 482.8 424.7 473.5 424.4 466 424.6 457.4 425.3 449.4 426.4 442 427.8 433.5 429.8 425.6 432.2 416.9 435.3 424.5 437.7 431.9 440.3 439.3 443.2 445.8 446 452.3 449.1 458.8 452.6 465.2 456.3z" fill="#ccc028" stroke="#ccc028" stroke-width="0.8"/>
<path d="M470.8 459.9 478.1 457.2 486.6 454.4 495.1 452 503.6 449.8 512.1 448 520.6 446.4 530.3 445 539.8 443.8 534.1 440.2 527.7 436.8 520.8 433.7 514.3 431.4 507.2 429.3 499.3 427.5 492.3 426.4 483.4 425.5 475.5 425.1 467.6 425.2 458.9 425.8 450.8 426.9 443.3 428.2 434.8 430.2 426.9 432.6 418.2 435.7 425.4 438 432.8 440.6 439.3 443.2 445.8 446 452.3 449.1 458.8 452.6 465.2 456.3z" fill="#d4bf28" stroke="#d4bf28" stroke-width="0.8"/>
<path d="M470.8 459.9 478.1 457.2 486.6 454.4 493.9 452.3 502.4 450.1 510.9 448.2 519.4 446.7 527.9 445.3 538.1 444 532.4 440.4 526 437.1 519 434 512.4 431.7 505.2 429.6 497.5 427.9 490 426.8 481.9 426.1 473 425.8 465.7 426 457.8 426.7 450.7 427.6 443.2 429 434.8 431 426.9 433.4 419.5 436.1 433.8 441 440.2 443.6 446.7 446.4 453.2 449.6 458.8 452.6 465.2 456.3z" fill="#dbbd29" stroke="#dbbd29" stroke-width="0.8"/>
<path d="M470.8 459.9 478.1 457.2 486.6 454.4 493.9 452.3 502.4 450.1 518.2 446.9 526.7 445.5 536.4 444.2 530.6 440.6 524.2 437.3 517.7 434.5 510.5 432 503.2 430 496.7 428.6 489.5 427.5 481.4 426.8 472.9 426.5 465.5 426.7 458.6 427.3 450.6 428.3 443.2 429.7 436.1 431.4 428.2 433.8 420.8 436.5 434.7 441.3 446.7 446.4 453.2 449.6 458.8 452.6 465.2 456.3z" fill="#e2bc2b" stroke="#e2bc2b" stroke-width="0.8"/>
<path d="M470.8 459.9 478.1 457.2 485.4 454.8 492.7 452.6 501.2 450.4 516.9 447.1 534.7 444.4 528.9 440.8 523.6 438.1 517.8 435.5 511.3 433.1 504.2 431 497.9 429.6 490.9 428.5 483 427.6 474.7 427.3 467.2 427.4 459.7 427.9 452.1 428.9 444.6 430.2 437.5 431.9 429.6 434.3 422.1 436.9 435.6 441.7 447.7 446.9 454.1 450.1 459.7 453.1z" fill="#e8bb2f" stroke="#e8bb2f" stroke-width="0.8"/>
<path d="M470.8 459.9 478.1 457.2 485.4 454.8 499.9 450.7 507.2 449 515.7 447.3 532.9 444.6 527.1 441.1 521.8 438.3 515.9 435.7 509.4 433.4 502.1 431.4 495.6 430 489.7 429.1 482.4 428.4 474.6 428 467.1 428.1 460.1 428.6 452.1 429.6 444.6 431 437.5 432.7 430.9 434.7 423.5 437.4 436.5 442.1 448.6 447.3 459.7 453.1z" fill="#eeba34" stroke="#eeba34" stroke-width="0.8"/>
<path d="M470.8 459.9 478.1 457.2 485.4 454.8 499.9 450.7 514.5 447.5 531.1 444.9 526.3 441.9 521 439.1 515.2 436.5 508.7 434.2 501.5 432.1 495 430.8 487.8 429.7 481.8 429.1 474.6 428.8 467.3 428.9 460.1 429.4 453.6 430.2 446 431.5 439 433.2 432.3 435.2 424.8 437.8 437.5 442.4 448.6 447.3 459.7 453.1z" fill="#f4ba39" stroke="#f4ba39" stroke-width="0.8"/>
<path d="M470.8 459.9 484.2 455.2 498.7 451 513.3 447.8 529.2 445.1 524.4 442.1 519.1 439.4 513.2 436.8 507.4 434.8 500.9 432.9 494.4 431.5 487.4 430.5 481.1 429.9 474.3 429.6 467 429.7 460.1 430.2 453.6 431 447.5 432.1 440.4 433.7 433.7 435.6 426.2 438.3 438.4 442.8 449.5 447.7 460.6 453.6z" fill="#f9bb3d" stroke="#f9bb3d" stroke-width="0.8"/>
<path d="M470.8 459.9 484.2 455.2 497.5 451.3 512.1 448 527.4 445.4 522.5 442.4 517.2 439.7 511.2 437.1 506 435.3 500.2 433.7 493.7 432.3 487.5 431.3 480.7 430.7 473.5 430.4 467 430.5 460.1 431 453.6 431.8 447.6 432.9 440.5 434.6 433.9 436.6 427.7 438.8 439.3 443.2 450.4 448.2 460.6 453.6z" fill="#fdbd3d" stroke="#fdbd3d" stroke-width="0.8"/>
<path d="M470.8 459.9 484.2 455.2 497.5 451.3 510.9 448.2 525.4 445.7 520.6 442.7 515.2 440 510.4 437.9 505 436 499.4 434.5 492.7 433 485.8 432 479.6 431.5 472.7 431.2 467.1 431.4 460.2 431.9 453.7 432.7 447.7 433.8 440.7 435.5 435.4 437.1 429.1 439.3 440.2 443.6 450.4 448.2 460.6 453.6z" fill="#fec03a" stroke="#fec03a" stroke-width="0.8"/>
<path d="M470.8 459.9 482.9 455.6 496.3 451.6 509.7 448.5 523.5 446 518.6 443 514.3 440.8 508.3 438.3 503 436.5 497.1 434.9 490.5 433.6 485 432.8 478.8 432.3 472.8 432.1 466.3 432.3 460.2 432.7 453.8 433.6 447.8 434.7 442.2 436.1 436.9 437.6 430.6 439.8 441.2 444 451.4 448.7 461.5 454.1z" fill="#fec437" stroke="#fec437" stroke-width="0.8"/>
<path d="M470.8 459.9 482.9 455.6 495.1 452 508.4 448.7 521.4 446.3 516.5 443.4 512.4 441.3 507.4 439.2 503 437.6 497.8 436.1 491.4 434.7 485.8 433.9 480 433.3 473.2 433 468 433.1 462 433.5 455.5 434.3 449.5 435.3 443.8 436.6 438.5 438.2 432.2 440.4 442.1 444.4 452.3 449.1 461.5 454.1z" fill="#fec835" stroke="#fec835" stroke-width="0.8"/>
<path d="M470.8 459.9 481.7 456 493.9 452.3 506 449.3 519.3 446.7 515.5 444.3 511.2 442.1 506.5 440 501.2 438.2 495.3 436.6 490.4 435.6 485 434.8 479 434.2 473.2 434 467.5 434.1 462.3 434.4 455.8 435.2 449.7 436.3 444.1 437.6 438.8 439.2 433.8 441 444 445.2 453.2 449.6 462.5 454.7z" fill="#fdcc32" stroke="#fdcc32" stroke-width="0.8"/>
<path d="M470.8 459.9 481.7 456 493.9 452.3 504.8 449.5 517.1 447 513.3 444.7 509 442.5 504.1 440.5 500.2 439.1 494.8 437.6 489.4 436.5 484.2 435.7 479.6 435.3 473.5 435 468.1 435.1 462.5 435.4 457.6 436 451.5 437 445.8 438.3 440.5 439.9 435.5 441.6 444.9 445.6 453.2 449.6 462.5 454.7z" fill="#fcd030" stroke="#fcd030" stroke-width="0.8"/>
<path d="M470.8 459.9 481.7 456 492.7 452.6 503.6 449.8 514.9 447.5 511 445.1 507.8 443.5 503.4 441.6 499.1 440 494.7 438.8 489.8 437.7 484.7 436.9 478.8 436.3 473.8 436.1 468.1 436.1 462.9 436.4 457.9 437 453.3 437.7 447.5 439 442.2 440.5 437.2 442.3 445.8 446 454.1 450.1 462.5 454.7z" fill="#fad42e" stroke="#fad42e" stroke-width="0.8"/>
<path d="M470.8 459.9 480.5 456.4 491.4 453 502.4 450.1 512.5 447.9 508.6 445.6 505.4 443.9 501.1 442.2 496.5 440.6 492 439.4 487.1 438.4 483 437.8 477.4 437.3 472.3 437.2 467.6 437.2 463.3 437.5 457.6 438.2 452.3 439.1 448 440.1 444 441.3 439 443 446.7 446.4 455.1 450.6 463.4 455.2z" fill="#f8d92c" stroke="#f8d92c" stroke-width="0.8"/>
<path d="M470.8 459.9 480.5 456.4 490.2 453.3 499.9 450.7 510.1 448.4 506.1 446.1 502.8 444.5 499.2 443 495.3 441.7 487.4 439.8 482 438.9 478 438.6 472.9 438.3 468.4 438.4 463.8 438.7 458.8 439.2 454.3 440 450 441 445.9 442.1 440.9 443.8 448.6 447.3 456 451 463.4 455.2z" fill="#f7dd2a" stroke="#f7dd2a" stroke-width="0.8"/>
<path d="M470.8 459.9 479.3 456.8 489 453.7 497.5 451.3 507.4 449 504.5 447.2 501.3 445.6 497.7 444 493.7 442.7 489.2 441.5 484.9 440.7 476.3 439.7 467.9 439.7 459.4 440.4 454.9 441.2 450.6 442.2 442.9 444.7 450.4 448.2 456.9 451.5 464.3 455.8z" fill="#f6e128" stroke="#f6e128" stroke-width="0.8"/>
<path d="M470.8 459.9 479.3 456.8 487.8 454 496.3 451.6 504.6 449.6 501.7 447.8 498.4 446.2 492 443.8 484.2 442 476.6 441.1 468.7 441 460.2 441.7 452.8 443.2 448.8 444.3 445 445.6 451.4 448.7 457.8 452.1 464.3 455.8z" fill="#f5e526" stroke="#f5e526" stroke-width="0.8"/>
<path d="M470.8 459.9 478.1 457.2 486.6 454.4 493.9 452.3 501.6 450.3 496.5 447.5 490.1 445.1 483.9 443.6 476.3 442.7 469.2 442.5 461.2 443.2 453.8 444.6 447.3 446.7 458.8 452.6 465.2 456.3z" fill="#f5e924" stroke="#f5e924" stroke-width="0.8"/>
<path d="M470.8 459.9 484.2 455.2 498.3 451.1 495.3 449.4 493.1 448.3 488.1 446.5 482.2 445.1 475.8 444.3 469.2 444.2 462.4 444.8 456.4 445.9 449.8 447.9 460.6 453.6z" fill="#f5ed21" stroke="#f5ed21" stroke-width="0.8"/>
<path d="M470.8 459.9 482.9 455.6 494.6 452.1 490.4 449.8 485.3 448 480.4 446.9 475 446.3 469 446.2 463.7 446.6 457.9 447.7 452.7 449.3 461.5 454.1z" fill="#f6f11e" stroke="#f6f11e" stroke-width="0.8"/>
<path d="M470.8 459.9 480.5 456.4 490.2 453.3 487.1 451.6 483.2 450.2 478.5 449.1 474.8 448.7 469.5 448.5 464.4 449 459.9 449.8 456 451.1 463.4 455.2z" fill="#f7f51b" stroke="#f7f51b" stroke-width="0.8"/>
<path d="M470.8 459.9 484.5 455.1 482.4 453.9 479.9 453 476.8 452.2 473.2 451.8 469.3 451.7 465.9 452.1 463 452.6 460.4 453.5z" fill="#f8f917" stroke="#f8f917" stroke-width="0.8"/>
</g>
<text x="352.0" y="389.3" text-anchor="end" font-size="9.5" font-family="DejaVu Sans, Liberation Sans, sans-serif" fill="#262626" >0.4</text>
<text x="352.0" y="405.3" text-anchor="end" font-size="9.5" font-family="DejaVu Sans, Liberation Sans, sans-serif" fill="#262626" >0.3</text>
<text x="352.0" y="421.0" text-anchor="end" font-size="9.5" font-family="DejaVu Sans, Liberation Sans, sans-serif" fill="#262626" >0.2</text>
<text x="348.3" y="444.2" text-anchor="middle" font-size="9.5" font-family="DejaVu Sans, Liberation Sans, sans-serif" fill="#262626" >1</text>
<text x="400.4" y="480.3" text-anchor="middle" font-size="9.5" font-family="DejaVu Sans, Liberation Sans, sans-serif" fill="#262626" >0.5</text>
<text x="460.6" y="516.6" text-anchor="middle" font-size="9.5" font-family="DejaVu Sans, Liberation Sans, sans-serif" fill="#262626" >0</text>
<text x="480.7" y="518.2" text-anchor="middle" font-size="9.5" font-family="DejaVu Sans, Liberation Sans, sans-serif" fill="#262626" >0</text>
<text x="557.8" y="490.8" text-anchor="middle" font-size="9.5" font-family="DejaVu Sans, Liberation Sans, sans-serif" fill="#262626" >0.5</text>
<text x="625.9" y="462.3" text-anchor="middle" font-size="9.5" font-family="DejaVu Sans, Liberation Sans, sans-serif" fill="#262626" >1</text>
<text x="401.2" y="513.8" font-family="Liberation Serif, serif" font-size="11.5" font-style="italic" fill="#444">x<tspan font-size="8" font-style="normal" dy="2" dx="0.3">2</tspan></text>
<text x="539.6" y="517.8" font-family="Liberation Serif, serif" font-size="11.5" font-style="italic" fill="#444">x<tspan font-size="8" font-style="normal" dy="2" dx="0.3">1</tspan></text>
<defs><linearGradient id="g1" x1="0" y1="0" x2="0" y2="1"><stop offset="0.0000" stop-color="#f9fb15"/><stop offset="0.0159" stop-color="#f7f51b"/><stop offset="0.0317" stop-color="#f6ef20"/><stop offset="0.0476" stop-color="#f5e924"/><stop offset="0.0635" stop-color="#f5e327"/><stop offset="0.0794" stop-color="#f7dc2a"/><stop offset="0.0952" stop-color="#fad62d"/><stop offset="0.1111" stop-color="#fccf30"/><stop offset="0.1270" stop-color="#fec934"/><stop offset="0.1429" stop-color="#fec338"/><stop offset="0.1587" stop-color="#febe3c"/><stop offset="0.1746" stop-color="#f8ba3d"/><stop offset="0.1905" stop-color="#f0ba36"/><stop offset="0.2063" stop-color="#e6bb2d"/><stop offset="0.2222" stop-color="#dcbd29"/><stop offset="0.2381" stop-color="#d1bf27"/><stop offset="0.2540" stop-color="#c5c22a"/><stop offset="0.2698" stop-color="#b9c431"/><stop offset="0.2857" stop-color="#abc739"/><stop offset="0.3016" stop-color="#9dc943"/><stop offset="0.3175" stop-color="#8fcb4e"/><stop offset="0.3333" stop-color="#81cc59"/><stop offset="0.3492" stop-color="#72cd64"/><stop offset="0.3651" stop-color="#64cd6f"/><stop offset="0.3810" stop-color="#57cc7a"/><stop offset="0.3968" stop-color="#4acb84"/><stop offset="0.4127" stop-color="#3fca8e"/><stop offset="0.4286" stop-color="#37c897"/><stop offset="0.4444" stop-color="#31c69f"/><stop offset="0.4603" stop-color="#2cc4a7"/><stop offset="0.4762" stop-color="#24c1ae"/><stop offset="0.4921" stop-color="#19bfb6"/><stop offset="0.5079" stop-color="#0bbdbd"/><stop offset="0.5238" stop-color="#02bac3"/><stop offset="0.5397" stop-color="#01b8ca"/><stop offset="0.5556" stop-color="#08b5d0"/><stop offset="0.5714" stop-color="#12b1d6"/><stop offset="0.5873" stop-color="#18addb"/><stop offset="0.6032" stop-color="#1ca9df"/><stop offset="0.6190" stop-color="#20a5e3"/><stop offset="0.6349" stop-color="#23a0e5"/><stop offset="0.6508" stop-color="#259be8"/><stop offset="0.6667" stop-color="#2797eb"/><stop offset="0.6825" stop-color="#2b91ef"/><stop offset="0.6984" stop-color="#2d8cf3"/><stop offset="0.7143" stop-color="#2e87f7"/><stop offset="0.7302" stop-color="#2f81fa"/><stop offset="0.7460" stop-color="#327cfc"/><stop offset="0.7619" stop-color="#3875fe"/><stop offset="0.7778" stop-color="#3e6fff"/><stop offset="0.7937" stop-color="#4269fe"/><stop offset="0.8095" stop-color="#4563fd"/><stop offset="0.8254" stop-color="#465efb"/><stop offset="0.8413" stop-color="#4758f8"/><stop offset="0.8571" stop-color="#4852f4"/><stop offset="0.8730" stop-color="#484df0"/><stop offset="0.8889" stop-color="#4747eb"/><stop offset="0.9048" stop-color="#4741e5"/><stop offset="0.9206" stop-color="#463cde"/><stop offset="0.9365" stop-color="#4537d5"/><stop offset="0.9524" stop-color="#4332cb"/><stop offset="0.9683" stop-color="#422ec0"/><stop offset="0.9841" stop-color="#402ab4"/><stop offset="1.0000" stop-color="#3e26a8"/></linearGradient></defs>
<rect x="645.6" y="20.3" width="17.2" height="210.3" fill="url(#g1)" stroke="#262626" stroke-width="0.75"/>
<path d="M660.60 33.60L662.80 33.60" stroke="#262626" stroke-width="0.75" fill="none"/>
<text x="667.1" y="36.8" text-anchor="start" font-size="9.5" font-family="DejaVu Sans, Liberation Sans, sans-serif" fill="#262626" >4.2</text>
<path d="M660.60 62.70L662.80 62.70" stroke="#262626" stroke-width="0.75" fill="none"/>
<text x="667.1" y="65.9" text-anchor="start" font-size="9.5" font-family="DejaVu Sans, Liberation Sans, sans-serif" fill="#262626" >4.1</text>
<path d="M660.60 91.10L662.80 91.10" stroke="#262626" stroke-width="0.75" fill="none"/>
<text x="667.1" y="94.3" text-anchor="start" font-size="9.5" font-family="DejaVu Sans, Liberation Sans, sans-serif" fill="#262626" >4</text>
<path d="M660.60 119.50L662.80 119.50" stroke="#262626" stroke-width="0.75" fill="none"/>
<text x="667.1" y="122.7" text-anchor="start" font-size="9.5" font-family="DejaVu Sans, Liberation Sans, sans-serif" fill="#262626" >3.9</text>
<path d="M660.60 146.60L662.80 146.60" stroke="#262626" stroke-width="0.75" fill="none"/>
<text x="667.1" y="149.8" text-anchor="start" font-size="9.5" font-family="DejaVu Sans, Liberation Sans, sans-serif" fill="#262626" >3.8</text>
<path d="M660.60 175.00L662.80 175.00" stroke="#262626" stroke-width="0.75" fill="none"/>
<text x="667.1" y="178.2" text-anchor="start" font-size="9.5" font-family="DejaVu Sans, Liberation Sans, sans-serif" fill="#262626" >3.7</text>
<path d="M660.60 202.40L662.80 202.40" stroke="#262626" stroke-width="0.75" fill="none"/>
<text x="667.1" y="205.6" text-anchor="start" font-size="9.5" font-family="DejaVu Sans, Liberation Sans, sans-serif" fill="#262626" >3.6</text>
<path d="M660.60 230.60L662.80 230.60" stroke="#262626" stroke-width="0.75" fill="none"/>
<text x="667.1" y="233.8" text-anchor="start" font-size="9.5" font-family="DejaVu Sans, Liberation Sans, sans-serif" fill="#262626" >3.5</text>
<defs><linearGradient id="g2" x1="0" y1="0" x2="0" y2="1"><stop offset="0.0000" stop-color="#f9fb15"/><stop offset="0.0159" stop-color="#f7f51b"/><stop offset="0.0317" stop-color="#f6ef20"/><stop offset="0.0476" stop-color="#f5e924"/><stop offset="0.0635" stop-color="#f5e327"/><stop offset="0.0794" stop-color="#f7dc2a"/><stop offset="0.0952" stop-color="#fad62d"/><stop offset="0.1111" stop-color="#fccf30"/><stop offset="0.1270" stop-color="#fec934"/><stop offset="0.1429" stop-color="#fec338"/><stop offset="0.1587" stop-color="#febe3c"/><stop offset="0.1746" stop-color="#f8ba3d"/><stop offset="0.1905" stop-color="#f0ba36"/><stop offset="0.2063" stop-color="#e6bb2d"/><stop offset="0.2222" stop-color="#dcbd29"/><stop offset="0.2381" stop-color="#d1bf27"/><stop offset="0.2540" stop-color="#c5c22a"/><stop offset="0.2698" stop-color="#b9c431"/><stop offset="0.2857" stop-color="#abc739"/><stop offset="0.3016" stop-color="#9dc943"/><stop offset="0.3175" stop-color="#8fcb4e"/><stop offset="0.3333" stop-color="#81cc59"/><stop offset="0.3492" stop-color="#72cd64"/><stop offset="0.3651" stop-color="#64cd6f"/><stop offset="0.3810" stop-color="#57cc7a"/><stop offset="0.3968" stop-color="#4acb84"/><stop offset="0.4127" stop-color="#3fca8e"/><stop offset="0.4286" stop-color="#37c897"/><stop offset="0.4444" stop-color="#31c69f"/><stop offset="0.4603" stop-color="#2cc4a7"/><stop offset="0.4762" stop-color="#24c1ae"/><stop offset="0.4921" stop-color="#19bfb6"/><stop offset="0.5079" stop-color="#0bbdbd"/><stop offset="0.5238" stop-color="#02bac3"/><stop offset="0.5397" stop-color="#01b8ca"/><stop offset="0.5556" stop-color="#08b5d0"/><stop offset="0.5714" stop-color="#12b1d6"/><stop offset="0.5873" stop-color="#18addb"/><stop offset="0.6032" stop-color="#1ca9df"/><stop offset="0.6190" stop-color="#20a5e3"/><stop offset="0.6349" stop-color="#23a0e5"/><stop offset="0.6508" stop-color="#259be8"/><stop offset="0.6667" stop-color="#2797eb"/><stop offset="0.6825" stop-color="#2b91ef"/><stop offset="0.6984" stop-color="#2d8cf3"/><stop offset="0.7143" stop-color="#2e87f7"/><stop offset="0.7302" stop-color="#2f81fa"/><stop offset="0.7460" stop-color="#327cfc"/><stop offset="0.7619" stop-color="#3875fe"/><stop offset="0.7778" stop-color="#3e6fff"/><stop offset="0.7937" stop-color="#4269fe"/><stop offset="0.8095" stop-color="#4563fd"/><stop offset="0.8254" stop-color="#465efb"/><stop offset="0.8413" stop-color="#4758f8"/><stop offset="0.8571" stop-color="#4852f4"/><stop offset="0.8730" stop-color="#484df0"/><stop offset="0.8889" stop-color="#4747eb"/><stop offset="0.9048" stop-color="#4741e5"/><stop offset="0.9206" stop-color="#463cde"/><stop offset="0.9365" stop-color="#4537d5"/><stop offset="0.9524" stop-color="#4332cb"/><stop offset="0.9683" stop-color="#422ec0"/><stop offset="0.9841" stop-color="#402ab4"/><stop offset="1.0000" stop-color="#3e26a8"/></linearGradient></defs>
<rect x="645.6" y="312.1" width="17.2" height="208.8" fill="url(#g2)" stroke="#262626" stroke-width="0.75"/>
<path d="M660.60 325.20L662.80 325.20" stroke="#262626" stroke-width="0.75" fill="none"/>
<text x="667.1" y="328.4" text-anchor="start" font-size="9.5" font-family="DejaVu Sans, Liberation Sans, sans-serif" fill="#262626" >0.4</text>
<path d="M660.60 364.10L662.80 364.10" stroke="#262626" stroke-width="0.75" fill="none"/>
<text x="667.1" y="367.3" text-anchor="start" font-size="9.5" font-family="DejaVu Sans, Liberation Sans, sans-serif" fill="#262626" >0.35</text>
<path d="M660.60 402.60L662.80 402.60" stroke="#262626" stroke-width="0.75" fill="none"/>
<text x="667.1" y="405.8" text-anchor="start" font-size="9.5" font-family="DejaVu Sans, Liberation Sans, sans-serif" fill="#262626" >0.3</text>
<path d="M660.60 441.50L662.80 441.50" stroke="#262626" stroke-width="0.75" fill="none"/>
<text x="667.1" y="444.7" text-anchor="start" font-size="9.5" font-family="DejaVu Sans, Liberation Sans, sans-serif" fill="#262626" >0.25</text>
<path d="M660.60 480.40L662.80 480.40" stroke="#262626" stroke-width="0.75" fill="none"/>
<text x="667.1" y="483.6" text-anchor="start" font-size="9.5" font-family="DejaVu Sans, Liberation Sans, sans-serif" fill="#262626" >0.2</text>
<path d="M660.60 519.10L662.80 519.10" stroke="#262626" stroke-width="0.75" fill="none"/>
<text x="667.1" y="522.3" text-anchor="start" font-size="9.5" font-family="DejaVu Sans, Liberation Sans, sans-serif" fill="#262626" >0.15</text>
<text x="31.2" y="14.0" font-family="Liberation Serif, serif" font-size="17.5" fill="#111"  textLength="39.9" lengthAdjust="spacingAndGlyphs">Exact</text>
<text x="78.9" y="14.0" font-family="Liberation Serif, serif" font-size="17.5" fill="#111"  textLength="83.4" lengthAdjust="spacingAndGlyphs">expectation</text>
<text x="168.7" y="14.0" font-family="Liberation Serif, serif" font-size="17.5" fill="#111" font-weight="bold" textLength="12.9" lengthAdjust="spacingAndGlyphs">E</text>
<text x="181.2" y="15.0" font-family="Liberation Serif, serif" font-size="20.5" fill="#111" >[</text>
<text x="184.9" y="14.0" font-family="Liberation Serif, serif" font-size="17.5" fill="#111" font-style="italic">&#8467;</text>
<path d="M187.9 0.4h5.9" stroke="#111" stroke-width="0.8"/>
<text x="193.3" y="15.0" font-family="Liberation Serif, serif" font-size="20.5" fill="#111" >(</text>
<text x="198.8" y="14.0" font-family="Liberation Serif, serif" font-size="18" fill="#111" font-style="italic">&#969;</text>
<text x="210.3" y="14.0" font-family="Liberation Serif, serif" font-size="17.5" fill="#111" >,</text>
<text x="218.3" y="14.0" font-family="Liberation Serif, serif" font-size="17.5" fill="#111" font-style="italic">x</text>
<text x="226.6" y="16.7" font-family="Liberation Serif, serif" font-size="12" fill="#111" >1</text>
<text x="233.8" y="14.0" font-family="Liberation Serif, serif" font-size="17.5" fill="#111" >,</text>
<text x="241.4" y="14.0" font-family="Liberation Serif, serif" font-size="17.5" fill="#111" font-style="italic">x</text>
<text x="250.0" y="16.7" font-family="Liberation Serif, serif" font-size="12" fill="#111" >2</text>
<text x="257.3" y="15.0" font-family="Liberation Serif, serif" font-size="20.5" fill="#111" >)</text>
<text x="262.6" y="15.0" font-family="Liberation Serif, serif" font-size="20.5" fill="#111" >]</text>
<text x="353.0" y="14.0" font-family="Liberation Serif, serif" font-size="17.5" fill="#111"  textLength="73.0" lengthAdjust="spacingAndGlyphs">Estimated</text>
<text x="432.8" y="14.0" font-family="Liberation Serif, serif" font-size="17.5" fill="#111"  textLength="83.4" lengthAdjust="spacingAndGlyphs">expectation</text>
<text x="523.0" y="14.0" font-family="Liberation Serif, serif" font-size="17.5" fill="#111" font-weight="bold" textLength="12.5" lengthAdjust="spacingAndGlyphs">E</text>
<text x="535.5" y="15.0" font-family="Liberation Serif, serif" font-size="20.5" fill="#111" >[</text>
<text x="539.8" y="14.0" font-family="Liberation Serif, serif" font-size="17.5" fill="#111" font-style="italic">&#8467;</text>
<text x="547.0" y="15.0" font-family="Liberation Serif, serif" font-size="20.5" fill="#111" >(</text>
<text x="552.8" y="14.0" font-family="Liberation Serif, serif" font-size="18" fill="#111" font-style="italic">&#969;</text>
<text x="564.6" y="14.0" font-family="Liberation Serif, serif" font-size="17.5" fill="#111" >,</text>
<text x="572.2" y="14.0" font-family="Liberation Serif, serif" font-size="17.5" fill="#111" font-style="italic">x</text>
<text x="580.5" y="16.7" font-family="Liberation Serif, serif" font-size="12" fill="#111" >1</text>
<text x="587.7" y="14.0" font-family="Liberation Serif, serif" font-size="17.5" fill="#111" >,</text>
<text x="595.7" y="14.0" font-family="Liberation Serif, serif" font-size="17.5" fill="#111" font-style="italic">x</text>
<text x="604.3" y="16.7" font-family="Liberation Serif, serif" font-size="12" fill="#111" >2</text>
<text x="611.4" y="15.0" font-family="Liberation Serif, serif" font-size="20.5" fill="#111" >)</text>
<text x="616.9" y="15.0" font-family="Liberation Serif, serif" font-size="20.5" fill="#111" >]</text>
<text x="37.2" y="324.7" font-family="Liberation Serif, serif" font-size="17.5" fill="#111"  textLength="39.4" lengthAdjust="spacingAndGlyphs">Exact</text>
<text x="84.8" y="324.7" font-family="Liberation Serif, serif" font-size="17.5" fill="#111"  textLength="58.8" lengthAdjust="spacingAndGlyphs">variance</text>
<text x="149.8" y="324.7" font-family="Liberation Serif, serif" font-size="17.5" fill="#111"  textLength="25.4" lengthAdjust="spacingAndGlyphs">Var</text>
<text x="175.7" y="325.7" font-family="Liberation Serif, serif" font-size="20.5" fill="#111" >[</text>
<text x="179.4" y="324.7" font-family="Liberation Serif, serif" font-size="17.5" fill="#111" font-style="italic">&#8467;</text>
<path d="M182.4 310.8h5.9" stroke="#111" stroke-width="0.8"/>
<text x="188.2" y="325.7" font-family="Liberation Serif, serif" font-size="20.5" fill="#111" >(</text>
<text x="193.5" y="324.7" font-family="Liberation Serif, serif" font-size="18" fill="#111" font-style="italic">&#969;</text>
<text x="205.4" y="324.7" font-family="Liberation Serif, serif" font-size="17.5" fill="#111" >,</text>
<text x="213.0" y="324.7" font-family="Liberation Serif, serif" font-size="17.5" fill="#111" font-style="italic">x</text>
<text x="221.3" y="327.4" font-family="Liberation Serif, serif" font-size="12" fill="#111" >1</text>
<text x="228.5" y="324.7" font-family="Liberation Serif, serif" font-size="17.5" fill="#111" >,</text>
<text x="236.3" y="324.7" font-family="Liberation Serif, serif" font-size="17.5" fill="#111" font-style="italic">x</text>
<text x="244.9" y="327.4" font-family="Liberation Serif, serif" font-size="12" fill="#111" >2</text>
<text x="252.2" y="325.7" font-family="Liberation Serif, serif" font-size="20.5" fill="#111" >)</text>
<text x="257.7" y="325.7" font-family="Liberation Serif, serif" font-size="20.5" fill="#111" >]</text>
<text x="358.6" y="324.7" font-family="Liberation Serif, serif" font-size="17.5" fill="#111"  textLength="73.1" lengthAdjust="spacingAndGlyphs">Estimated</text>
<text x="438.9" y="324.7" font-family="Liberation Serif, serif" font-size="17.5" fill="#111"  textLength="60.5" lengthAdjust="spacingAndGlyphs">variance</text>
<text x="504.1" y="324.7" font-family="Liberation Serif, serif" font-size="17.5" fill="#111"  textLength="25.9" lengthAdjust="spacingAndGlyphs">Var</text>
<text x="530.0" y="325.7" font-family="Liberation Serif, serif" font-size="20.5" fill="#111" >[</text>
<text x="534.0" y="324.7" font-family="Liberation Serif, serif" font-size="17.5" fill="#111" font-style="italic">&#8467;</text>
<text x="542.1" y="325.7" font-family="Liberation Serif, serif" font-size="20.5" fill="#111" >(</text>
<text x="547.2" y="324.7" font-family="Liberation Serif, serif" font-size="18" fill="#111" font-style="italic">&#969;</text>
<text x="559.3" y="324.7" font-family="Liberation Serif, serif" font-size="17.5" fill="#111" >,</text>
<text x="567.1" y="324.7" font-family="Liberation Serif, serif" font-size="17.5" fill="#111" font-style="italic">x</text>
<text x="575.4" y="327.4" font-family="Liberation Serif, serif" font-size="12" fill="#111" >1</text>
<text x="582.4" y="324.7" font-family="Liberation Serif, serif" font-size="17.5" fill="#111" >,</text>
<text x="590.2" y="324.7" font-family="Liberation Serif, serif" font-size="17.5" fill="#111" font-style="italic">x</text>
<text x="598.8" y="327.4" font-family="Liberation Serif, serif" font-size="12" fill="#111" >2</text>
<text x="606.1" y="325.7" font-family="Liberation Serif, serif" font-size="20.5" fill="#111" >)</text>
<text x="611.6" y="325.7" font-family="Liberation Serif, serif" font-size="20.5" fill="#111" >]</text>
</svg>
</body></html>
